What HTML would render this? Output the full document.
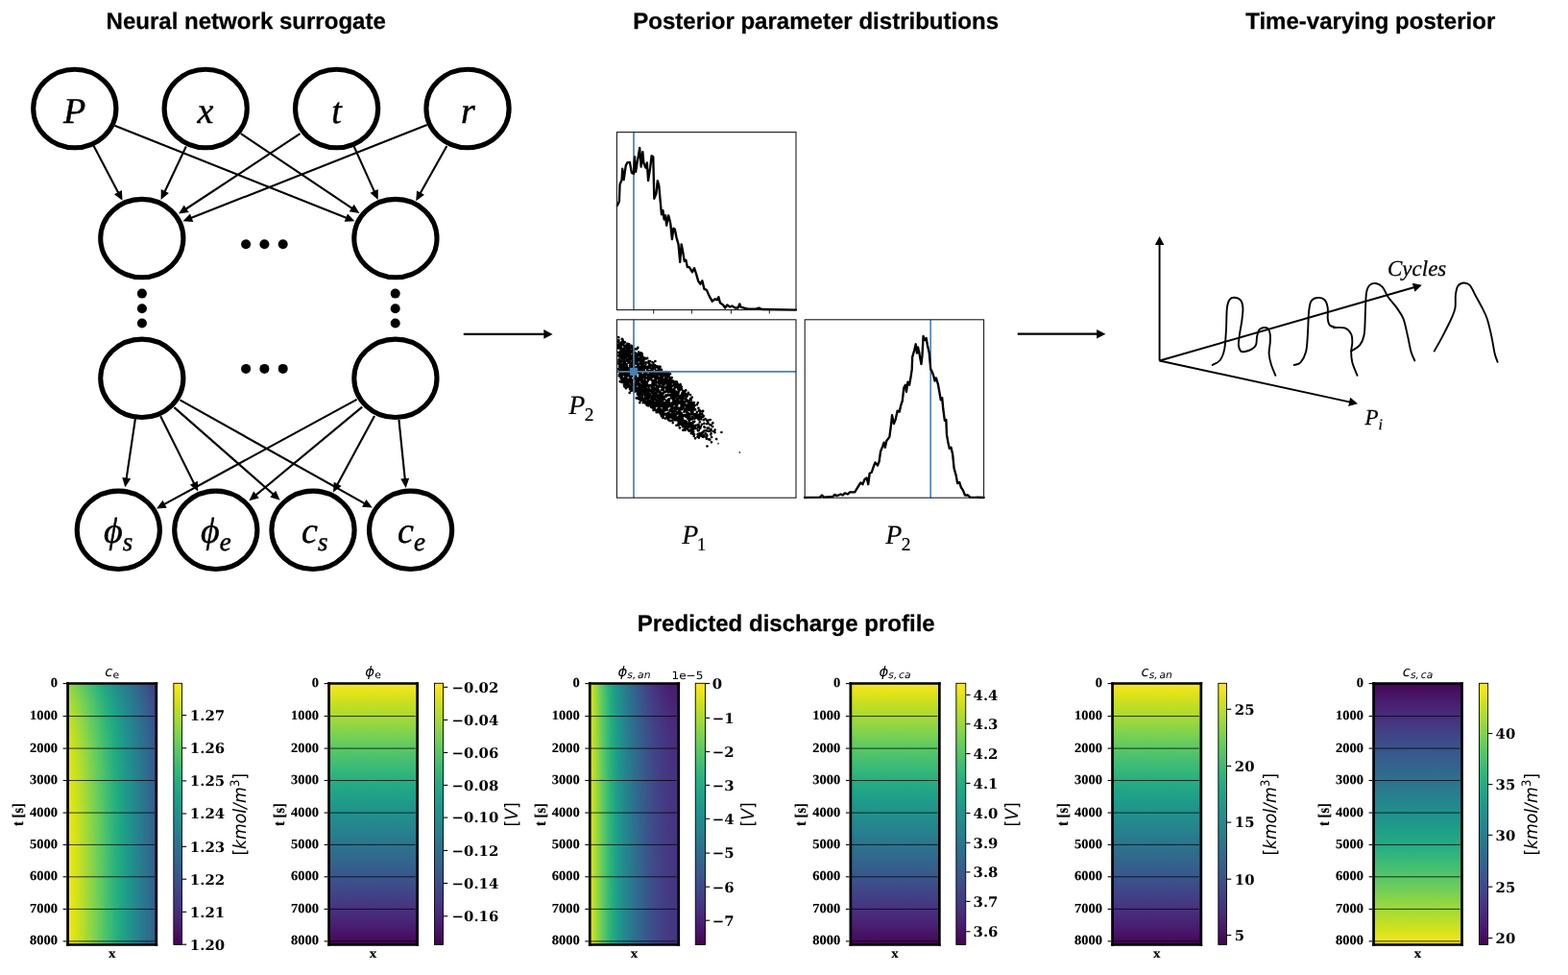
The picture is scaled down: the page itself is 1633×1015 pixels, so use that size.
<!DOCTYPE html>
<html lang="en">
<head>
<meta charset="utf-8">
<title>Neural network surrogate – posterior parameter distributions</title>
<style>
html,body{margin:0;padding:0;background:#fff;}
body{width:1633px;height:1015px;overflow:hidden;}
svg{display:block;}
text{fill:#000;text-rendering:geometricPrecision;}
</style>
</head>
<body>
<svg width="1633" height="1015" viewBox="0 0 1633 1015">
<defs>
<linearGradient id="cb" x1="0" y1="0" x2="0" y2="1"><stop offset="0%" stop-color="#fde725"/><stop offset="3.12%" stop-color="#ece51b"/><stop offset="6.25%" stop-color="#d8e219"/><stop offset="9.38%" stop-color="#c2df23"/><stop offset="12.5%" stop-color="#addc30"/><stop offset="15.62%" stop-color="#98d83e"/><stop offset="18.75%" stop-color="#84d44b"/><stop offset="21.88%" stop-color="#70cf57"/><stop offset="25%" stop-color="#5ec962"/><stop offset="28.12%" stop-color="#4ec36b"/><stop offset="31.25%" stop-color="#3fbc73"/><stop offset="34.38%" stop-color="#32b67a"/><stop offset="37.5%" stop-color="#28ae80"/><stop offset="40.62%" stop-color="#22a785"/><stop offset="43.75%" stop-color="#1fa088"/><stop offset="46.88%" stop-color="#1f988b"/><stop offset="50%" stop-color="#21918c"/><stop offset="53.12%" stop-color="#23898e"/><stop offset="56.25%" stop-color="#26828e"/><stop offset="59.38%" stop-color="#297a8e"/><stop offset="62.5%" stop-color="#2c728e"/><stop offset="65.62%" stop-color="#2f6b8e"/><stop offset="68.75%" stop-color="#33638d"/><stop offset="71.88%" stop-color="#375b8d"/><stop offset="75%" stop-color="#3b528b"/><stop offset="78.12%" stop-color="#3e4989"/><stop offset="81.25%" stop-color="#424086"/><stop offset="84.38%" stop-color="#453781"/><stop offset="87.5%" stop-color="#472d7b"/><stop offset="90.62%" stop-color="#482374"/><stop offset="93.75%" stop-color="#48186a"/><stop offset="96.88%" stop-color="#470d60"/><stop offset="100%" stop-color="#440154"/></linearGradient>
<linearGradient id="g0_0" x1="0" y1="0" x2="0" y2="1"><stop offset="0%" stop-color="#93d741"/><stop offset="8.33%" stop-color="#b8de29"/><stop offset="16.67%" stop-color="#d0e11c"/><stop offset="25%" stop-color="#dde318"/><stop offset="33.33%" stop-color="#e7e419"/><stop offset="41.67%" stop-color="#ece51b"/><stop offset="50%" stop-color="#efe51c"/><stop offset="58.33%" stop-color="#f1e51d"/><stop offset="66.67%" stop-color="#f4e61e"/><stop offset="75%" stop-color="#f4e61e"/><stop offset="83.33%" stop-color="#f4e61e"/><stop offset="91.67%" stop-color="#f4e61e"/><stop offset="100%" stop-color="#f4e61e"/></linearGradient>
<linearGradient id="g0_1" x1="0" y1="0" x2="0" y2="1"><stop offset="0%" stop-color="#90d743"/><stop offset="8.33%" stop-color="#b5de2b"/><stop offset="16.67%" stop-color="#cde11d"/><stop offset="25%" stop-color="#dae319"/><stop offset="33.33%" stop-color="#e2e418"/><stop offset="41.67%" stop-color="#eae51a"/><stop offset="50%" stop-color="#ece51b"/><stop offset="58.33%" stop-color="#efe51c"/><stop offset="66.67%" stop-color="#f1e51d"/><stop offset="75%" stop-color="#f1e51d"/><stop offset="83.33%" stop-color="#f1e51d"/><stop offset="91.67%" stop-color="#f1e51d"/><stop offset="100%" stop-color="#f1e51d"/></linearGradient>
<linearGradient id="g0_2" x1="0" y1="0" x2="0" y2="1"><stop offset="0%" stop-color="#8ed645"/><stop offset="8.33%" stop-color="#b2dd2d"/><stop offset="16.67%" stop-color="#c8e020"/><stop offset="25%" stop-color="#d8e219"/><stop offset="33.33%" stop-color="#dfe318"/><stop offset="41.67%" stop-color="#e5e419"/><stop offset="50%" stop-color="#eae51a"/><stop offset="58.33%" stop-color="#ece51b"/><stop offset="66.67%" stop-color="#ece51b"/><stop offset="75%" stop-color="#efe51c"/><stop offset="83.33%" stop-color="#efe51c"/><stop offset="91.67%" stop-color="#efe51c"/><stop offset="100%" stop-color="#efe51c"/></linearGradient>
<linearGradient id="g0_3" x1="0" y1="0" x2="0" y2="1"><stop offset="0%" stop-color="#8bd646"/><stop offset="8.33%" stop-color="#addc30"/><stop offset="16.67%" stop-color="#c5e021"/><stop offset="25%" stop-color="#d2e21b"/><stop offset="33.33%" stop-color="#dde318"/><stop offset="41.67%" stop-color="#e2e418"/><stop offset="50%" stop-color="#e5e419"/><stop offset="58.33%" stop-color="#e7e419"/><stop offset="66.67%" stop-color="#eae51a"/><stop offset="75%" stop-color="#eae51a"/><stop offset="83.33%" stop-color="#ece51b"/><stop offset="91.67%" stop-color="#ece51b"/><stop offset="100%" stop-color="#ece51b"/></linearGradient>
<linearGradient id="g0_4" x1="0" y1="0" x2="0" y2="1"><stop offset="0%" stop-color="#89d548"/><stop offset="8.33%" stop-color="#aadc32"/><stop offset="16.67%" stop-color="#c2df23"/><stop offset="25%" stop-color="#d0e11c"/><stop offset="33.33%" stop-color="#d8e219"/><stop offset="41.67%" stop-color="#dfe318"/><stop offset="50%" stop-color="#e2e418"/><stop offset="58.33%" stop-color="#e5e419"/><stop offset="66.67%" stop-color="#e7e419"/><stop offset="75%" stop-color="#e7e419"/><stop offset="83.33%" stop-color="#e7e419"/><stop offset="91.67%" stop-color="#e7e419"/><stop offset="100%" stop-color="#e7e419"/></linearGradient>
<linearGradient id="g0_5" x1="0" y1="0" x2="0" y2="1"><stop offset="0%" stop-color="#84d44b"/><stop offset="8.33%" stop-color="#a8db34"/><stop offset="16.67%" stop-color="#bddf26"/><stop offset="25%" stop-color="#cde11d"/><stop offset="33.33%" stop-color="#d5e21a"/><stop offset="41.67%" stop-color="#dae319"/><stop offset="50%" stop-color="#dfe318"/><stop offset="58.33%" stop-color="#e2e418"/><stop offset="66.67%" stop-color="#e2e418"/><stop offset="75%" stop-color="#e2e418"/><stop offset="83.33%" stop-color="#e5e419"/><stop offset="91.67%" stop-color="#e5e419"/><stop offset="100%" stop-color="#e5e419"/></linearGradient>
<linearGradient id="g0_6" x1="0" y1="0" x2="0" y2="1"><stop offset="0%" stop-color="#81d34d"/><stop offset="8.33%" stop-color="#a2da37"/><stop offset="16.67%" stop-color="#bade28"/><stop offset="25%" stop-color="#c8e020"/><stop offset="33.33%" stop-color="#d2e21b"/><stop offset="41.67%" stop-color="#d8e219"/><stop offset="50%" stop-color="#dae319"/><stop offset="58.33%" stop-color="#dde318"/><stop offset="66.67%" stop-color="#dfe318"/><stop offset="75%" stop-color="#dfe318"/><stop offset="83.33%" stop-color="#dfe318"/><stop offset="91.67%" stop-color="#dfe318"/><stop offset="100%" stop-color="#dfe318"/></linearGradient>
<linearGradient id="g0_7" x1="0" y1="0" x2="0" y2="1"><stop offset="0%" stop-color="#7cd250"/><stop offset="8.33%" stop-color="#a0da39"/><stop offset="16.67%" stop-color="#b5de2b"/><stop offset="25%" stop-color="#c5e021"/><stop offset="33.33%" stop-color="#cde11d"/><stop offset="41.67%" stop-color="#d2e21b"/><stop offset="50%" stop-color="#d8e219"/><stop offset="58.33%" stop-color="#dae319"/><stop offset="66.67%" stop-color="#dae319"/><stop offset="75%" stop-color="#dae319"/><stop offset="83.33%" stop-color="#dde318"/><stop offset="91.67%" stop-color="#dde318"/><stop offset="100%" stop-color="#dde318"/></linearGradient>
<linearGradient id="g0_8" x1="0" y1="0" x2="0" y2="1"><stop offset="0%" stop-color="#7ad151"/><stop offset="8.33%" stop-color="#9bd93c"/><stop offset="16.67%" stop-color="#b2dd2d"/><stop offset="25%" stop-color="#c0df25"/><stop offset="33.33%" stop-color="#c8e020"/><stop offset="41.67%" stop-color="#d0e11c"/><stop offset="50%" stop-color="#d2e21b"/><stop offset="58.33%" stop-color="#d5e21a"/><stop offset="66.67%" stop-color="#d8e219"/><stop offset="75%" stop-color="#d8e219"/><stop offset="83.33%" stop-color="#d8e219"/><stop offset="91.67%" stop-color="#d8e219"/><stop offset="100%" stop-color="#d8e219"/></linearGradient>
<linearGradient id="g0_9" x1="0" y1="0" x2="0" y2="1"><stop offset="0%" stop-color="#75d054"/><stop offset="8.33%" stop-color="#98d83e"/><stop offset="16.67%" stop-color="#addc30"/><stop offset="25%" stop-color="#bade28"/><stop offset="33.33%" stop-color="#c5e021"/><stop offset="41.67%" stop-color="#cae11f"/><stop offset="50%" stop-color="#cde11d"/><stop offset="58.33%" stop-color="#d0e11c"/><stop offset="66.67%" stop-color="#d2e21b"/><stop offset="75%" stop-color="#d2e21b"/><stop offset="83.33%" stop-color="#d5e21a"/><stop offset="91.67%" stop-color="#d5e21a"/><stop offset="100%" stop-color="#d5e21a"/></linearGradient>
<linearGradient id="g0_10" x1="0" y1="0" x2="0" y2="1"><stop offset="0%" stop-color="#73d056"/><stop offset="8.33%" stop-color="#93d741"/><stop offset="16.67%" stop-color="#a8db34"/><stop offset="25%" stop-color="#b8de29"/><stop offset="33.33%" stop-color="#c0df25"/><stop offset="41.67%" stop-color="#c8e020"/><stop offset="50%" stop-color="#cae11f"/><stop offset="58.33%" stop-color="#cde11d"/><stop offset="66.67%" stop-color="#cde11d"/><stop offset="75%" stop-color="#d0e11c"/><stop offset="83.33%" stop-color="#d0e11c"/><stop offset="91.67%" stop-color="#d0e11c"/><stop offset="100%" stop-color="#d0e11c"/></linearGradient>
<linearGradient id="g0_11" x1="0" y1="0" x2="0" y2="1"><stop offset="0%" stop-color="#6ece58"/><stop offset="8.33%" stop-color="#8ed645"/><stop offset="16.67%" stop-color="#a5db36"/><stop offset="25%" stop-color="#b2dd2d"/><stop offset="33.33%" stop-color="#bddf26"/><stop offset="41.67%" stop-color="#c2df23"/><stop offset="50%" stop-color="#c5e021"/><stop offset="58.33%" stop-color="#c8e020"/><stop offset="66.67%" stop-color="#cae11f"/><stop offset="75%" stop-color="#cae11f"/><stop offset="83.33%" stop-color="#cae11f"/><stop offset="91.67%" stop-color="#cae11f"/><stop offset="100%" stop-color="#cde11d"/></linearGradient>
<linearGradient id="g0_12" x1="0" y1="0" x2="0" y2="1"><stop offset="0%" stop-color="#69cd5b"/><stop offset="8.33%" stop-color="#8bd646"/><stop offset="16.67%" stop-color="#a0da39"/><stop offset="25%" stop-color="#b0dd2f"/><stop offset="33.33%" stop-color="#b8de29"/><stop offset="41.67%" stop-color="#bddf26"/><stop offset="50%" stop-color="#c2df23"/><stop offset="58.33%" stop-color="#c5e021"/><stop offset="66.67%" stop-color="#c5e021"/><stop offset="75%" stop-color="#c5e021"/><stop offset="83.33%" stop-color="#c8e020"/><stop offset="91.67%" stop-color="#c8e020"/><stop offset="100%" stop-color="#c8e020"/></linearGradient>
<linearGradient id="g0_13" x1="0" y1="0" x2="0" y2="1"><stop offset="0%" stop-color="#67cc5c"/><stop offset="8.33%" stop-color="#86d549"/><stop offset="16.67%" stop-color="#9dd93b"/><stop offset="25%" stop-color="#aadc32"/><stop offset="33.33%" stop-color="#b2dd2d"/><stop offset="41.67%" stop-color="#bade28"/><stop offset="50%" stop-color="#bddf26"/><stop offset="58.33%" stop-color="#c0df25"/><stop offset="66.67%" stop-color="#c0df25"/><stop offset="75%" stop-color="#c2df23"/><stop offset="83.33%" stop-color="#c2df23"/><stop offset="91.67%" stop-color="#c2df23"/><stop offset="100%" stop-color="#c2df23"/></linearGradient>
<linearGradient id="g0_14" x1="0" y1="0" x2="0" y2="1"><stop offset="0%" stop-color="#63cb5f"/><stop offset="8.33%" stop-color="#81d34d"/><stop offset="16.67%" stop-color="#98d83e"/><stop offset="25%" stop-color="#a5db36"/><stop offset="33.33%" stop-color="#b0dd2f"/><stop offset="41.67%" stop-color="#b5de2b"/><stop offset="50%" stop-color="#b8de29"/><stop offset="58.33%" stop-color="#bade28"/><stop offset="66.67%" stop-color="#bddf26"/><stop offset="75%" stop-color="#bddf26"/><stop offset="83.33%" stop-color="#bddf26"/><stop offset="91.67%" stop-color="#bddf26"/><stop offset="100%" stop-color="#c0df25"/></linearGradient>
<linearGradient id="g0_15" x1="0" y1="0" x2="0" y2="1"><stop offset="0%" stop-color="#60ca60"/><stop offset="8.33%" stop-color="#7fd34e"/><stop offset="16.67%" stop-color="#93d741"/><stop offset="25%" stop-color="#a2da37"/><stop offset="33.33%" stop-color="#aadc32"/><stop offset="41.67%" stop-color="#b0dd2f"/><stop offset="50%" stop-color="#b5de2b"/><stop offset="58.33%" stop-color="#b5de2b"/><stop offset="66.67%" stop-color="#b8de29"/><stop offset="75%" stop-color="#b8de29"/><stop offset="83.33%" stop-color="#bade28"/><stop offset="91.67%" stop-color="#bade28"/><stop offset="100%" stop-color="#bade28"/></linearGradient>
<linearGradient id="g0_16" x1="0" y1="0" x2="0" y2="1"><stop offset="0%" stop-color="#5cc863"/><stop offset="8.33%" stop-color="#7ad151"/><stop offset="16.67%" stop-color="#90d743"/><stop offset="25%" stop-color="#9dd93b"/><stop offset="33.33%" stop-color="#a5db36"/><stop offset="41.67%" stop-color="#aadc32"/><stop offset="50%" stop-color="#b0dd2f"/><stop offset="58.33%" stop-color="#b2dd2d"/><stop offset="66.67%" stop-color="#b2dd2d"/><stop offset="75%" stop-color="#b5de2b"/><stop offset="83.33%" stop-color="#b5de2b"/><stop offset="91.67%" stop-color="#b5de2b"/><stop offset="100%" stop-color="#b5de2b"/></linearGradient>
<linearGradient id="g0_17" x1="0" y1="0" x2="0" y2="1"><stop offset="0%" stop-color="#58c765"/><stop offset="8.33%" stop-color="#75d054"/><stop offset="16.67%" stop-color="#8bd646"/><stop offset="25%" stop-color="#98d83e"/><stop offset="33.33%" stop-color="#a2da37"/><stop offset="41.67%" stop-color="#a8db34"/><stop offset="50%" stop-color="#aadc32"/><stop offset="58.33%" stop-color="#addc30"/><stop offset="66.67%" stop-color="#b0dd2f"/><stop offset="75%" stop-color="#b0dd2f"/><stop offset="83.33%" stop-color="#b0dd2f"/><stop offset="91.67%" stop-color="#b0dd2f"/><stop offset="100%" stop-color="#b0dd2f"/></linearGradient>
<linearGradient id="g0_18" x1="0" y1="0" x2="0" y2="1"><stop offset="0%" stop-color="#54c568"/><stop offset="8.33%" stop-color="#73d056"/><stop offset="16.67%" stop-color="#86d549"/><stop offset="25%" stop-color="#93d741"/><stop offset="33.33%" stop-color="#9dd93b"/><stop offset="41.67%" stop-color="#a2da37"/><stop offset="50%" stop-color="#a5db36"/><stop offset="58.33%" stop-color="#a8db34"/><stop offset="66.67%" stop-color="#aadc32"/><stop offset="75%" stop-color="#aadc32"/><stop offset="83.33%" stop-color="#aadc32"/><stop offset="91.67%" stop-color="#addc30"/><stop offset="100%" stop-color="#addc30"/></linearGradient>
<linearGradient id="g0_19" x1="0" y1="0" x2="0" y2="1"><stop offset="0%" stop-color="#52c569"/><stop offset="8.33%" stop-color="#6ece58"/><stop offset="16.67%" stop-color="#81d34d"/><stop offset="25%" stop-color="#90d743"/><stop offset="33.33%" stop-color="#98d83e"/><stop offset="41.67%" stop-color="#9dd93b"/><stop offset="50%" stop-color="#a2da37"/><stop offset="58.33%" stop-color="#a2da37"/><stop offset="66.67%" stop-color="#a5db36"/><stop offset="75%" stop-color="#a5db36"/><stop offset="83.33%" stop-color="#a8db34"/><stop offset="91.67%" stop-color="#a8db34"/><stop offset="100%" stop-color="#a8db34"/></linearGradient>
<linearGradient id="g0_20" x1="0" y1="0" x2="0" y2="1"><stop offset="0%" stop-color="#4ec36b"/><stop offset="8.33%" stop-color="#69cd5b"/><stop offset="16.67%" stop-color="#7fd34e"/><stop offset="25%" stop-color="#8bd646"/><stop offset="33.33%" stop-color="#93d741"/><stop offset="41.67%" stop-color="#98d83e"/><stop offset="50%" stop-color="#9dd93b"/><stop offset="58.33%" stop-color="#a0da39"/><stop offset="66.67%" stop-color="#a0da39"/><stop offset="75%" stop-color="#a2da37"/><stop offset="83.33%" stop-color="#a2da37"/><stop offset="91.67%" stop-color="#a2da37"/><stop offset="100%" stop-color="#a2da37"/></linearGradient>
<linearGradient id="g0_21" x1="0" y1="0" x2="0" y2="1"><stop offset="0%" stop-color="#4ac16d"/><stop offset="8.33%" stop-color="#65cb5e"/><stop offset="16.67%" stop-color="#7ad151"/><stop offset="25%" stop-color="#86d549"/><stop offset="33.33%" stop-color="#90d743"/><stop offset="41.67%" stop-color="#95d840"/><stop offset="50%" stop-color="#98d83e"/><stop offset="58.33%" stop-color="#9bd93c"/><stop offset="66.67%" stop-color="#9bd93c"/><stop offset="75%" stop-color="#9dd93b"/><stop offset="83.33%" stop-color="#9dd93b"/><stop offset="91.67%" stop-color="#9dd93b"/><stop offset="100%" stop-color="#9dd93b"/></linearGradient>
<linearGradient id="g0_22" x1="0" y1="0" x2="0" y2="1"><stop offset="0%" stop-color="#48c16e"/><stop offset="8.33%" stop-color="#63cb5f"/><stop offset="16.67%" stop-color="#75d054"/><stop offset="25%" stop-color="#81d34d"/><stop offset="33.33%" stop-color="#8bd646"/><stop offset="41.67%" stop-color="#90d743"/><stop offset="50%" stop-color="#93d741"/><stop offset="58.33%" stop-color="#95d840"/><stop offset="66.67%" stop-color="#98d83e"/><stop offset="75%" stop-color="#98d83e"/><stop offset="83.33%" stop-color="#98d83e"/><stop offset="91.67%" stop-color="#98d83e"/><stop offset="100%" stop-color="#9bd93c"/></linearGradient>
<linearGradient id="g0_23" x1="0" y1="0" x2="0" y2="1"><stop offset="0%" stop-color="#44bf70"/><stop offset="8.33%" stop-color="#5ec962"/><stop offset="16.67%" stop-color="#70cf57"/><stop offset="25%" stop-color="#7fd34e"/><stop offset="33.33%" stop-color="#86d549"/><stop offset="41.67%" stop-color="#8bd646"/><stop offset="50%" stop-color="#8ed645"/><stop offset="58.33%" stop-color="#90d743"/><stop offset="66.67%" stop-color="#93d741"/><stop offset="75%" stop-color="#93d741"/><stop offset="83.33%" stop-color="#93d741"/><stop offset="91.67%" stop-color="#95d840"/><stop offset="100%" stop-color="#95d840"/></linearGradient>
<linearGradient id="g0_24" x1="0" y1="0" x2="0" y2="1"><stop offset="0%" stop-color="#40bd72"/><stop offset="8.33%" stop-color="#5ac864"/><stop offset="16.67%" stop-color="#6ccd5a"/><stop offset="25%" stop-color="#7ad151"/><stop offset="33.33%" stop-color="#81d34d"/><stop offset="41.67%" stop-color="#86d549"/><stop offset="50%" stop-color="#8bd646"/><stop offset="58.33%" stop-color="#8ed645"/><stop offset="66.67%" stop-color="#8ed645"/><stop offset="75%" stop-color="#8ed645"/><stop offset="83.33%" stop-color="#90d743"/><stop offset="91.67%" stop-color="#90d743"/><stop offset="100%" stop-color="#90d743"/></linearGradient>
<linearGradient id="g0_25" x1="0" y1="0" x2="0" y2="1"><stop offset="0%" stop-color="#3dbc74"/><stop offset="8.33%" stop-color="#56c667"/><stop offset="16.67%" stop-color="#69cd5b"/><stop offset="25%" stop-color="#75d054"/><stop offset="33.33%" stop-color="#7cd250"/><stop offset="41.67%" stop-color="#81d34d"/><stop offset="50%" stop-color="#86d549"/><stop offset="58.33%" stop-color="#89d548"/><stop offset="66.67%" stop-color="#89d548"/><stop offset="75%" stop-color="#8bd646"/><stop offset="83.33%" stop-color="#8bd646"/><stop offset="91.67%" stop-color="#8bd646"/><stop offset="100%" stop-color="#8bd646"/></linearGradient>
<linearGradient id="g0_26" x1="0" y1="0" x2="0" y2="1"><stop offset="0%" stop-color="#3aba76"/><stop offset="8.33%" stop-color="#54c568"/><stop offset="16.67%" stop-color="#65cb5e"/><stop offset="25%" stop-color="#70cf57"/><stop offset="33.33%" stop-color="#77d153"/><stop offset="41.67%" stop-color="#7fd34e"/><stop offset="50%" stop-color="#81d34d"/><stop offset="58.33%" stop-color="#84d44b"/><stop offset="66.67%" stop-color="#84d44b"/><stop offset="75%" stop-color="#86d549"/><stop offset="83.33%" stop-color="#86d549"/><stop offset="91.67%" stop-color="#86d549"/><stop offset="100%" stop-color="#86d549"/></linearGradient>
<linearGradient id="g0_27" x1="0" y1="0" x2="0" y2="1"><stop offset="0%" stop-color="#38b977"/><stop offset="8.33%" stop-color="#50c46a"/><stop offset="16.67%" stop-color="#60ca60"/><stop offset="25%" stop-color="#6ccd5a"/><stop offset="33.33%" stop-color="#75d054"/><stop offset="41.67%" stop-color="#7ad151"/><stop offset="50%" stop-color="#7cd250"/><stop offset="58.33%" stop-color="#7fd34e"/><stop offset="66.67%" stop-color="#81d34d"/><stop offset="75%" stop-color="#81d34d"/><stop offset="83.33%" stop-color="#81d34d"/><stop offset="91.67%" stop-color="#81d34d"/><stop offset="100%" stop-color="#81d34d"/></linearGradient>
<linearGradient id="g0_28" x1="0" y1="0" x2="0" y2="1"><stop offset="0%" stop-color="#35b779"/><stop offset="8.33%" stop-color="#4cc26c"/><stop offset="16.67%" stop-color="#5cc863"/><stop offset="25%" stop-color="#67cc5c"/><stop offset="33.33%" stop-color="#70cf57"/><stop offset="41.67%" stop-color="#75d054"/><stop offset="50%" stop-color="#77d153"/><stop offset="58.33%" stop-color="#7ad151"/><stop offset="66.67%" stop-color="#7cd250"/><stop offset="75%" stop-color="#7cd250"/><stop offset="83.33%" stop-color="#7cd250"/><stop offset="91.67%" stop-color="#7cd250"/><stop offset="100%" stop-color="#7cd250"/></linearGradient>
<linearGradient id="g0_29" x1="0" y1="0" x2="0" y2="1"><stop offset="0%" stop-color="#32b67a"/><stop offset="8.33%" stop-color="#48c16e"/><stop offset="16.67%" stop-color="#58c765"/><stop offset="25%" stop-color="#65cb5e"/><stop offset="33.33%" stop-color="#6ccd5a"/><stop offset="41.67%" stop-color="#70cf57"/><stop offset="50%" stop-color="#73d056"/><stop offset="58.33%" stop-color="#75d054"/><stop offset="66.67%" stop-color="#77d153"/><stop offset="75%" stop-color="#77d153"/><stop offset="83.33%" stop-color="#77d153"/><stop offset="91.67%" stop-color="#7ad151"/><stop offset="100%" stop-color="#7ad151"/></linearGradient>
<linearGradient id="g0_30" x1="0" y1="0" x2="0" y2="1"><stop offset="0%" stop-color="#2fb47c"/><stop offset="8.33%" stop-color="#44bf70"/><stop offset="16.67%" stop-color="#54c568"/><stop offset="25%" stop-color="#60ca60"/><stop offset="33.33%" stop-color="#67cc5c"/><stop offset="41.67%" stop-color="#6ccd5a"/><stop offset="50%" stop-color="#70cf57"/><stop offset="58.33%" stop-color="#70cf57"/><stop offset="66.67%" stop-color="#73d056"/><stop offset="75%" stop-color="#73d056"/><stop offset="83.33%" stop-color="#75d054"/><stop offset="91.67%" stop-color="#75d054"/><stop offset="100%" stop-color="#75d054"/></linearGradient>
<linearGradient id="g0_31" x1="0" y1="0" x2="0" y2="1"><stop offset="0%" stop-color="#2db27d"/><stop offset="8.33%" stop-color="#40bd72"/><stop offset="16.67%" stop-color="#52c569"/><stop offset="25%" stop-color="#5cc863"/><stop offset="33.33%" stop-color="#63cb5f"/><stop offset="41.67%" stop-color="#67cc5c"/><stop offset="50%" stop-color="#6ccd5a"/><stop offset="58.33%" stop-color="#6ccd5a"/><stop offset="66.67%" stop-color="#6ece58"/><stop offset="75%" stop-color="#6ece58"/><stop offset="83.33%" stop-color="#70cf57"/><stop offset="91.67%" stop-color="#70cf57"/><stop offset="100%" stop-color="#70cf57"/></linearGradient>
<linearGradient id="g0_32" x1="0" y1="0" x2="0" y2="1"><stop offset="0%" stop-color="#2cb17e"/><stop offset="8.33%" stop-color="#3dbc74"/><stop offset="16.67%" stop-color="#4ec36b"/><stop offset="25%" stop-color="#58c765"/><stop offset="33.33%" stop-color="#5ec962"/><stop offset="41.67%" stop-color="#63cb5f"/><stop offset="50%" stop-color="#67cc5c"/><stop offset="58.33%" stop-color="#69cd5b"/><stop offset="66.67%" stop-color="#69cd5b"/><stop offset="75%" stop-color="#69cd5b"/><stop offset="83.33%" stop-color="#6ccd5a"/><stop offset="91.67%" stop-color="#6ccd5a"/><stop offset="100%" stop-color="#6ccd5a"/></linearGradient>
<linearGradient id="g0_33" x1="0" y1="0" x2="0" y2="1"><stop offset="0%" stop-color="#29af7f"/><stop offset="8.33%" stop-color="#3bbb75"/><stop offset="16.67%" stop-color="#4ac16d"/><stop offset="25%" stop-color="#54c568"/><stop offset="33.33%" stop-color="#5ac864"/><stop offset="41.67%" stop-color="#5ec962"/><stop offset="50%" stop-color="#63cb5f"/><stop offset="58.33%" stop-color="#65cb5e"/><stop offset="66.67%" stop-color="#65cb5e"/><stop offset="75%" stop-color="#67cc5c"/><stop offset="83.33%" stop-color="#67cc5c"/><stop offset="91.67%" stop-color="#67cc5c"/><stop offset="100%" stop-color="#67cc5c"/></linearGradient>
<linearGradient id="g0_34" x1="0" y1="0" x2="0" y2="1"><stop offset="0%" stop-color="#27ad81"/><stop offset="8.33%" stop-color="#38b977"/><stop offset="16.67%" stop-color="#46c06f"/><stop offset="25%" stop-color="#50c46a"/><stop offset="33.33%" stop-color="#56c667"/><stop offset="41.67%" stop-color="#5cc863"/><stop offset="50%" stop-color="#5ec962"/><stop offset="58.33%" stop-color="#60ca60"/><stop offset="66.67%" stop-color="#60ca60"/><stop offset="75%" stop-color="#63cb5f"/><stop offset="83.33%" stop-color="#63cb5f"/><stop offset="91.67%" stop-color="#63cb5f"/><stop offset="100%" stop-color="#63cb5f"/></linearGradient>
<linearGradient id="g0_35" x1="0" y1="0" x2="0" y2="1"><stop offset="0%" stop-color="#25ac82"/><stop offset="8.33%" stop-color="#35b779"/><stop offset="16.67%" stop-color="#42be71"/><stop offset="25%" stop-color="#4cc26c"/><stop offset="33.33%" stop-color="#54c568"/><stop offset="41.67%" stop-color="#58c765"/><stop offset="50%" stop-color="#5ac864"/><stop offset="58.33%" stop-color="#5cc863"/><stop offset="66.67%" stop-color="#5cc863"/><stop offset="75%" stop-color="#5ec962"/><stop offset="83.33%" stop-color="#5ec962"/><stop offset="91.67%" stop-color="#5ec962"/><stop offset="100%" stop-color="#5ec962"/></linearGradient>
<linearGradient id="g0_36" x1="0" y1="0" x2="0" y2="1"><stop offset="0%" stop-color="#24aa83"/><stop offset="8.33%" stop-color="#32b67a"/><stop offset="16.67%" stop-color="#3fbc73"/><stop offset="25%" stop-color="#48c16e"/><stop offset="33.33%" stop-color="#50c46a"/><stop offset="41.67%" stop-color="#54c568"/><stop offset="50%" stop-color="#56c667"/><stop offset="58.33%" stop-color="#58c765"/><stop offset="66.67%" stop-color="#58c765"/><stop offset="75%" stop-color="#5ac864"/><stop offset="83.33%" stop-color="#5ac864"/><stop offset="91.67%" stop-color="#5ac864"/><stop offset="100%" stop-color="#5ac864"/></linearGradient>
<linearGradient id="g0_37" x1="0" y1="0" x2="0" y2="1"><stop offset="0%" stop-color="#22a884"/><stop offset="8.33%" stop-color="#2fb47c"/><stop offset="16.67%" stop-color="#3bbb75"/><stop offset="25%" stop-color="#44bf70"/><stop offset="33.33%" stop-color="#4cc26c"/><stop offset="41.67%" stop-color="#50c46a"/><stop offset="50%" stop-color="#52c569"/><stop offset="58.33%" stop-color="#54c568"/><stop offset="66.67%" stop-color="#56c667"/><stop offset="75%" stop-color="#56c667"/><stop offset="83.33%" stop-color="#56c667"/><stop offset="91.67%" stop-color="#56c667"/><stop offset="100%" stop-color="#56c667"/></linearGradient>
<linearGradient id="g0_38" x1="0" y1="0" x2="0" y2="1"><stop offset="0%" stop-color="#21a685"/><stop offset="8.33%" stop-color="#2db27d"/><stop offset="16.67%" stop-color="#38b977"/><stop offset="25%" stop-color="#40bd72"/><stop offset="33.33%" stop-color="#48c16e"/><stop offset="41.67%" stop-color="#4cc26c"/><stop offset="50%" stop-color="#4ec36b"/><stop offset="58.33%" stop-color="#50c46a"/><stop offset="66.67%" stop-color="#52c569"/><stop offset="75%" stop-color="#52c569"/><stop offset="83.33%" stop-color="#52c569"/><stop offset="91.67%" stop-color="#52c569"/><stop offset="100%" stop-color="#52c569"/></linearGradient>
<linearGradient id="g0_39" x1="0" y1="0" x2="0" y2="1"><stop offset="0%" stop-color="#20a486"/><stop offset="8.33%" stop-color="#2ab07f"/><stop offset="16.67%" stop-color="#35b779"/><stop offset="25%" stop-color="#3fbc73"/><stop offset="33.33%" stop-color="#44bf70"/><stop offset="41.67%" stop-color="#48c16e"/><stop offset="50%" stop-color="#4ac16d"/><stop offset="58.33%" stop-color="#4cc26c"/><stop offset="66.67%" stop-color="#4ec36b"/><stop offset="75%" stop-color="#4ec36b"/><stop offset="83.33%" stop-color="#4ec36b"/><stop offset="91.67%" stop-color="#4ec36b"/><stop offset="100%" stop-color="#4ec36b"/></linearGradient>
<linearGradient id="g0_40" x1="0" y1="0" x2="0" y2="1"><stop offset="0%" stop-color="#1fa287"/><stop offset="8.33%" stop-color="#28ae80"/><stop offset="16.67%" stop-color="#32b67a"/><stop offset="25%" stop-color="#3bbb75"/><stop offset="33.33%" stop-color="#40bd72"/><stop offset="41.67%" stop-color="#44bf70"/><stop offset="50%" stop-color="#46c06f"/><stop offset="58.33%" stop-color="#48c16e"/><stop offset="66.67%" stop-color="#4ac16d"/><stop offset="75%" stop-color="#4ac16d"/><stop offset="83.33%" stop-color="#4ac16d"/><stop offset="91.67%" stop-color="#4ac16d"/><stop offset="100%" stop-color="#4ac16d"/></linearGradient>
<linearGradient id="g0_41" x1="0" y1="0" x2="0" y2="1"><stop offset="0%" stop-color="#1fa187"/><stop offset="8.33%" stop-color="#26ad81"/><stop offset="16.67%" stop-color="#2fb47c"/><stop offset="25%" stop-color="#38b977"/><stop offset="33.33%" stop-color="#3dbc74"/><stop offset="41.67%" stop-color="#40bd72"/><stop offset="50%" stop-color="#42be71"/><stop offset="58.33%" stop-color="#44bf70"/><stop offset="66.67%" stop-color="#46c06f"/><stop offset="75%" stop-color="#46c06f"/><stop offset="83.33%" stop-color="#46c06f"/><stop offset="91.67%" stop-color="#46c06f"/><stop offset="100%" stop-color="#48c16e"/></linearGradient>
<linearGradient id="g0_42" x1="0" y1="0" x2="0" y2="1"><stop offset="0%" stop-color="#1fa088"/><stop offset="8.33%" stop-color="#25ab82"/><stop offset="16.67%" stop-color="#2eb37c"/><stop offset="25%" stop-color="#35b779"/><stop offset="33.33%" stop-color="#3aba76"/><stop offset="41.67%" stop-color="#3dbc74"/><stop offset="50%" stop-color="#3fbc73"/><stop offset="58.33%" stop-color="#40bd72"/><stop offset="66.67%" stop-color="#42be71"/><stop offset="75%" stop-color="#42be71"/><stop offset="83.33%" stop-color="#42be71"/><stop offset="91.67%" stop-color="#42be71"/><stop offset="100%" stop-color="#44bf70"/></linearGradient>
<linearGradient id="g0_43" x1="0" y1="0" x2="0" y2="1"><stop offset="0%" stop-color="#1f9e89"/><stop offset="8.33%" stop-color="#23a983"/><stop offset="16.67%" stop-color="#2cb17e"/><stop offset="25%" stop-color="#32b67a"/><stop offset="33.33%" stop-color="#37b878"/><stop offset="41.67%" stop-color="#3aba76"/><stop offset="50%" stop-color="#3bbb75"/><stop offset="58.33%" stop-color="#3dbc74"/><stop offset="66.67%" stop-color="#3fbc73"/><stop offset="75%" stop-color="#3fbc73"/><stop offset="83.33%" stop-color="#3fbc73"/><stop offset="91.67%" stop-color="#3fbc73"/><stop offset="100%" stop-color="#40bd72"/></linearGradient>
<linearGradient id="g0_44" x1="0" y1="0" x2="0" y2="1"><stop offset="0%" stop-color="#1e9c89"/><stop offset="8.33%" stop-color="#22a884"/><stop offset="16.67%" stop-color="#29af7f"/><stop offset="25%" stop-color="#2fb47c"/><stop offset="33.33%" stop-color="#34b679"/><stop offset="41.67%" stop-color="#37b878"/><stop offset="50%" stop-color="#38b977"/><stop offset="58.33%" stop-color="#3aba76"/><stop offset="66.67%" stop-color="#3bbb75"/><stop offset="75%" stop-color="#3bbb75"/><stop offset="83.33%" stop-color="#3bbb75"/><stop offset="91.67%" stop-color="#3bbb75"/><stop offset="100%" stop-color="#3dbc74"/></linearGradient>
<linearGradient id="g0_45" x1="0" y1="0" x2="0" y2="1"><stop offset="0%" stop-color="#1f9a8a"/><stop offset="8.33%" stop-color="#21a685"/><stop offset="16.67%" stop-color="#27ad81"/><stop offset="25%" stop-color="#2db27d"/><stop offset="33.33%" stop-color="#31b57b"/><stop offset="41.67%" stop-color="#34b679"/><stop offset="50%" stop-color="#35b779"/><stop offset="58.33%" stop-color="#37b878"/><stop offset="66.67%" stop-color="#38b977"/><stop offset="75%" stop-color="#38b977"/><stop offset="83.33%" stop-color="#38b977"/><stop offset="91.67%" stop-color="#3aba76"/><stop offset="100%" stop-color="#3aba76"/></linearGradient>
<linearGradient id="g0_46" x1="0" y1="0" x2="0" y2="1"><stop offset="0%" stop-color="#1f988b"/><stop offset="8.33%" stop-color="#20a486"/><stop offset="16.67%" stop-color="#25ac82"/><stop offset="25%" stop-color="#2ab07f"/><stop offset="33.33%" stop-color="#2eb37c"/><stop offset="41.67%" stop-color="#31b57b"/><stop offset="50%" stop-color="#32b67a"/><stop offset="58.33%" stop-color="#34b679"/><stop offset="66.67%" stop-color="#35b779"/><stop offset="75%" stop-color="#35b779"/><stop offset="83.33%" stop-color="#35b779"/><stop offset="91.67%" stop-color="#37b878"/><stop offset="100%" stop-color="#37b878"/></linearGradient>
<linearGradient id="g0_47" x1="0" y1="0" x2="0" y2="1"><stop offset="0%" stop-color="#1f968b"/><stop offset="8.33%" stop-color="#1fa287"/><stop offset="16.67%" stop-color="#24aa83"/><stop offset="25%" stop-color="#28ae80"/><stop offset="33.33%" stop-color="#2cb17e"/><stop offset="41.67%" stop-color="#2eb37c"/><stop offset="50%" stop-color="#2fb47c"/><stop offset="58.33%" stop-color="#31b57b"/><stop offset="66.67%" stop-color="#32b67a"/><stop offset="75%" stop-color="#32b67a"/><stop offset="83.33%" stop-color="#32b67a"/><stop offset="91.67%" stop-color="#34b679"/><stop offset="100%" stop-color="#34b679"/></linearGradient>
<linearGradient id="g0_48" x1="0" y1="0" x2="0" y2="1"><stop offset="0%" stop-color="#1f948c"/><stop offset="8.33%" stop-color="#1fa188"/><stop offset="16.67%" stop-color="#22a884"/><stop offset="25%" stop-color="#26ad81"/><stop offset="33.33%" stop-color="#29af7f"/><stop offset="41.67%" stop-color="#2cb17e"/><stop offset="50%" stop-color="#2db27d"/><stop offset="58.33%" stop-color="#2eb37c"/><stop offset="66.67%" stop-color="#2fb47c"/><stop offset="75%" stop-color="#2fb47c"/><stop offset="83.33%" stop-color="#2fb47c"/><stop offset="91.67%" stop-color="#2fb47c"/><stop offset="100%" stop-color="#31b57b"/></linearGradient>
<linearGradient id="g0_49" x1="0" y1="0" x2="0" y2="1"><stop offset="0%" stop-color="#20928c"/><stop offset="8.33%" stop-color="#1f9f88"/><stop offset="16.67%" stop-color="#21a685"/><stop offset="25%" stop-color="#25ab82"/><stop offset="33.33%" stop-color="#27ad81"/><stop offset="41.67%" stop-color="#29af7f"/><stop offset="50%" stop-color="#2ab07f"/><stop offset="58.33%" stop-color="#2cb17e"/><stop offset="66.67%" stop-color="#2db27d"/><stop offset="75%" stop-color="#2db27d"/><stop offset="83.33%" stop-color="#2db27d"/><stop offset="91.67%" stop-color="#2db27d"/><stop offset="100%" stop-color="#2eb37c"/></linearGradient>
<linearGradient id="g0_50" x1="0" y1="0" x2="0" y2="1"><stop offset="0%" stop-color="#21918c"/><stop offset="8.33%" stop-color="#1e9d89"/><stop offset="16.67%" stop-color="#20a486"/><stop offset="25%" stop-color="#23a983"/><stop offset="33.33%" stop-color="#25ac82"/><stop offset="41.67%" stop-color="#27ad81"/><stop offset="50%" stop-color="#28ae80"/><stop offset="58.33%" stop-color="#29af7f"/><stop offset="66.67%" stop-color="#2ab07f"/><stop offset="75%" stop-color="#2ab07f"/><stop offset="83.33%" stop-color="#2ab07f"/><stop offset="91.67%" stop-color="#2ab07f"/><stop offset="100%" stop-color="#2cb17e"/></linearGradient>
<linearGradient id="g0_51" x1="0" y1="0" x2="0" y2="1"><stop offset="0%" stop-color="#218f8d"/><stop offset="8.33%" stop-color="#1e9b8a"/><stop offset="16.67%" stop-color="#1fa287"/><stop offset="25%" stop-color="#22a785"/><stop offset="33.33%" stop-color="#24aa83"/><stop offset="41.67%" stop-color="#25ac82"/><stop offset="50%" stop-color="#26ad81"/><stop offset="58.33%" stop-color="#27ad81"/><stop offset="66.67%" stop-color="#28ae80"/><stop offset="75%" stop-color="#28ae80"/><stop offset="83.33%" stop-color="#28ae80"/><stop offset="91.67%" stop-color="#28ae80"/><stop offset="100%" stop-color="#29af7f"/></linearGradient>
<linearGradient id="g0_52" x1="0" y1="0" x2="0" y2="1"><stop offset="0%" stop-color="#228d8d"/><stop offset="8.33%" stop-color="#1f998a"/><stop offset="16.67%" stop-color="#1fa188"/><stop offset="25%" stop-color="#21a585"/><stop offset="33.33%" stop-color="#22a884"/><stop offset="41.67%" stop-color="#24aa83"/><stop offset="50%" stop-color="#25ab82"/><stop offset="58.33%" stop-color="#25ac82"/><stop offset="66.67%" stop-color="#26ad81"/><stop offset="75%" stop-color="#26ad81"/><stop offset="83.33%" stop-color="#26ad81"/><stop offset="91.67%" stop-color="#26ad81"/><stop offset="100%" stop-color="#26ad81"/></linearGradient>
<linearGradient id="g0_53" x1="0" y1="0" x2="0" y2="1"><stop offset="0%" stop-color="#228b8d"/><stop offset="8.33%" stop-color="#1f978b"/><stop offset="16.67%" stop-color="#1f9f88"/><stop offset="25%" stop-color="#20a386"/><stop offset="33.33%" stop-color="#21a685"/><stop offset="41.67%" stop-color="#22a884"/><stop offset="50%" stop-color="#23a983"/><stop offset="58.33%" stop-color="#24aa83"/><stop offset="66.67%" stop-color="#25ab82"/><stop offset="75%" stop-color="#25ab82"/><stop offset="83.33%" stop-color="#25ab82"/><stop offset="91.67%" stop-color="#25ab82"/><stop offset="100%" stop-color="#25ab82"/></linearGradient>
<linearGradient id="g0_54" x1="0" y1="0" x2="0" y2="1"><stop offset="0%" stop-color="#23898e"/><stop offset="8.33%" stop-color="#1f958b"/><stop offset="16.67%" stop-color="#1e9d89"/><stop offset="25%" stop-color="#1fa187"/><stop offset="33.33%" stop-color="#20a486"/><stop offset="41.67%" stop-color="#21a685"/><stop offset="50%" stop-color="#22a785"/><stop offset="58.33%" stop-color="#22a884"/><stop offset="66.67%" stop-color="#23a983"/><stop offset="75%" stop-color="#23a983"/><stop offset="83.33%" stop-color="#23a983"/><stop offset="91.67%" stop-color="#23a983"/><stop offset="100%" stop-color="#23a983"/></linearGradient>
<linearGradient id="g0_55" x1="0" y1="0" x2="0" y2="1"><stop offset="0%" stop-color="#24878e"/><stop offset="8.33%" stop-color="#20938c"/><stop offset="16.67%" stop-color="#1e9b8a"/><stop offset="25%" stop-color="#1fa088"/><stop offset="33.33%" stop-color="#1fa287"/><stop offset="41.67%" stop-color="#20a486"/><stop offset="50%" stop-color="#21a585"/><stop offset="58.33%" stop-color="#21a685"/><stop offset="66.67%" stop-color="#22a785"/><stop offset="75%" stop-color="#22a785"/><stop offset="83.33%" stop-color="#22a785"/><stop offset="91.67%" stop-color="#22a785"/><stop offset="100%" stop-color="#22a785"/></linearGradient>
<linearGradient id="g0_56" x1="0" y1="0" x2="0" y2="1"><stop offset="0%" stop-color="#25858e"/><stop offset="8.33%" stop-color="#20928c"/><stop offset="16.67%" stop-color="#1f998a"/><stop offset="25%" stop-color="#1f9e89"/><stop offset="33.33%" stop-color="#1fa188"/><stop offset="41.67%" stop-color="#1fa287"/><stop offset="50%" stop-color="#20a386"/><stop offset="58.33%" stop-color="#20a486"/><stop offset="66.67%" stop-color="#21a585"/><stop offset="75%" stop-color="#21a585"/><stop offset="83.33%" stop-color="#21a585"/><stop offset="91.67%" stop-color="#21a585"/><stop offset="100%" stop-color="#21a585"/></linearGradient>
<linearGradient id="g0_57" x1="0" y1="0" x2="0" y2="1"><stop offset="0%" stop-color="#25838e"/><stop offset="8.33%" stop-color="#21908d"/><stop offset="16.67%" stop-color="#1f978b"/><stop offset="25%" stop-color="#1e9c89"/><stop offset="33.33%" stop-color="#1f9f88"/><stop offset="41.67%" stop-color="#1fa188"/><stop offset="50%" stop-color="#1fa187"/><stop offset="58.33%" stop-color="#1fa287"/><stop offset="66.67%" stop-color="#1fa287"/><stop offset="75%" stop-color="#20a386"/><stop offset="83.33%" stop-color="#20a386"/><stop offset="91.67%" stop-color="#20a386"/><stop offset="100%" stop-color="#20a386"/></linearGradient>
<linearGradient id="g0_58" x1="0" y1="0" x2="0" y2="1"><stop offset="0%" stop-color="#26828e"/><stop offset="8.33%" stop-color="#218e8d"/><stop offset="16.67%" stop-color="#1f958b"/><stop offset="25%" stop-color="#1f9a8a"/><stop offset="33.33%" stop-color="#1e9d89"/><stop offset="41.67%" stop-color="#1f9f88"/><stop offset="50%" stop-color="#1fa088"/><stop offset="58.33%" stop-color="#1fa188"/><stop offset="66.67%" stop-color="#1fa188"/><stop offset="75%" stop-color="#1fa187"/><stop offset="83.33%" stop-color="#1fa187"/><stop offset="91.67%" stop-color="#1fa187"/><stop offset="100%" stop-color="#1fa187"/></linearGradient>
<linearGradient id="g0_59" x1="0" y1="0" x2="0" y2="1"><stop offset="0%" stop-color="#27808e"/><stop offset="8.33%" stop-color="#228c8d"/><stop offset="16.67%" stop-color="#20928c"/><stop offset="25%" stop-color="#1f978b"/><stop offset="33.33%" stop-color="#1e9b8a"/><stop offset="41.67%" stop-color="#1e9d89"/><stop offset="50%" stop-color="#1f9e89"/><stop offset="58.33%" stop-color="#1f9f88"/><stop offset="66.67%" stop-color="#1f9f88"/><stop offset="75%" stop-color="#1fa088"/><stop offset="83.33%" stop-color="#1fa088"/><stop offset="91.67%" stop-color="#1fa088"/><stop offset="100%" stop-color="#1fa088"/></linearGradient>
<linearGradient id="g0_60" x1="0" y1="0" x2="0" y2="1"><stop offset="0%" stop-color="#277e8e"/><stop offset="8.33%" stop-color="#238a8d"/><stop offset="16.67%" stop-color="#21918c"/><stop offset="25%" stop-color="#1f958b"/><stop offset="33.33%" stop-color="#1f998a"/><stop offset="41.67%" stop-color="#1e9b8a"/><stop offset="50%" stop-color="#1e9c89"/><stop offset="58.33%" stop-color="#1e9d89"/><stop offset="66.67%" stop-color="#1e9d89"/><stop offset="75%" stop-color="#1f9e89"/><stop offset="83.33%" stop-color="#1f9e89"/><stop offset="91.67%" stop-color="#1f9e89"/><stop offset="100%" stop-color="#1f9e89"/></linearGradient>
<linearGradient id="g0_61" x1="0" y1="0" x2="0" y2="1"><stop offset="0%" stop-color="#287c8e"/><stop offset="8.33%" stop-color="#23888e"/><stop offset="16.67%" stop-color="#218f8d"/><stop offset="25%" stop-color="#20938c"/><stop offset="33.33%" stop-color="#1f978b"/><stop offset="41.67%" stop-color="#1f998a"/><stop offset="50%" stop-color="#1f9a8a"/><stop offset="58.33%" stop-color="#1e9b8a"/><stop offset="66.67%" stop-color="#1e9b8a"/><stop offset="75%" stop-color="#1e9c89"/><stop offset="83.33%" stop-color="#1e9c89"/><stop offset="91.67%" stop-color="#1e9c89"/><stop offset="100%" stop-color="#1e9c89"/></linearGradient>
<linearGradient id="g0_62" x1="0" y1="0" x2="0" y2="1"><stop offset="0%" stop-color="#297a8e"/><stop offset="8.33%" stop-color="#25858e"/><stop offset="16.67%" stop-color="#228d8d"/><stop offset="25%" stop-color="#20928c"/><stop offset="33.33%" stop-color="#1f948c"/><stop offset="41.67%" stop-color="#1f968b"/><stop offset="50%" stop-color="#1f988b"/><stop offset="58.33%" stop-color="#1f998a"/><stop offset="66.67%" stop-color="#1f998a"/><stop offset="75%" stop-color="#1f998a"/><stop offset="83.33%" stop-color="#1f9a8a"/><stop offset="91.67%" stop-color="#1f9a8a"/><stop offset="100%" stop-color="#1f9a8a"/></linearGradient>
<linearGradient id="g0_63" x1="0" y1="0" x2="0" y2="1"><stop offset="0%" stop-color="#2a788e"/><stop offset="8.33%" stop-color="#25838e"/><stop offset="16.67%" stop-color="#228b8d"/><stop offset="25%" stop-color="#21908d"/><stop offset="33.33%" stop-color="#20928c"/><stop offset="41.67%" stop-color="#1f948c"/><stop offset="50%" stop-color="#1f968b"/><stop offset="58.33%" stop-color="#1f978b"/><stop offset="66.67%" stop-color="#1f978b"/><stop offset="75%" stop-color="#1f978b"/><stop offset="83.33%" stop-color="#1f988b"/><stop offset="91.67%" stop-color="#1f988b"/><stop offset="100%" stop-color="#1f988b"/></linearGradient>
<linearGradient id="g0_64" x1="0" y1="0" x2="0" y2="1"><stop offset="0%" stop-color="#2a768e"/><stop offset="8.33%" stop-color="#26828e"/><stop offset="16.67%" stop-color="#23898e"/><stop offset="25%" stop-color="#218e8d"/><stop offset="33.33%" stop-color="#21918c"/><stop offset="41.67%" stop-color="#20928c"/><stop offset="50%" stop-color="#1f948c"/><stop offset="58.33%" stop-color="#1f948c"/><stop offset="66.67%" stop-color="#1f958b"/><stop offset="75%" stop-color="#1f958b"/><stop offset="83.33%" stop-color="#1f958b"/><stop offset="91.67%" stop-color="#1f968b"/><stop offset="100%" stop-color="#1f968b"/></linearGradient>
<linearGradient id="g0_65" x1="0" y1="0" x2="0" y2="1"><stop offset="0%" stop-color="#2b748e"/><stop offset="8.33%" stop-color="#27808e"/><stop offset="16.67%" stop-color="#24878e"/><stop offset="25%" stop-color="#228c8d"/><stop offset="33.33%" stop-color="#218f8d"/><stop offset="41.67%" stop-color="#21918c"/><stop offset="50%" stop-color="#20928c"/><stop offset="58.33%" stop-color="#20928c"/><stop offset="66.67%" stop-color="#20938c"/><stop offset="75%" stop-color="#20938c"/><stop offset="83.33%" stop-color="#20938c"/><stop offset="91.67%" stop-color="#1f948c"/><stop offset="100%" stop-color="#1f948c"/></linearGradient>
<linearGradient id="g0_66" x1="0" y1="0" x2="0" y2="1"><stop offset="0%" stop-color="#2c728e"/><stop offset="8.33%" stop-color="#277e8e"/><stop offset="16.67%" stop-color="#25858e"/><stop offset="25%" stop-color="#238a8d"/><stop offset="33.33%" stop-color="#228d8d"/><stop offset="41.67%" stop-color="#218f8d"/><stop offset="50%" stop-color="#21908d"/><stop offset="58.33%" stop-color="#21918c"/><stop offset="66.67%" stop-color="#20928c"/><stop offset="75%" stop-color="#20928c"/><stop offset="83.33%" stop-color="#20928c"/><stop offset="91.67%" stop-color="#20928c"/><stop offset="100%" stop-color="#20928c"/></linearGradient>
<linearGradient id="g0_67" x1="0" y1="0" x2="0" y2="1"><stop offset="0%" stop-color="#2d718e"/><stop offset="8.33%" stop-color="#287c8e"/><stop offset="16.67%" stop-color="#25838e"/><stop offset="25%" stop-color="#23888e"/><stop offset="33.33%" stop-color="#228b8d"/><stop offset="41.67%" stop-color="#228d8d"/><stop offset="50%" stop-color="#218e8d"/><stop offset="58.33%" stop-color="#218f8d"/><stop offset="66.67%" stop-color="#21908d"/><stop offset="75%" stop-color="#21908d"/><stop offset="83.33%" stop-color="#21908d"/><stop offset="91.67%" stop-color="#21908d"/><stop offset="100%" stop-color="#21908d"/></linearGradient>
<linearGradient id="g0_68" x1="0" y1="0" x2="0" y2="1"><stop offset="0%" stop-color="#2e6f8e"/><stop offset="8.33%" stop-color="#297a8e"/><stop offset="16.67%" stop-color="#26828e"/><stop offset="25%" stop-color="#24868e"/><stop offset="33.33%" stop-color="#23898e"/><stop offset="41.67%" stop-color="#228b8d"/><stop offset="50%" stop-color="#228c8d"/><stop offset="58.33%" stop-color="#228d8d"/><stop offset="66.67%" stop-color="#218e8d"/><stop offset="75%" stop-color="#218e8d"/><stop offset="83.33%" stop-color="#218e8d"/><stop offset="91.67%" stop-color="#218e8d"/><stop offset="100%" stop-color="#218e8d"/></linearGradient>
<linearGradient id="g0_69" x1="0" y1="0" x2="0" y2="1"><stop offset="0%" stop-color="#2e6d8e"/><stop offset="8.33%" stop-color="#2a788e"/><stop offset="16.67%" stop-color="#27808e"/><stop offset="25%" stop-color="#25848e"/><stop offset="33.33%" stop-color="#24878e"/><stop offset="41.67%" stop-color="#23898e"/><stop offset="50%" stop-color="#238a8d"/><stop offset="58.33%" stop-color="#228b8d"/><stop offset="66.67%" stop-color="#228b8d"/><stop offset="75%" stop-color="#228c8d"/><stop offset="83.33%" stop-color="#228c8d"/><stop offset="91.67%" stop-color="#228c8d"/><stop offset="100%" stop-color="#228c8d"/></linearGradient>
<linearGradient id="g0_70" x1="0" y1="0" x2="0" y2="1"><stop offset="0%" stop-color="#2f6b8e"/><stop offset="8.33%" stop-color="#2a768e"/><stop offset="16.67%" stop-color="#277e8e"/><stop offset="25%" stop-color="#26828e"/><stop offset="33.33%" stop-color="#25858e"/><stop offset="41.67%" stop-color="#24878e"/><stop offset="50%" stop-color="#23888e"/><stop offset="58.33%" stop-color="#23898e"/><stop offset="66.67%" stop-color="#23898e"/><stop offset="75%" stop-color="#238a8d"/><stop offset="83.33%" stop-color="#238a8d"/><stop offset="91.67%" stop-color="#238a8d"/><stop offset="100%" stop-color="#238a8d"/></linearGradient>
<linearGradient id="g0_71" x1="0" y1="0" x2="0" y2="1"><stop offset="0%" stop-color="#30698e"/><stop offset="8.33%" stop-color="#2b748e"/><stop offset="16.67%" stop-color="#287c8e"/><stop offset="25%" stop-color="#27808e"/><stop offset="33.33%" stop-color="#25838e"/><stop offset="41.67%" stop-color="#25858e"/><stop offset="50%" stop-color="#24868e"/><stop offset="58.33%" stop-color="#24878e"/><stop offset="66.67%" stop-color="#24878e"/><stop offset="75%" stop-color="#24878e"/><stop offset="83.33%" stop-color="#23888e"/><stop offset="91.67%" stop-color="#23888e"/><stop offset="100%" stop-color="#23888e"/></linearGradient>
<linearGradient id="g0_72" x1="0" y1="0" x2="0" y2="1"><stop offset="0%" stop-color="#31678e"/><stop offset="8.33%" stop-color="#2c728e"/><stop offset="16.67%" stop-color="#29798e"/><stop offset="25%" stop-color="#277e8e"/><stop offset="33.33%" stop-color="#26818e"/><stop offset="41.67%" stop-color="#26828e"/><stop offset="50%" stop-color="#25848e"/><stop offset="58.33%" stop-color="#25858e"/><stop offset="66.67%" stop-color="#25858e"/><stop offset="75%" stop-color="#25858e"/><stop offset="83.33%" stop-color="#24868e"/><stop offset="91.67%" stop-color="#24868e"/><stop offset="100%" stop-color="#24868e"/></linearGradient>
<linearGradient id="g0_73" x1="0" y1="0" x2="0" y2="1"><stop offset="0%" stop-color="#32658e"/><stop offset="8.33%" stop-color="#2d718e"/><stop offset="16.67%" stop-color="#2a778e"/><stop offset="25%" stop-color="#287c8e"/><stop offset="33.33%" stop-color="#277f8e"/><stop offset="41.67%" stop-color="#26818e"/><stop offset="50%" stop-color="#26828e"/><stop offset="58.33%" stop-color="#26828e"/><stop offset="66.67%" stop-color="#25838e"/><stop offset="75%" stop-color="#25838e"/><stop offset="83.33%" stop-color="#25838e"/><stop offset="91.67%" stop-color="#25848e"/><stop offset="100%" stop-color="#25848e"/></linearGradient>
<linearGradient id="g0_74" x1="0" y1="0" x2="0" y2="1"><stop offset="0%" stop-color="#33638d"/><stop offset="8.33%" stop-color="#2e6f8e"/><stop offset="16.67%" stop-color="#2b758e"/><stop offset="25%" stop-color="#297a8e"/><stop offset="33.33%" stop-color="#287d8e"/><stop offset="41.67%" stop-color="#277f8e"/><stop offset="50%" stop-color="#27808e"/><stop offset="58.33%" stop-color="#26818e"/><stop offset="66.67%" stop-color="#26828e"/><stop offset="75%" stop-color="#26828e"/><stop offset="83.33%" stop-color="#26828e"/><stop offset="91.67%" stop-color="#26828e"/><stop offset="100%" stop-color="#26828e"/></linearGradient>
<linearGradient id="g0_75" x1="0" y1="0" x2="0" y2="1"><stop offset="0%" stop-color="#34608d"/><stop offset="8.33%" stop-color="#2f6c8e"/><stop offset="16.67%" stop-color="#2c738e"/><stop offset="25%" stop-color="#2a788e"/><stop offset="33.33%" stop-color="#297b8e"/><stop offset="41.67%" stop-color="#287d8e"/><stop offset="50%" stop-color="#277e8e"/><stop offset="58.33%" stop-color="#277f8e"/><stop offset="66.67%" stop-color="#27808e"/><stop offset="75%" stop-color="#27808e"/><stop offset="83.33%" stop-color="#27808e"/><stop offset="91.67%" stop-color="#27808e"/><stop offset="100%" stop-color="#27808e"/></linearGradient>
<linearGradient id="g0_76" x1="0" y1="0" x2="0" y2="1"><stop offset="0%" stop-color="#355e8d"/><stop offset="8.33%" stop-color="#306a8e"/><stop offset="16.67%" stop-color="#2c718e"/><stop offset="25%" stop-color="#2a768e"/><stop offset="33.33%" stop-color="#29798e"/><stop offset="41.67%" stop-color="#297b8e"/><stop offset="50%" stop-color="#287c8e"/><stop offset="58.33%" stop-color="#287d8e"/><stop offset="66.67%" stop-color="#287d8e"/><stop offset="75%" stop-color="#277e8e"/><stop offset="83.33%" stop-color="#277e8e"/><stop offset="91.67%" stop-color="#277e8e"/><stop offset="100%" stop-color="#277e8e"/></linearGradient>
<linearGradient id="g0_77" x1="0" y1="0" x2="0" y2="1"><stop offset="0%" stop-color="#365c8d"/><stop offset="8.33%" stop-color="#31688e"/><stop offset="16.67%" stop-color="#2d708e"/><stop offset="25%" stop-color="#2b748e"/><stop offset="33.33%" stop-color="#2a778e"/><stop offset="41.67%" stop-color="#29798e"/><stop offset="50%" stop-color="#297a8e"/><stop offset="58.33%" stop-color="#297b8e"/><stop offset="66.67%" stop-color="#297b8e"/><stop offset="75%" stop-color="#287c8e"/><stop offset="83.33%" stop-color="#287c8e"/><stop offset="91.67%" stop-color="#287c8e"/><stop offset="100%" stop-color="#287c8e"/></linearGradient>
<linearGradient id="g0_78" x1="0" y1="0" x2="0" y2="1"><stop offset="0%" stop-color="#375a8c"/><stop offset="8.33%" stop-color="#31668e"/><stop offset="16.67%" stop-color="#2e6e8e"/><stop offset="25%" stop-color="#2c728e"/><stop offset="33.33%" stop-color="#2b758e"/><stop offset="41.67%" stop-color="#2a778e"/><stop offset="50%" stop-color="#2a788e"/><stop offset="58.33%" stop-color="#29798e"/><stop offset="66.67%" stop-color="#29798e"/><stop offset="75%" stop-color="#297a8e"/><stop offset="83.33%" stop-color="#297a8e"/><stop offset="91.67%" stop-color="#297a8e"/><stop offset="100%" stop-color="#297a8e"/></linearGradient>
<linearGradient id="g0_79" x1="0" y1="0" x2="0" y2="1"><stop offset="0%" stop-color="#38588c"/><stop offset="8.33%" stop-color="#32648e"/><stop offset="16.67%" stop-color="#2f6c8e"/><stop offset="25%" stop-color="#2d708e"/><stop offset="33.33%" stop-color="#2c738e"/><stop offset="41.67%" stop-color="#2b758e"/><stop offset="50%" stop-color="#2a768e"/><stop offset="58.33%" stop-color="#2a778e"/><stop offset="66.67%" stop-color="#2a778e"/><stop offset="75%" stop-color="#2a778e"/><stop offset="83.33%" stop-color="#2a788e"/><stop offset="91.67%" stop-color="#2a788e"/><stop offset="100%" stop-color="#2a788e"/></linearGradient>
<linearGradient id="g0_80" x1="0" y1="0" x2="0" y2="1"><stop offset="0%" stop-color="#39558c"/><stop offset="8.33%" stop-color="#33628d"/><stop offset="16.67%" stop-color="#30698e"/><stop offset="25%" stop-color="#2e6e8e"/><stop offset="33.33%" stop-color="#2d718e"/><stop offset="41.67%" stop-color="#2c728e"/><stop offset="50%" stop-color="#2b748e"/><stop offset="58.33%" stop-color="#2b748e"/><stop offset="66.67%" stop-color="#2b758e"/><stop offset="75%" stop-color="#2b758e"/><stop offset="83.33%" stop-color="#2b758e"/><stop offset="91.67%" stop-color="#2a768e"/><stop offset="100%" stop-color="#2a768e"/></linearGradient>
<linearGradient id="g0_81" x1="0" y1="0" x2="0" y2="1"><stop offset="0%" stop-color="#3a538b"/><stop offset="8.33%" stop-color="#34608d"/><stop offset="16.67%" stop-color="#31678e"/><stop offset="25%" stop-color="#2f6c8e"/><stop offset="33.33%" stop-color="#2e6f8e"/><stop offset="41.67%" stop-color="#2d718e"/><stop offset="50%" stop-color="#2c718e"/><stop offset="58.33%" stop-color="#2c728e"/><stop offset="66.67%" stop-color="#2c738e"/><stop offset="75%" stop-color="#2c738e"/><stop offset="83.33%" stop-color="#2c738e"/><stop offset="91.67%" stop-color="#2c738e"/><stop offset="100%" stop-color="#2c738e"/></linearGradient>
<linearGradient id="g0_82" x1="0" y1="0" x2="0" y2="1"><stop offset="0%" stop-color="#3b518b"/><stop offset="8.33%" stop-color="#355e8d"/><stop offset="16.67%" stop-color="#32658e"/><stop offset="25%" stop-color="#306a8e"/><stop offset="33.33%" stop-color="#2e6d8e"/><stop offset="41.67%" stop-color="#2e6f8e"/><stop offset="50%" stop-color="#2d708e"/><stop offset="58.33%" stop-color="#2d718e"/><stop offset="66.67%" stop-color="#2c718e"/><stop offset="75%" stop-color="#2c718e"/><stop offset="83.33%" stop-color="#2c718e"/><stop offset="91.67%" stop-color="#2c718e"/><stop offset="100%" stop-color="#2c718e"/></linearGradient>
<linearGradient id="g0_83" x1="0" y1="0" x2="0" y2="1"><stop offset="0%" stop-color="#3c4f8a"/><stop offset="8.33%" stop-color="#365c8d"/><stop offset="16.67%" stop-color="#33638d"/><stop offset="25%" stop-color="#31688e"/><stop offset="33.33%" stop-color="#2f6b8e"/><stop offset="41.67%" stop-color="#2e6d8e"/><stop offset="50%" stop-color="#2e6e8e"/><stop offset="58.33%" stop-color="#2e6f8e"/><stop offset="66.67%" stop-color="#2e6f8e"/><stop offset="75%" stop-color="#2d708e"/><stop offset="83.33%" stop-color="#2d708e"/><stop offset="91.67%" stop-color="#2d708e"/><stop offset="100%" stop-color="#2d708e"/></linearGradient>
<linearGradient id="g0_84" x1="0" y1="0" x2="0" y2="1"><stop offset="0%" stop-color="#3d4d8a"/><stop offset="8.33%" stop-color="#38598c"/><stop offset="16.67%" stop-color="#34618d"/><stop offset="25%" stop-color="#31668e"/><stop offset="33.33%" stop-color="#30698e"/><stop offset="41.67%" stop-color="#2f6b8e"/><stop offset="50%" stop-color="#2f6c8e"/><stop offset="58.33%" stop-color="#2e6d8e"/><stop offset="66.67%" stop-color="#2e6d8e"/><stop offset="75%" stop-color="#2e6e8e"/><stop offset="83.33%" stop-color="#2e6e8e"/><stop offset="91.67%" stop-color="#2e6e8e"/><stop offset="100%" stop-color="#2e6e8e"/></linearGradient>
<linearGradient id="g0_85" x1="0" y1="0" x2="0" y2="1"><stop offset="0%" stop-color="#3e4989"/><stop offset="8.33%" stop-color="#39568c"/><stop offset="16.67%" stop-color="#355f8d"/><stop offset="25%" stop-color="#32648e"/><stop offset="33.33%" stop-color="#31678e"/><stop offset="41.67%" stop-color="#30698e"/><stop offset="50%" stop-color="#306a8e"/><stop offset="58.33%" stop-color="#2f6b8e"/><stop offset="66.67%" stop-color="#2f6b8e"/><stop offset="75%" stop-color="#2f6b8e"/><stop offset="83.33%" stop-color="#2f6c8e"/><stop offset="91.67%" stop-color="#2f6c8e"/><stop offset="100%" stop-color="#2f6c8e"/></linearGradient>
<linearGradient id="g0_86" x1="0" y1="0" x2="0" y2="1"><stop offset="0%" stop-color="#3f4788"/><stop offset="8.33%" stop-color="#3a548c"/><stop offset="16.67%" stop-color="#365d8d"/><stop offset="25%" stop-color="#34618d"/><stop offset="33.33%" stop-color="#32648e"/><stop offset="41.67%" stop-color="#31668e"/><stop offset="50%" stop-color="#31688e"/><stop offset="58.33%" stop-color="#31688e"/><stop offset="66.67%" stop-color="#30698e"/><stop offset="75%" stop-color="#30698e"/><stop offset="83.33%" stop-color="#30698e"/><stop offset="91.67%" stop-color="#306a8e"/><stop offset="100%" stop-color="#306a8e"/></linearGradient>
<linearGradient id="g0_87" x1="0" y1="0" x2="0" y2="1"><stop offset="0%" stop-color="#404588"/><stop offset="8.33%" stop-color="#3b528b"/><stop offset="16.67%" stop-color="#375a8c"/><stop offset="25%" stop-color="#355f8d"/><stop offset="33.33%" stop-color="#33628d"/><stop offset="41.67%" stop-color="#32648e"/><stop offset="50%" stop-color="#32658e"/><stop offset="58.33%" stop-color="#31668e"/><stop offset="66.67%" stop-color="#31678e"/><stop offset="75%" stop-color="#31678e"/><stop offset="83.33%" stop-color="#31678e"/><stop offset="91.67%" stop-color="#31678e"/><stop offset="100%" stop-color="#31678e"/></linearGradient>
<linearGradient id="g0_88" x1="0" y1="0" x2="0" y2="1"><stop offset="0%" stop-color="#414287"/><stop offset="8.33%" stop-color="#3c508b"/><stop offset="16.67%" stop-color="#38588c"/><stop offset="25%" stop-color="#365d8d"/><stop offset="33.33%" stop-color="#34608d"/><stop offset="41.67%" stop-color="#33628d"/><stop offset="50%" stop-color="#33638d"/><stop offset="58.33%" stop-color="#32648e"/><stop offset="66.67%" stop-color="#32648e"/><stop offset="75%" stop-color="#32658e"/><stop offset="83.33%" stop-color="#32658e"/><stop offset="91.67%" stop-color="#32658e"/><stop offset="100%" stop-color="#32658e"/></linearGradient>
<linearGradient id="g0_89" x1="0" y1="0" x2="0" y2="1"><stop offset="0%" stop-color="#424086"/><stop offset="8.33%" stop-color="#3d4e8a"/><stop offset="16.67%" stop-color="#39558c"/><stop offset="25%" stop-color="#375b8d"/><stop offset="33.33%" stop-color="#355e8d"/><stop offset="41.67%" stop-color="#34608d"/><stop offset="50%" stop-color="#34618d"/><stop offset="58.33%" stop-color="#33628d"/><stop offset="66.67%" stop-color="#33628d"/><stop offset="75%" stop-color="#33638d"/><stop offset="83.33%" stop-color="#33638d"/><stop offset="91.67%" stop-color="#33638d"/><stop offset="100%" stop-color="#33638d"/></linearGradient>
<linearGradient id="g0_90" x1="0" y1="0" x2="0" y2="1"><stop offset="0%" stop-color="#433e85"/><stop offset="8.33%" stop-color="#3e4c8a"/><stop offset="16.67%" stop-color="#3a538b"/><stop offset="25%" stop-color="#38598c"/><stop offset="33.33%" stop-color="#365c8d"/><stop offset="41.67%" stop-color="#355e8d"/><stop offset="50%" stop-color="#355f8d"/><stop offset="58.33%" stop-color="#34608d"/><stop offset="66.67%" stop-color="#34608d"/><stop offset="75%" stop-color="#34608d"/><stop offset="83.33%" stop-color="#34618d"/><stop offset="91.67%" stop-color="#34618d"/><stop offset="100%" stop-color="#34618d"/></linearGradient>
<linearGradient id="g0_91" x1="0" y1="0" x2="0" y2="1"><stop offset="0%" stop-color="#443b84"/><stop offset="8.33%" stop-color="#3f4889"/><stop offset="16.67%" stop-color="#3b518b"/><stop offset="25%" stop-color="#39568c"/><stop offset="33.33%" stop-color="#375a8c"/><stop offset="41.67%" stop-color="#375b8d"/><stop offset="50%" stop-color="#365d8d"/><stop offset="58.33%" stop-color="#365d8d"/><stop offset="66.67%" stop-color="#355e8d"/><stop offset="75%" stop-color="#355e8d"/><stop offset="83.33%" stop-color="#355e8d"/><stop offset="91.67%" stop-color="#355f8d"/><stop offset="100%" stop-color="#355f8d"/></linearGradient>
<linearGradient id="g0_92" x1="0" y1="0" x2="0" y2="1"><stop offset="0%" stop-color="#443983"/><stop offset="8.33%" stop-color="#404688"/><stop offset="16.67%" stop-color="#3c4f8a"/><stop offset="25%" stop-color="#3a538b"/><stop offset="33.33%" stop-color="#39568c"/><stop offset="41.67%" stop-color="#38598c"/><stop offset="50%" stop-color="#375a8c"/><stop offset="58.33%" stop-color="#375b8d"/><stop offset="66.67%" stop-color="#365c8d"/><stop offset="75%" stop-color="#365c8d"/><stop offset="83.33%" stop-color="#365c8d"/><stop offset="91.67%" stop-color="#365c8d"/><stop offset="100%" stop-color="#365c8d"/></linearGradient>
<linearGradient id="g1" x1="0" y1="0" x2="0" y2="1"><stop offset="0%" stop-color="#f8e621"/><stop offset="3.12%" stop-color="#e5e419"/><stop offset="6.25%" stop-color="#d0e11c"/><stop offset="9.38%" stop-color="#bade28"/><stop offset="12.5%" stop-color="#a8db34"/><stop offset="15.62%" stop-color="#93d741"/><stop offset="18.75%" stop-color="#7fd34e"/><stop offset="21.88%" stop-color="#6ccd5a"/><stop offset="25%" stop-color="#5ac864"/><stop offset="28.12%" stop-color="#4ac16d"/><stop offset="31.25%" stop-color="#3dbc74"/><stop offset="34.38%" stop-color="#31b57b"/><stop offset="37.5%" stop-color="#27ad81"/><stop offset="40.62%" stop-color="#21a685"/><stop offset="43.75%" stop-color="#1f9f88"/><stop offset="46.88%" stop-color="#1f978b"/><stop offset="50%" stop-color="#21918c"/><stop offset="53.12%" stop-color="#23898e"/><stop offset="56.25%" stop-color="#26828e"/><stop offset="59.38%" stop-color="#297a8e"/><stop offset="62.5%" stop-color="#2c728e"/><stop offset="65.62%" stop-color="#2f6b8e"/><stop offset="68.75%" stop-color="#33638d"/><stop offset="71.88%" stop-color="#365c8d"/><stop offset="75%" stop-color="#3a538b"/><stop offset="78.12%" stop-color="#3e4a89"/><stop offset="81.25%" stop-color="#424186"/><stop offset="84.38%" stop-color="#453882"/><stop offset="87.5%" stop-color="#472e7c"/><stop offset="90.62%" stop-color="#482576"/><stop offset="93.75%" stop-color="#481b6d"/><stop offset="96.88%" stop-color="#471063"/><stop offset="100%" stop-color="#450457"/></linearGradient>
<linearGradient id="g2_0" x1="0" y1="0" x2="0" y2="1"><stop offset="0%" stop-color="#e7e419"/><stop offset="8.33%" stop-color="#e7e419"/><stop offset="16.67%" stop-color="#e7e419"/><stop offset="25%" stop-color="#e7e419"/><stop offset="33.33%" stop-color="#e7e419"/><stop offset="41.67%" stop-color="#e7e419"/><stop offset="50%" stop-color="#e7e419"/><stop offset="58.33%" stop-color="#e7e419"/><stop offset="66.67%" stop-color="#e7e419"/><stop offset="75%" stop-color="#e7e419"/><stop offset="83.33%" stop-color="#e7e419"/><stop offset="91.67%" stop-color="#e7e419"/><stop offset="100%" stop-color="#e7e419"/></linearGradient>
<linearGradient id="g2_1" x1="0" y1="0" x2="0" y2="1"><stop offset="0%" stop-color="#dae319"/><stop offset="8.33%" stop-color="#dae319"/><stop offset="16.67%" stop-color="#dde318"/><stop offset="25%" stop-color="#dde318"/><stop offset="33.33%" stop-color="#dde318"/><stop offset="41.67%" stop-color="#dde318"/><stop offset="50%" stop-color="#dde318"/><stop offset="58.33%" stop-color="#dde318"/><stop offset="66.67%" stop-color="#dde318"/><stop offset="75%" stop-color="#dde318"/><stop offset="83.33%" stop-color="#dde318"/><stop offset="91.67%" stop-color="#dde318"/><stop offset="100%" stop-color="#dde318"/></linearGradient>
<linearGradient id="g2_2" x1="0" y1="0" x2="0" y2="1"><stop offset="0%" stop-color="#d0e11c"/><stop offset="8.33%" stop-color="#d0e11c"/><stop offset="16.67%" stop-color="#d0e11c"/><stop offset="25%" stop-color="#d0e11c"/><stop offset="33.33%" stop-color="#d2e21b"/><stop offset="41.67%" stop-color="#d2e21b"/><stop offset="50%" stop-color="#d2e21b"/><stop offset="58.33%" stop-color="#d2e21b"/><stop offset="66.67%" stop-color="#d2e21b"/><stop offset="75%" stop-color="#d2e21b"/><stop offset="83.33%" stop-color="#d2e21b"/><stop offset="91.67%" stop-color="#d2e21b"/><stop offset="100%" stop-color="#d2e21b"/></linearGradient>
<linearGradient id="g2_3" x1="0" y1="0" x2="0" y2="1"><stop offset="0%" stop-color="#c2df23"/><stop offset="8.33%" stop-color="#c5e021"/><stop offset="16.67%" stop-color="#c5e021"/><stop offset="25%" stop-color="#c5e021"/><stop offset="33.33%" stop-color="#c5e021"/><stop offset="41.67%" stop-color="#c5e021"/><stop offset="50%" stop-color="#c5e021"/><stop offset="58.33%" stop-color="#c5e021"/><stop offset="66.67%" stop-color="#c5e021"/><stop offset="75%" stop-color="#c8e020"/><stop offset="83.33%" stop-color="#c8e020"/><stop offset="91.67%" stop-color="#c8e020"/><stop offset="100%" stop-color="#c8e020"/></linearGradient>
<linearGradient id="g2_4" x1="0" y1="0" x2="0" y2="1"><stop offset="0%" stop-color="#b8de29"/><stop offset="8.33%" stop-color="#b8de29"/><stop offset="16.67%" stop-color="#bade28"/><stop offset="25%" stop-color="#bade28"/><stop offset="33.33%" stop-color="#bade28"/><stop offset="41.67%" stop-color="#bade28"/><stop offset="50%" stop-color="#bade28"/><stop offset="58.33%" stop-color="#bade28"/><stop offset="66.67%" stop-color="#bade28"/><stop offset="75%" stop-color="#bade28"/><stop offset="83.33%" stop-color="#bade28"/><stop offset="91.67%" stop-color="#bade28"/><stop offset="100%" stop-color="#bade28"/></linearGradient>
<linearGradient id="g2_5" x1="0" y1="0" x2="0" y2="1"><stop offset="0%" stop-color="#aadc32"/><stop offset="8.33%" stop-color="#addc30"/><stop offset="16.67%" stop-color="#addc30"/><stop offset="25%" stop-color="#b0dd2f"/><stop offset="33.33%" stop-color="#b0dd2f"/><stop offset="41.67%" stop-color="#b0dd2f"/><stop offset="50%" stop-color="#b0dd2f"/><stop offset="58.33%" stop-color="#b0dd2f"/><stop offset="66.67%" stop-color="#b0dd2f"/><stop offset="75%" stop-color="#b0dd2f"/><stop offset="83.33%" stop-color="#b0dd2f"/><stop offset="91.67%" stop-color="#b0dd2f"/><stop offset="100%" stop-color="#b0dd2f"/></linearGradient>
<linearGradient id="g2_6" x1="0" y1="0" x2="0" y2="1"><stop offset="0%" stop-color="#a0da39"/><stop offset="8.33%" stop-color="#a2da37"/><stop offset="16.67%" stop-color="#a2da37"/><stop offset="25%" stop-color="#a5db36"/><stop offset="33.33%" stop-color="#a5db36"/><stop offset="41.67%" stop-color="#a5db36"/><stop offset="50%" stop-color="#a5db36"/><stop offset="58.33%" stop-color="#a5db36"/><stop offset="66.67%" stop-color="#a5db36"/><stop offset="75%" stop-color="#a5db36"/><stop offset="83.33%" stop-color="#a5db36"/><stop offset="91.67%" stop-color="#a5db36"/><stop offset="100%" stop-color="#a5db36"/></linearGradient>
<linearGradient id="g2_7" x1="0" y1="0" x2="0" y2="1"><stop offset="0%" stop-color="#93d741"/><stop offset="8.33%" stop-color="#95d840"/><stop offset="16.67%" stop-color="#98d83e"/><stop offset="25%" stop-color="#9bd93c"/><stop offset="33.33%" stop-color="#9bd93c"/><stop offset="41.67%" stop-color="#9bd93c"/><stop offset="50%" stop-color="#9bd93c"/><stop offset="58.33%" stop-color="#9bd93c"/><stop offset="66.67%" stop-color="#9bd93c"/><stop offset="75%" stop-color="#9bd93c"/><stop offset="83.33%" stop-color="#9bd93c"/><stop offset="91.67%" stop-color="#9bd93c"/><stop offset="100%" stop-color="#9bd93c"/></linearGradient>
<linearGradient id="g2_8" x1="0" y1="0" x2="0" y2="1"><stop offset="0%" stop-color="#89d548"/><stop offset="8.33%" stop-color="#8bd646"/><stop offset="16.67%" stop-color="#8ed645"/><stop offset="25%" stop-color="#8ed645"/><stop offset="33.33%" stop-color="#90d743"/><stop offset="41.67%" stop-color="#90d743"/><stop offset="50%" stop-color="#90d743"/><stop offset="58.33%" stop-color="#90d743"/><stop offset="66.67%" stop-color="#90d743"/><stop offset="75%" stop-color="#90d743"/><stop offset="83.33%" stop-color="#90d743"/><stop offset="91.67%" stop-color="#90d743"/><stop offset="100%" stop-color="#90d743"/></linearGradient>
<linearGradient id="g2_9" x1="0" y1="0" x2="0" y2="1"><stop offset="0%" stop-color="#7fd34e"/><stop offset="8.33%" stop-color="#81d34d"/><stop offset="16.67%" stop-color="#84d44b"/><stop offset="25%" stop-color="#84d44b"/><stop offset="33.33%" stop-color="#86d549"/><stop offset="41.67%" stop-color="#86d549"/><stop offset="50%" stop-color="#86d549"/><stop offset="58.33%" stop-color="#86d549"/><stop offset="66.67%" stop-color="#86d549"/><stop offset="75%" stop-color="#86d549"/><stop offset="83.33%" stop-color="#86d549"/><stop offset="91.67%" stop-color="#86d549"/><stop offset="100%" stop-color="#86d549"/></linearGradient>
<linearGradient id="g2_10" x1="0" y1="0" x2="0" y2="1"><stop offset="0%" stop-color="#73d056"/><stop offset="8.33%" stop-color="#77d153"/><stop offset="16.67%" stop-color="#7ad151"/><stop offset="25%" stop-color="#7cd250"/><stop offset="33.33%" stop-color="#7cd250"/><stop offset="41.67%" stop-color="#7cd250"/><stop offset="50%" stop-color="#7cd250"/><stop offset="58.33%" stop-color="#7cd250"/><stop offset="66.67%" stop-color="#7fd34e"/><stop offset="75%" stop-color="#7fd34e"/><stop offset="83.33%" stop-color="#7fd34e"/><stop offset="91.67%" stop-color="#7fd34e"/><stop offset="100%" stop-color="#7fd34e"/></linearGradient>
<linearGradient id="g2_11" x1="0" y1="0" x2="0" y2="1"><stop offset="0%" stop-color="#69cd5b"/><stop offset="8.33%" stop-color="#6ece58"/><stop offset="16.67%" stop-color="#70cf57"/><stop offset="25%" stop-color="#73d056"/><stop offset="33.33%" stop-color="#73d056"/><stop offset="41.67%" stop-color="#73d056"/><stop offset="50%" stop-color="#75d054"/><stop offset="58.33%" stop-color="#75d054"/><stop offset="66.67%" stop-color="#75d054"/><stop offset="75%" stop-color="#75d054"/><stop offset="83.33%" stop-color="#75d054"/><stop offset="91.67%" stop-color="#75d054"/><stop offset="100%" stop-color="#75d054"/></linearGradient>
<linearGradient id="g2_12" x1="0" y1="0" x2="0" y2="1"><stop offset="0%" stop-color="#60ca60"/><stop offset="8.33%" stop-color="#65cb5e"/><stop offset="16.67%" stop-color="#67cc5c"/><stop offset="25%" stop-color="#69cd5b"/><stop offset="33.33%" stop-color="#69cd5b"/><stop offset="41.67%" stop-color="#6ccd5a"/><stop offset="50%" stop-color="#6ccd5a"/><stop offset="58.33%" stop-color="#6ccd5a"/><stop offset="66.67%" stop-color="#6ccd5a"/><stop offset="75%" stop-color="#6ccd5a"/><stop offset="83.33%" stop-color="#6ccd5a"/><stop offset="91.67%" stop-color="#6ccd5a"/><stop offset="100%" stop-color="#6ccd5a"/></linearGradient>
<linearGradient id="g2_13" x1="0" y1="0" x2="0" y2="1"><stop offset="0%" stop-color="#58c765"/><stop offset="8.33%" stop-color="#5cc863"/><stop offset="16.67%" stop-color="#5ec962"/><stop offset="25%" stop-color="#60ca60"/><stop offset="33.33%" stop-color="#60ca60"/><stop offset="41.67%" stop-color="#63cb5f"/><stop offset="50%" stop-color="#63cb5f"/><stop offset="58.33%" stop-color="#63cb5f"/><stop offset="66.67%" stop-color="#63cb5f"/><stop offset="75%" stop-color="#63cb5f"/><stop offset="83.33%" stop-color="#63cb5f"/><stop offset="91.67%" stop-color="#63cb5f"/><stop offset="100%" stop-color="#63cb5f"/></linearGradient>
<linearGradient id="g2_14" x1="0" y1="0" x2="0" y2="1"><stop offset="0%" stop-color="#50c46a"/><stop offset="8.33%" stop-color="#54c568"/><stop offset="16.67%" stop-color="#56c667"/><stop offset="25%" stop-color="#58c765"/><stop offset="33.33%" stop-color="#5ac864"/><stop offset="41.67%" stop-color="#5ac864"/><stop offset="50%" stop-color="#5ac864"/><stop offset="58.33%" stop-color="#5ac864"/><stop offset="66.67%" stop-color="#5ac864"/><stop offset="75%" stop-color="#5cc863"/><stop offset="83.33%" stop-color="#5cc863"/><stop offset="91.67%" stop-color="#5cc863"/><stop offset="100%" stop-color="#5cc863"/></linearGradient>
<linearGradient id="g2_15" x1="0" y1="0" x2="0" y2="1"><stop offset="0%" stop-color="#48c16e"/><stop offset="8.33%" stop-color="#4cc26c"/><stop offset="16.67%" stop-color="#4ec36b"/><stop offset="25%" stop-color="#50c46a"/><stop offset="33.33%" stop-color="#52c569"/><stop offset="41.67%" stop-color="#52c569"/><stop offset="50%" stop-color="#54c568"/><stop offset="58.33%" stop-color="#54c568"/><stop offset="66.67%" stop-color="#54c568"/><stop offset="75%" stop-color="#54c568"/><stop offset="83.33%" stop-color="#54c568"/><stop offset="91.67%" stop-color="#54c568"/><stop offset="100%" stop-color="#54c568"/></linearGradient>
<linearGradient id="g2_16" x1="0" y1="0" x2="0" y2="1"><stop offset="0%" stop-color="#40bd72"/><stop offset="8.33%" stop-color="#44bf70"/><stop offset="16.67%" stop-color="#48c16e"/><stop offset="25%" stop-color="#4ac16d"/><stop offset="33.33%" stop-color="#4ac16d"/><stop offset="41.67%" stop-color="#4cc26c"/><stop offset="50%" stop-color="#4cc26c"/><stop offset="58.33%" stop-color="#4cc26c"/><stop offset="66.67%" stop-color="#4cc26c"/><stop offset="75%" stop-color="#4cc26c"/><stop offset="83.33%" stop-color="#4cc26c"/><stop offset="91.67%" stop-color="#4cc26c"/><stop offset="100%" stop-color="#4cc26c"/></linearGradient>
<linearGradient id="g2_17" x1="0" y1="0" x2="0" y2="1"><stop offset="0%" stop-color="#3aba76"/><stop offset="8.33%" stop-color="#3dbc74"/><stop offset="16.67%" stop-color="#40bd72"/><stop offset="25%" stop-color="#42be71"/><stop offset="33.33%" stop-color="#44bf70"/><stop offset="41.67%" stop-color="#44bf70"/><stop offset="50%" stop-color="#44bf70"/><stop offset="58.33%" stop-color="#46c06f"/><stop offset="66.67%" stop-color="#46c06f"/><stop offset="75%" stop-color="#46c06f"/><stop offset="83.33%" stop-color="#46c06f"/><stop offset="91.67%" stop-color="#46c06f"/><stop offset="100%" stop-color="#46c06f"/></linearGradient>
<linearGradient id="g2_18" x1="0" y1="0" x2="0" y2="1"><stop offset="0%" stop-color="#34b679"/><stop offset="8.33%" stop-color="#38b977"/><stop offset="16.67%" stop-color="#3aba76"/><stop offset="25%" stop-color="#3bbb75"/><stop offset="33.33%" stop-color="#3dbc74"/><stop offset="41.67%" stop-color="#3fbc73"/><stop offset="50%" stop-color="#3fbc73"/><stop offset="58.33%" stop-color="#3fbc73"/><stop offset="66.67%" stop-color="#3fbc73"/><stop offset="75%" stop-color="#3fbc73"/><stop offset="83.33%" stop-color="#3fbc73"/><stop offset="91.67%" stop-color="#3fbc73"/><stop offset="100%" stop-color="#3fbc73"/></linearGradient>
<linearGradient id="g2_19" x1="0" y1="0" x2="0" y2="1"><stop offset="0%" stop-color="#2eb37c"/><stop offset="8.33%" stop-color="#32b67a"/><stop offset="16.67%" stop-color="#35b779"/><stop offset="25%" stop-color="#37b878"/><stop offset="33.33%" stop-color="#38b977"/><stop offset="41.67%" stop-color="#38b977"/><stop offset="50%" stop-color="#38b977"/><stop offset="58.33%" stop-color="#38b977"/><stop offset="66.67%" stop-color="#3aba76"/><stop offset="75%" stop-color="#3aba76"/><stop offset="83.33%" stop-color="#3aba76"/><stop offset="91.67%" stop-color="#3aba76"/><stop offset="100%" stop-color="#3aba76"/></linearGradient>
<linearGradient id="g2_20" x1="0" y1="0" x2="0" y2="1"><stop offset="0%" stop-color="#29af7f"/><stop offset="8.33%" stop-color="#2db27d"/><stop offset="16.67%" stop-color="#2fb47c"/><stop offset="25%" stop-color="#31b57b"/><stop offset="33.33%" stop-color="#32b67a"/><stop offset="41.67%" stop-color="#34b679"/><stop offset="50%" stop-color="#34b679"/><stop offset="58.33%" stop-color="#34b679"/><stop offset="66.67%" stop-color="#34b679"/><stop offset="75%" stop-color="#34b679"/><stop offset="83.33%" stop-color="#34b679"/><stop offset="91.67%" stop-color="#34b679"/><stop offset="100%" stop-color="#34b679"/></linearGradient>
<linearGradient id="g2_21" x1="0" y1="0" x2="0" y2="1"><stop offset="0%" stop-color="#25ac82"/><stop offset="8.33%" stop-color="#29af7f"/><stop offset="16.67%" stop-color="#2cb17e"/><stop offset="25%" stop-color="#2db27d"/><stop offset="33.33%" stop-color="#2eb37c"/><stop offset="41.67%" stop-color="#2eb37c"/><stop offset="50%" stop-color="#2eb37c"/><stop offset="58.33%" stop-color="#2fb47c"/><stop offset="66.67%" stop-color="#2fb47c"/><stop offset="75%" stop-color="#2fb47c"/><stop offset="83.33%" stop-color="#2fb47c"/><stop offset="91.67%" stop-color="#2fb47c"/><stop offset="100%" stop-color="#2fb47c"/></linearGradient>
<linearGradient id="g2_22" x1="0" y1="0" x2="0" y2="1"><stop offset="0%" stop-color="#23a983"/><stop offset="8.33%" stop-color="#25ac82"/><stop offset="16.67%" stop-color="#27ad81"/><stop offset="25%" stop-color="#28ae80"/><stop offset="33.33%" stop-color="#29af7f"/><stop offset="41.67%" stop-color="#2ab07f"/><stop offset="50%" stop-color="#2ab07f"/><stop offset="58.33%" stop-color="#2ab07f"/><stop offset="66.67%" stop-color="#2ab07f"/><stop offset="75%" stop-color="#2ab07f"/><stop offset="83.33%" stop-color="#2cb17e"/><stop offset="91.67%" stop-color="#2cb17e"/><stop offset="100%" stop-color="#2cb17e"/></linearGradient>
<linearGradient id="g2_23" x1="0" y1="0" x2="0" y2="1"><stop offset="0%" stop-color="#21a585"/><stop offset="8.33%" stop-color="#22a884"/><stop offset="16.67%" stop-color="#25ab82"/><stop offset="25%" stop-color="#25ac82"/><stop offset="33.33%" stop-color="#26ad81"/><stop offset="41.67%" stop-color="#26ad81"/><stop offset="50%" stop-color="#27ad81"/><stop offset="58.33%" stop-color="#27ad81"/><stop offset="66.67%" stop-color="#27ad81"/><stop offset="75%" stop-color="#27ad81"/><stop offset="83.33%" stop-color="#27ad81"/><stop offset="91.67%" stop-color="#27ad81"/><stop offset="100%" stop-color="#27ad81"/></linearGradient>
<linearGradient id="g2_24" x1="0" y1="0" x2="0" y2="1"><stop offset="0%" stop-color="#1fa187"/><stop offset="8.33%" stop-color="#21a585"/><stop offset="16.67%" stop-color="#22a785"/><stop offset="25%" stop-color="#23a983"/><stop offset="33.33%" stop-color="#23a983"/><stop offset="41.67%" stop-color="#24aa83"/><stop offset="50%" stop-color="#24aa83"/><stop offset="58.33%" stop-color="#25ab82"/><stop offset="66.67%" stop-color="#25ab82"/><stop offset="75%" stop-color="#25ab82"/><stop offset="83.33%" stop-color="#25ab82"/><stop offset="91.67%" stop-color="#25ab82"/><stop offset="100%" stop-color="#25ab82"/></linearGradient>
<linearGradient id="g2_25" x1="0" y1="0" x2="0" y2="1"><stop offset="0%" stop-color="#1f9f88"/><stop offset="8.33%" stop-color="#1fa287"/><stop offset="16.67%" stop-color="#20a486"/><stop offset="25%" stop-color="#21a585"/><stop offset="33.33%" stop-color="#21a685"/><stop offset="41.67%" stop-color="#22a785"/><stop offset="50%" stop-color="#22a785"/><stop offset="58.33%" stop-color="#22a785"/><stop offset="66.67%" stop-color="#22a884"/><stop offset="75%" stop-color="#22a884"/><stop offset="83.33%" stop-color="#22a884"/><stop offset="91.67%" stop-color="#22a884"/><stop offset="100%" stop-color="#22a884"/></linearGradient>
<linearGradient id="g2_26" x1="0" y1="0" x2="0" y2="1"><stop offset="0%" stop-color="#1e9b8a"/><stop offset="8.33%" stop-color="#1f9f88"/><stop offset="16.67%" stop-color="#1fa188"/><stop offset="25%" stop-color="#1fa287"/><stop offset="33.33%" stop-color="#20a386"/><stop offset="41.67%" stop-color="#20a486"/><stop offset="50%" stop-color="#20a486"/><stop offset="58.33%" stop-color="#20a486"/><stop offset="66.67%" stop-color="#20a486"/><stop offset="75%" stop-color="#20a486"/><stop offset="83.33%" stop-color="#21a585"/><stop offset="91.67%" stop-color="#21a585"/><stop offset="100%" stop-color="#21a585"/></linearGradient>
<linearGradient id="g2_27" x1="0" y1="0" x2="0" y2="1"><stop offset="0%" stop-color="#1f988b"/><stop offset="8.33%" stop-color="#1e9c89"/><stop offset="16.67%" stop-color="#1f9e89"/><stop offset="25%" stop-color="#1fa088"/><stop offset="33.33%" stop-color="#1fa188"/><stop offset="41.67%" stop-color="#1fa188"/><stop offset="50%" stop-color="#1fa187"/><stop offset="58.33%" stop-color="#1fa187"/><stop offset="66.67%" stop-color="#1fa187"/><stop offset="75%" stop-color="#1fa187"/><stop offset="83.33%" stop-color="#1fa187"/><stop offset="91.67%" stop-color="#1fa187"/><stop offset="100%" stop-color="#1fa187"/></linearGradient>
<linearGradient id="g2_28" x1="0" y1="0" x2="0" y2="1"><stop offset="0%" stop-color="#1f958b"/><stop offset="8.33%" stop-color="#1f988b"/><stop offset="16.67%" stop-color="#1e9b8a"/><stop offset="25%" stop-color="#1e9d89"/><stop offset="33.33%" stop-color="#1f9e89"/><stop offset="41.67%" stop-color="#1f9e89"/><stop offset="50%" stop-color="#1f9f88"/><stop offset="58.33%" stop-color="#1f9f88"/><stop offset="66.67%" stop-color="#1f9f88"/><stop offset="75%" stop-color="#1f9f88"/><stop offset="83.33%" stop-color="#1f9f88"/><stop offset="91.67%" stop-color="#1f9f88"/><stop offset="100%" stop-color="#1f9f88"/></linearGradient>
<linearGradient id="g2_29" x1="0" y1="0" x2="0" y2="1"><stop offset="0%" stop-color="#20928c"/><stop offset="8.33%" stop-color="#1f958b"/><stop offset="16.67%" stop-color="#1f988b"/><stop offset="25%" stop-color="#1f998a"/><stop offset="33.33%" stop-color="#1e9b8a"/><stop offset="41.67%" stop-color="#1e9b8a"/><stop offset="50%" stop-color="#1e9c89"/><stop offset="58.33%" stop-color="#1e9c89"/><stop offset="66.67%" stop-color="#1e9c89"/><stop offset="75%" stop-color="#1e9c89"/><stop offset="83.33%" stop-color="#1e9c89"/><stop offset="91.67%" stop-color="#1e9c89"/><stop offset="100%" stop-color="#1e9c89"/></linearGradient>
<linearGradient id="g2_30" x1="0" y1="0" x2="0" y2="1"><stop offset="0%" stop-color="#218f8d"/><stop offset="8.33%" stop-color="#20928c"/><stop offset="16.67%" stop-color="#1f958b"/><stop offset="25%" stop-color="#1f968b"/><stop offset="33.33%" stop-color="#1f978b"/><stop offset="41.67%" stop-color="#1f988b"/><stop offset="50%" stop-color="#1f998a"/><stop offset="58.33%" stop-color="#1f998a"/><stop offset="66.67%" stop-color="#1f998a"/><stop offset="75%" stop-color="#1f998a"/><stop offset="83.33%" stop-color="#1f998a"/><stop offset="91.67%" stop-color="#1f998a"/><stop offset="100%" stop-color="#1f998a"/></linearGradient>
<linearGradient id="g2_31" x1="0" y1="0" x2="0" y2="1"><stop offset="0%" stop-color="#228c8d"/><stop offset="8.33%" stop-color="#21908d"/><stop offset="16.67%" stop-color="#20928c"/><stop offset="25%" stop-color="#20938c"/><stop offset="33.33%" stop-color="#1f948c"/><stop offset="41.67%" stop-color="#1f958b"/><stop offset="50%" stop-color="#1f968b"/><stop offset="58.33%" stop-color="#1f968b"/><stop offset="66.67%" stop-color="#1f968b"/><stop offset="75%" stop-color="#1f968b"/><stop offset="83.33%" stop-color="#1f968b"/><stop offset="91.67%" stop-color="#1f968b"/><stop offset="100%" stop-color="#1f968b"/></linearGradient>
<linearGradient id="g2_32" x1="0" y1="0" x2="0" y2="1"><stop offset="0%" stop-color="#23888e"/><stop offset="8.33%" stop-color="#228d8d"/><stop offset="16.67%" stop-color="#21908d"/><stop offset="25%" stop-color="#21918c"/><stop offset="33.33%" stop-color="#20928c"/><stop offset="41.67%" stop-color="#20928c"/><stop offset="50%" stop-color="#20938c"/><stop offset="58.33%" stop-color="#20938c"/><stop offset="66.67%" stop-color="#20938c"/><stop offset="75%" stop-color="#20938c"/><stop offset="83.33%" stop-color="#20938c"/><stop offset="91.67%" stop-color="#20938c"/><stop offset="100%" stop-color="#20938c"/></linearGradient>
<linearGradient id="g2_33" x1="0" y1="0" x2="0" y2="1"><stop offset="0%" stop-color="#25858e"/><stop offset="8.33%" stop-color="#238a8d"/><stop offset="16.67%" stop-color="#228d8d"/><stop offset="25%" stop-color="#218e8d"/><stop offset="33.33%" stop-color="#21908d"/><stop offset="41.67%" stop-color="#21908d"/><stop offset="50%" stop-color="#21918c"/><stop offset="58.33%" stop-color="#21918c"/><stop offset="66.67%" stop-color="#21918c"/><stop offset="75%" stop-color="#21918c"/><stop offset="83.33%" stop-color="#21918c"/><stop offset="91.67%" stop-color="#21918c"/><stop offset="100%" stop-color="#20928c"/></linearGradient>
<linearGradient id="g2_34" x1="0" y1="0" x2="0" y2="1"><stop offset="0%" stop-color="#26828e"/><stop offset="8.33%" stop-color="#24878e"/><stop offset="16.67%" stop-color="#238a8d"/><stop offset="25%" stop-color="#228b8d"/><stop offset="33.33%" stop-color="#228d8d"/><stop offset="41.67%" stop-color="#228d8d"/><stop offset="50%" stop-color="#218e8d"/><stop offset="58.33%" stop-color="#218e8d"/><stop offset="66.67%" stop-color="#218e8d"/><stop offset="75%" stop-color="#218f8d"/><stop offset="83.33%" stop-color="#218f8d"/><stop offset="91.67%" stop-color="#218f8d"/><stop offset="100%" stop-color="#218f8d"/></linearGradient>
<linearGradient id="g2_35" x1="0" y1="0" x2="0" y2="1"><stop offset="0%" stop-color="#27808e"/><stop offset="8.33%" stop-color="#25848e"/><stop offset="16.67%" stop-color="#24878e"/><stop offset="25%" stop-color="#23898e"/><stop offset="33.33%" stop-color="#238a8d"/><stop offset="41.67%" stop-color="#228b8d"/><stop offset="50%" stop-color="#228b8d"/><stop offset="58.33%" stop-color="#228b8d"/><stop offset="66.67%" stop-color="#228c8d"/><stop offset="75%" stop-color="#228c8d"/><stop offset="83.33%" stop-color="#228c8d"/><stop offset="91.67%" stop-color="#228c8d"/><stop offset="100%" stop-color="#228c8d"/></linearGradient>
<linearGradient id="g2_36" x1="0" y1="0" x2="0" y2="1"><stop offset="0%" stop-color="#287d8e"/><stop offset="8.33%" stop-color="#26828e"/><stop offset="16.67%" stop-color="#25848e"/><stop offset="25%" stop-color="#24868e"/><stop offset="33.33%" stop-color="#24878e"/><stop offset="41.67%" stop-color="#23888e"/><stop offset="50%" stop-color="#23888e"/><stop offset="58.33%" stop-color="#23898e"/><stop offset="66.67%" stop-color="#23898e"/><stop offset="75%" stop-color="#23898e"/><stop offset="83.33%" stop-color="#23898e"/><stop offset="91.67%" stop-color="#23898e"/><stop offset="100%" stop-color="#23898e"/></linearGradient>
<linearGradient id="g2_37" x1="0" y1="0" x2="0" y2="1"><stop offset="0%" stop-color="#297a8e"/><stop offset="8.33%" stop-color="#277f8e"/><stop offset="16.67%" stop-color="#26828e"/><stop offset="25%" stop-color="#25838e"/><stop offset="33.33%" stop-color="#25848e"/><stop offset="41.67%" stop-color="#25858e"/><stop offset="50%" stop-color="#24868e"/><stop offset="58.33%" stop-color="#24868e"/><stop offset="66.67%" stop-color="#24868e"/><stop offset="75%" stop-color="#24868e"/><stop offset="83.33%" stop-color="#24868e"/><stop offset="91.67%" stop-color="#24868e"/><stop offset="100%" stop-color="#24868e"/></linearGradient>
<linearGradient id="g2_38" x1="0" y1="0" x2="0" y2="1"><stop offset="0%" stop-color="#2a778e"/><stop offset="8.33%" stop-color="#287c8e"/><stop offset="16.67%" stop-color="#277f8e"/><stop offset="25%" stop-color="#26818e"/><stop offset="33.33%" stop-color="#26828e"/><stop offset="41.67%" stop-color="#26828e"/><stop offset="50%" stop-color="#25838e"/><stop offset="58.33%" stop-color="#25838e"/><stop offset="66.67%" stop-color="#25838e"/><stop offset="75%" stop-color="#25848e"/><stop offset="83.33%" stop-color="#25848e"/><stop offset="91.67%" stop-color="#25848e"/><stop offset="100%" stop-color="#25848e"/></linearGradient>
<linearGradient id="g2_39" x1="0" y1="0" x2="0" y2="1"><stop offset="0%" stop-color="#2b748e"/><stop offset="8.33%" stop-color="#29798e"/><stop offset="16.67%" stop-color="#287c8e"/><stop offset="25%" stop-color="#277f8e"/><stop offset="33.33%" stop-color="#27808e"/><stop offset="41.67%" stop-color="#26818e"/><stop offset="50%" stop-color="#26818e"/><stop offset="58.33%" stop-color="#26828e"/><stop offset="66.67%" stop-color="#26828e"/><stop offset="75%" stop-color="#26828e"/><stop offset="83.33%" stop-color="#26828e"/><stop offset="91.67%" stop-color="#26828e"/><stop offset="100%" stop-color="#26828e"/></linearGradient>
<linearGradient id="g2_40" x1="0" y1="0" x2="0" y2="1"><stop offset="0%" stop-color="#2c718e"/><stop offset="8.33%" stop-color="#2a768e"/><stop offset="16.67%" stop-color="#297a8e"/><stop offset="25%" stop-color="#287c8e"/><stop offset="33.33%" stop-color="#287d8e"/><stop offset="41.67%" stop-color="#277e8e"/><stop offset="50%" stop-color="#277f8e"/><stop offset="58.33%" stop-color="#277f8e"/><stop offset="66.67%" stop-color="#277f8e"/><stop offset="75%" stop-color="#277f8e"/><stop offset="83.33%" stop-color="#277f8e"/><stop offset="91.67%" stop-color="#27808e"/><stop offset="100%" stop-color="#27808e"/></linearGradient>
<linearGradient id="g2_41" x1="0" y1="0" x2="0" y2="1"><stop offset="0%" stop-color="#2e6f8e"/><stop offset="8.33%" stop-color="#2b748e"/><stop offset="16.67%" stop-color="#2a778e"/><stop offset="25%" stop-color="#29798e"/><stop offset="33.33%" stop-color="#297b8e"/><stop offset="41.67%" stop-color="#287c8e"/><stop offset="50%" stop-color="#287c8e"/><stop offset="58.33%" stop-color="#287c8e"/><stop offset="66.67%" stop-color="#287d8e"/><stop offset="75%" stop-color="#287d8e"/><stop offset="83.33%" stop-color="#287d8e"/><stop offset="91.67%" stop-color="#287d8e"/><stop offset="100%" stop-color="#287d8e"/></linearGradient>
<linearGradient id="g2_42" x1="0" y1="0" x2="0" y2="1"><stop offset="0%" stop-color="#2e6d8e"/><stop offset="8.33%" stop-color="#2c718e"/><stop offset="16.67%" stop-color="#2b758e"/><stop offset="25%" stop-color="#2a778e"/><stop offset="33.33%" stop-color="#2a788e"/><stop offset="41.67%" stop-color="#29798e"/><stop offset="50%" stop-color="#297a8e"/><stop offset="58.33%" stop-color="#297a8e"/><stop offset="66.67%" stop-color="#297a8e"/><stop offset="75%" stop-color="#297a8e"/><stop offset="83.33%" stop-color="#297a8e"/><stop offset="91.67%" stop-color="#297a8e"/><stop offset="100%" stop-color="#297b8e"/></linearGradient>
<linearGradient id="g2_43" x1="0" y1="0" x2="0" y2="1"><stop offset="0%" stop-color="#306a8e"/><stop offset="8.33%" stop-color="#2e6f8e"/><stop offset="16.67%" stop-color="#2c728e"/><stop offset="25%" stop-color="#2b748e"/><stop offset="33.33%" stop-color="#2a768e"/><stop offset="41.67%" stop-color="#2a778e"/><stop offset="50%" stop-color="#2a778e"/><stop offset="58.33%" stop-color="#2a788e"/><stop offset="66.67%" stop-color="#2a788e"/><stop offset="75%" stop-color="#2a788e"/><stop offset="83.33%" stop-color="#2a788e"/><stop offset="91.67%" stop-color="#2a788e"/><stop offset="100%" stop-color="#2a788e"/></linearGradient>
<linearGradient id="g2_44" x1="0" y1="0" x2="0" y2="1"><stop offset="0%" stop-color="#31678e"/><stop offset="8.33%" stop-color="#2e6d8e"/><stop offset="16.67%" stop-color="#2d708e"/><stop offset="25%" stop-color="#2c728e"/><stop offset="33.33%" stop-color="#2c738e"/><stop offset="41.67%" stop-color="#2b748e"/><stop offset="50%" stop-color="#2b758e"/><stop offset="58.33%" stop-color="#2b758e"/><stop offset="66.67%" stop-color="#2b758e"/><stop offset="75%" stop-color="#2b758e"/><stop offset="83.33%" stop-color="#2a768e"/><stop offset="91.67%" stop-color="#2a768e"/><stop offset="100%" stop-color="#2a768e"/></linearGradient>
<linearGradient id="g2_45" x1="0" y1="0" x2="0" y2="1"><stop offset="0%" stop-color="#32658e"/><stop offset="8.33%" stop-color="#306a8e"/><stop offset="16.67%" stop-color="#2e6e8e"/><stop offset="25%" stop-color="#2d708e"/><stop offset="33.33%" stop-color="#2c718e"/><stop offset="41.67%" stop-color="#2c728e"/><stop offset="50%" stop-color="#2c728e"/><stop offset="58.33%" stop-color="#2c738e"/><stop offset="66.67%" stop-color="#2c738e"/><stop offset="75%" stop-color="#2c738e"/><stop offset="83.33%" stop-color="#2c738e"/><stop offset="91.67%" stop-color="#2c738e"/><stop offset="100%" stop-color="#2c738e"/></linearGradient>
<linearGradient id="g2_46" x1="0" y1="0" x2="0" y2="1"><stop offset="0%" stop-color="#33628d"/><stop offset="8.33%" stop-color="#31688e"/><stop offset="16.67%" stop-color="#2f6c8e"/><stop offset="25%" stop-color="#2e6e8e"/><stop offset="33.33%" stop-color="#2e6f8e"/><stop offset="41.67%" stop-color="#2d708e"/><stop offset="50%" stop-color="#2d718e"/><stop offset="58.33%" stop-color="#2d718e"/><stop offset="66.67%" stop-color="#2c718e"/><stop offset="75%" stop-color="#2c718e"/><stop offset="83.33%" stop-color="#2c718e"/><stop offset="91.67%" stop-color="#2c718e"/><stop offset="100%" stop-color="#2c718e"/></linearGradient>
<linearGradient id="g2_47" x1="0" y1="0" x2="0" y2="1"><stop offset="0%" stop-color="#34608d"/><stop offset="8.33%" stop-color="#31668e"/><stop offset="16.67%" stop-color="#30698e"/><stop offset="25%" stop-color="#2f6c8e"/><stop offset="33.33%" stop-color="#2e6d8e"/><stop offset="41.67%" stop-color="#2e6e8e"/><stop offset="50%" stop-color="#2e6f8e"/><stop offset="58.33%" stop-color="#2e6f8e"/><stop offset="66.67%" stop-color="#2e6f8e"/><stop offset="75%" stop-color="#2d708e"/><stop offset="83.33%" stop-color="#2d708e"/><stop offset="91.67%" stop-color="#2d708e"/><stop offset="100%" stop-color="#2d708e"/></linearGradient>
<linearGradient id="g2_48" x1="0" y1="0" x2="0" y2="1"><stop offset="0%" stop-color="#365d8d"/><stop offset="8.33%" stop-color="#33638d"/><stop offset="16.67%" stop-color="#31678e"/><stop offset="25%" stop-color="#30698e"/><stop offset="33.33%" stop-color="#2f6b8e"/><stop offset="41.67%" stop-color="#2f6c8e"/><stop offset="50%" stop-color="#2e6d8e"/><stop offset="58.33%" stop-color="#2e6d8e"/><stop offset="66.67%" stop-color="#2e6d8e"/><stop offset="75%" stop-color="#2e6d8e"/><stop offset="83.33%" stop-color="#2e6d8e"/><stop offset="91.67%" stop-color="#2e6d8e"/><stop offset="100%" stop-color="#2e6e8e"/></linearGradient>
<linearGradient id="g2_49" x1="0" y1="0" x2="0" y2="1"><stop offset="0%" stop-color="#375b8d"/><stop offset="8.33%" stop-color="#34618d"/><stop offset="16.67%" stop-color="#32658e"/><stop offset="25%" stop-color="#31678e"/><stop offset="33.33%" stop-color="#30698e"/><stop offset="41.67%" stop-color="#306a8e"/><stop offset="50%" stop-color="#306a8e"/><stop offset="58.33%" stop-color="#2f6b8e"/><stop offset="66.67%" stop-color="#2f6b8e"/><stop offset="75%" stop-color="#2f6b8e"/><stop offset="83.33%" stop-color="#2f6b8e"/><stop offset="91.67%" stop-color="#2f6b8e"/><stop offset="100%" stop-color="#2f6b8e"/></linearGradient>
<linearGradient id="g2_50" x1="0" y1="0" x2="0" y2="1"><stop offset="0%" stop-color="#38588c"/><stop offset="8.33%" stop-color="#355f8d"/><stop offset="16.67%" stop-color="#33628d"/><stop offset="25%" stop-color="#32658e"/><stop offset="33.33%" stop-color="#31678e"/><stop offset="41.67%" stop-color="#31688e"/><stop offset="50%" stop-color="#31688e"/><stop offset="58.33%" stop-color="#30698e"/><stop offset="66.67%" stop-color="#30698e"/><stop offset="75%" stop-color="#30698e"/><stop offset="83.33%" stop-color="#30698e"/><stop offset="91.67%" stop-color="#30698e"/><stop offset="100%" stop-color="#30698e"/></linearGradient>
<linearGradient id="g2_51" x1="0" y1="0" x2="0" y2="1"><stop offset="0%" stop-color="#39558c"/><stop offset="8.33%" stop-color="#365c8d"/><stop offset="16.67%" stop-color="#34608d"/><stop offset="25%" stop-color="#33638d"/><stop offset="33.33%" stop-color="#32648e"/><stop offset="41.67%" stop-color="#32658e"/><stop offset="50%" stop-color="#31668e"/><stop offset="58.33%" stop-color="#31668e"/><stop offset="66.67%" stop-color="#31678e"/><stop offset="75%" stop-color="#31678e"/><stop offset="83.33%" stop-color="#31678e"/><stop offset="91.67%" stop-color="#31678e"/><stop offset="100%" stop-color="#31678e"/></linearGradient>
<linearGradient id="g2_52" x1="0" y1="0" x2="0" y2="1"><stop offset="0%" stop-color="#3a538b"/><stop offset="8.33%" stop-color="#375a8c"/><stop offset="16.67%" stop-color="#355e8d"/><stop offset="25%" stop-color="#34618d"/><stop offset="33.33%" stop-color="#33628d"/><stop offset="41.67%" stop-color="#33638d"/><stop offset="50%" stop-color="#32648e"/><stop offset="58.33%" stop-color="#32648e"/><stop offset="66.67%" stop-color="#32658e"/><stop offset="75%" stop-color="#32658e"/><stop offset="83.33%" stop-color="#32658e"/><stop offset="91.67%" stop-color="#32658e"/><stop offset="100%" stop-color="#32658e"/></linearGradient>
<linearGradient id="g2_53" x1="0" y1="0" x2="0" y2="1"><stop offset="0%" stop-color="#3b518b"/><stop offset="8.33%" stop-color="#38588c"/><stop offset="16.67%" stop-color="#365c8d"/><stop offset="25%" stop-color="#355f8d"/><stop offset="33.33%" stop-color="#34608d"/><stop offset="41.67%" stop-color="#34618d"/><stop offset="50%" stop-color="#33628d"/><stop offset="58.33%" stop-color="#33628d"/><stop offset="66.67%" stop-color="#33638d"/><stop offset="75%" stop-color="#33638d"/><stop offset="83.33%" stop-color="#33638d"/><stop offset="91.67%" stop-color="#33638d"/><stop offset="100%" stop-color="#33638d"/></linearGradient>
<linearGradient id="g2_54" x1="0" y1="0" x2="0" y2="1"><stop offset="0%" stop-color="#3c4f8a"/><stop offset="8.33%" stop-color="#39558c"/><stop offset="16.67%" stop-color="#375a8c"/><stop offset="25%" stop-color="#365d8d"/><stop offset="33.33%" stop-color="#355e8d"/><stop offset="41.67%" stop-color="#355f8d"/><stop offset="50%" stop-color="#34608d"/><stop offset="58.33%" stop-color="#34608d"/><stop offset="66.67%" stop-color="#34618d"/><stop offset="75%" stop-color="#34618d"/><stop offset="83.33%" stop-color="#34618d"/><stop offset="91.67%" stop-color="#34618d"/><stop offset="100%" stop-color="#34618d"/></linearGradient>
<linearGradient id="g2_55" x1="0" y1="0" x2="0" y2="1"><stop offset="0%" stop-color="#3e4c8a"/><stop offset="8.33%" stop-color="#3a538b"/><stop offset="16.67%" stop-color="#38588c"/><stop offset="25%" stop-color="#375b8d"/><stop offset="33.33%" stop-color="#365c8d"/><stop offset="41.67%" stop-color="#365d8d"/><stop offset="50%" stop-color="#355e8d"/><stop offset="58.33%" stop-color="#355f8d"/><stop offset="66.67%" stop-color="#355f8d"/><stop offset="75%" stop-color="#355f8d"/><stop offset="83.33%" stop-color="#355f8d"/><stop offset="91.67%" stop-color="#355f8d"/><stop offset="100%" stop-color="#355f8d"/></linearGradient>
<linearGradient id="g2_56" x1="0" y1="0" x2="0" y2="1"><stop offset="0%" stop-color="#3e4989"/><stop offset="8.33%" stop-color="#3b518b"/><stop offset="16.67%" stop-color="#39558c"/><stop offset="25%" stop-color="#38598c"/><stop offset="33.33%" stop-color="#375a8c"/><stop offset="41.67%" stop-color="#365c8d"/><stop offset="50%" stop-color="#365c8d"/><stop offset="58.33%" stop-color="#365d8d"/><stop offset="66.67%" stop-color="#365d8d"/><stop offset="75%" stop-color="#365d8d"/><stop offset="83.33%" stop-color="#365d8d"/><stop offset="91.67%" stop-color="#365d8d"/><stop offset="100%" stop-color="#365d8d"/></linearGradient>
<linearGradient id="g2_57" x1="0" y1="0" x2="0" y2="1"><stop offset="0%" stop-color="#3f4788"/><stop offset="8.33%" stop-color="#3c4f8a"/><stop offset="16.67%" stop-color="#3a538b"/><stop offset="25%" stop-color="#39568c"/><stop offset="33.33%" stop-color="#38598c"/><stop offset="41.67%" stop-color="#375a8c"/><stop offset="50%" stop-color="#375a8c"/><stop offset="58.33%" stop-color="#375b8d"/><stop offset="66.67%" stop-color="#375b8d"/><stop offset="75%" stop-color="#375b8d"/><stop offset="83.33%" stop-color="#375b8d"/><stop offset="91.67%" stop-color="#375b8d"/><stop offset="100%" stop-color="#365c8d"/></linearGradient>
<linearGradient id="g2_58" x1="0" y1="0" x2="0" y2="1"><stop offset="0%" stop-color="#404588"/><stop offset="8.33%" stop-color="#3d4d8a"/><stop offset="16.67%" stop-color="#3b518b"/><stop offset="25%" stop-color="#3a548c"/><stop offset="33.33%" stop-color="#39568c"/><stop offset="41.67%" stop-color="#38588c"/><stop offset="50%" stop-color="#38598c"/><stop offset="58.33%" stop-color="#38598c"/><stop offset="66.67%" stop-color="#38598c"/><stop offset="75%" stop-color="#375a8c"/><stop offset="83.33%" stop-color="#375a8c"/><stop offset="91.67%" stop-color="#375a8c"/><stop offset="100%" stop-color="#375a8c"/></linearGradient>
<linearGradient id="g2_59" x1="0" y1="0" x2="0" y2="1"><stop offset="0%" stop-color="#414287"/><stop offset="8.33%" stop-color="#3e4a89"/><stop offset="16.67%" stop-color="#3c508b"/><stop offset="25%" stop-color="#3b528b"/><stop offset="33.33%" stop-color="#3a548c"/><stop offset="41.67%" stop-color="#39558c"/><stop offset="50%" stop-color="#39568c"/><stop offset="58.33%" stop-color="#39568c"/><stop offset="66.67%" stop-color="#38588c"/><stop offset="75%" stop-color="#38588c"/><stop offset="83.33%" stop-color="#38588c"/><stop offset="91.67%" stop-color="#38588c"/><stop offset="100%" stop-color="#38588c"/></linearGradient>
<linearGradient id="g2_60" x1="0" y1="0" x2="0" y2="1"><stop offset="0%" stop-color="#424186"/><stop offset="8.33%" stop-color="#3f4889"/><stop offset="16.67%" stop-color="#3d4e8a"/><stop offset="25%" stop-color="#3b518b"/><stop offset="33.33%" stop-color="#3b528b"/><stop offset="41.67%" stop-color="#3a538b"/><stop offset="50%" stop-color="#3a548c"/><stop offset="58.33%" stop-color="#39558c"/><stop offset="66.67%" stop-color="#39558c"/><stop offset="75%" stop-color="#39558c"/><stop offset="83.33%" stop-color="#39558c"/><stop offset="91.67%" stop-color="#39558c"/><stop offset="100%" stop-color="#39558c"/></linearGradient>
<linearGradient id="g2_61" x1="0" y1="0" x2="0" y2="1"><stop offset="0%" stop-color="#423f85"/><stop offset="8.33%" stop-color="#3f4788"/><stop offset="16.67%" stop-color="#3e4c8a"/><stop offset="25%" stop-color="#3c4f8a"/><stop offset="33.33%" stop-color="#3b518b"/><stop offset="41.67%" stop-color="#3b528b"/><stop offset="50%" stop-color="#3a538b"/><stop offset="58.33%" stop-color="#3a538b"/><stop offset="66.67%" stop-color="#3a538b"/><stop offset="75%" stop-color="#3a538b"/><stop offset="83.33%" stop-color="#3a548c"/><stop offset="91.67%" stop-color="#3a548c"/><stop offset="100%" stop-color="#3a548c"/></linearGradient>
<linearGradient id="g2_62" x1="0" y1="0" x2="0" y2="1"><stop offset="0%" stop-color="#433d84"/><stop offset="8.33%" stop-color="#404588"/><stop offset="16.67%" stop-color="#3e4989"/><stop offset="25%" stop-color="#3d4d8a"/><stop offset="33.33%" stop-color="#3c4f8a"/><stop offset="41.67%" stop-color="#3c508b"/><stop offset="50%" stop-color="#3b518b"/><stop offset="58.33%" stop-color="#3b518b"/><stop offset="66.67%" stop-color="#3b528b"/><stop offset="75%" stop-color="#3b528b"/><stop offset="83.33%" stop-color="#3b528b"/><stop offset="91.67%" stop-color="#3b528b"/><stop offset="100%" stop-color="#3b528b"/></linearGradient>
<linearGradient id="g2_63" x1="0" y1="0" x2="0" y2="1"><stop offset="0%" stop-color="#443a83"/><stop offset="8.33%" stop-color="#414287"/><stop offset="16.67%" stop-color="#3f4889"/><stop offset="25%" stop-color="#3e4c8a"/><stop offset="33.33%" stop-color="#3d4e8a"/><stop offset="41.67%" stop-color="#3c4f8a"/><stop offset="50%" stop-color="#3c4f8a"/><stop offset="58.33%" stop-color="#3c508b"/><stop offset="66.67%" stop-color="#3c508b"/><stop offset="75%" stop-color="#3c508b"/><stop offset="83.33%" stop-color="#3c508b"/><stop offset="91.67%" stop-color="#3b518b"/><stop offset="100%" stop-color="#3b518b"/></linearGradient>
<linearGradient id="g2_64" x1="0" y1="0" x2="0" y2="1"><stop offset="0%" stop-color="#443983"/><stop offset="8.33%" stop-color="#424186"/><stop offset="16.67%" stop-color="#404688"/><stop offset="25%" stop-color="#3e4989"/><stop offset="33.33%" stop-color="#3e4c8a"/><stop offset="41.67%" stop-color="#3d4d8a"/><stop offset="50%" stop-color="#3d4e8a"/><stop offset="58.33%" stop-color="#3d4e8a"/><stop offset="66.67%" stop-color="#3c4f8a"/><stop offset="75%" stop-color="#3c4f8a"/><stop offset="83.33%" stop-color="#3c4f8a"/><stop offset="91.67%" stop-color="#3c4f8a"/><stop offset="100%" stop-color="#3c4f8a"/></linearGradient>
<linearGradient id="g2_65" x1="0" y1="0" x2="0" y2="1"><stop offset="0%" stop-color="#453781"/><stop offset="8.33%" stop-color="#423f85"/><stop offset="16.67%" stop-color="#404588"/><stop offset="25%" stop-color="#3f4889"/><stop offset="33.33%" stop-color="#3e4a89"/><stop offset="41.67%" stop-color="#3e4c8a"/><stop offset="50%" stop-color="#3e4c8a"/><stop offset="58.33%" stop-color="#3d4d8a"/><stop offset="66.67%" stop-color="#3d4d8a"/><stop offset="75%" stop-color="#3d4d8a"/><stop offset="83.33%" stop-color="#3d4e8a"/><stop offset="91.67%" stop-color="#3d4e8a"/><stop offset="100%" stop-color="#3d4e8a"/></linearGradient>
<linearGradient id="g2_66" x1="0" y1="0" x2="0" y2="1"><stop offset="0%" stop-color="#453581"/><stop offset="8.33%" stop-color="#433e85"/><stop offset="16.67%" stop-color="#414287"/><stop offset="25%" stop-color="#404688"/><stop offset="33.33%" stop-color="#3f4889"/><stop offset="41.67%" stop-color="#3e4989"/><stop offset="50%" stop-color="#3e4a89"/><stop offset="58.33%" stop-color="#3e4a89"/><stop offset="66.67%" stop-color="#3e4c8a"/><stop offset="75%" stop-color="#3e4c8a"/><stop offset="83.33%" stop-color="#3e4c8a"/><stop offset="91.67%" stop-color="#3e4c8a"/><stop offset="100%" stop-color="#3e4c8a"/></linearGradient>
<linearGradient id="g2_67" x1="0" y1="0" x2="0" y2="1"><stop offset="0%" stop-color="#46337f"/><stop offset="8.33%" stop-color="#443b84"/><stop offset="16.67%" stop-color="#424186"/><stop offset="25%" stop-color="#404588"/><stop offset="33.33%" stop-color="#3f4788"/><stop offset="41.67%" stop-color="#3f4889"/><stop offset="50%" stop-color="#3e4989"/><stop offset="58.33%" stop-color="#3e4989"/><stop offset="66.67%" stop-color="#3e4989"/><stop offset="75%" stop-color="#3e4a89"/><stop offset="83.33%" stop-color="#3e4a89"/><stop offset="91.67%" stop-color="#3e4a89"/><stop offset="100%" stop-color="#3e4a89"/></linearGradient>
<linearGradient id="g2_68" x1="0" y1="0" x2="0" y2="1"><stop offset="0%" stop-color="#46327e"/><stop offset="8.33%" stop-color="#443a83"/><stop offset="16.67%" stop-color="#424086"/><stop offset="25%" stop-color="#414487"/><stop offset="33.33%" stop-color="#404588"/><stop offset="41.67%" stop-color="#3f4788"/><stop offset="50%" stop-color="#3f4788"/><stop offset="58.33%" stop-color="#3f4889"/><stop offset="66.67%" stop-color="#3f4889"/><stop offset="75%" stop-color="#3f4889"/><stop offset="83.33%" stop-color="#3f4889"/><stop offset="91.67%" stop-color="#3e4989"/><stop offset="100%" stop-color="#3e4989"/></linearGradient>
<linearGradient id="g2_69" x1="0" y1="0" x2="0" y2="1"><stop offset="0%" stop-color="#472f7d"/><stop offset="8.33%" stop-color="#443983"/><stop offset="16.67%" stop-color="#433e85"/><stop offset="25%" stop-color="#424186"/><stop offset="33.33%" stop-color="#414487"/><stop offset="41.67%" stop-color="#404588"/><stop offset="50%" stop-color="#404688"/><stop offset="58.33%" stop-color="#3f4788"/><stop offset="66.67%" stop-color="#3f4788"/><stop offset="75%" stop-color="#3f4788"/><stop offset="83.33%" stop-color="#3f4788"/><stop offset="91.67%" stop-color="#3f4788"/><stop offset="100%" stop-color="#3f4788"/></linearGradient>
<linearGradient id="g2_70" x1="0" y1="0" x2="0" y2="1"><stop offset="0%" stop-color="#472e7c"/><stop offset="8.33%" stop-color="#453781"/><stop offset="16.67%" stop-color="#433d84"/><stop offset="25%" stop-color="#424086"/><stop offset="33.33%" stop-color="#414287"/><stop offset="41.67%" stop-color="#414487"/><stop offset="50%" stop-color="#404588"/><stop offset="58.33%" stop-color="#404588"/><stop offset="66.67%" stop-color="#404688"/><stop offset="75%" stop-color="#404688"/><stop offset="83.33%" stop-color="#404688"/><stop offset="91.67%" stop-color="#404688"/><stop offset="100%" stop-color="#404688"/></linearGradient>
<linearGradient id="g2_71" x1="0" y1="0" x2="0" y2="1"><stop offset="0%" stop-color="#472d7b"/><stop offset="8.33%" stop-color="#453581"/><stop offset="16.67%" stop-color="#443b84"/><stop offset="25%" stop-color="#423f85"/><stop offset="33.33%" stop-color="#424186"/><stop offset="41.67%" stop-color="#414287"/><stop offset="50%" stop-color="#414487"/><stop offset="58.33%" stop-color="#414487"/><stop offset="66.67%" stop-color="#414487"/><stop offset="75%" stop-color="#404588"/><stop offset="83.33%" stop-color="#404588"/><stop offset="91.67%" stop-color="#404588"/><stop offset="100%" stop-color="#404588"/></linearGradient>
<linearGradient id="g2_72" x1="0" y1="0" x2="0" y2="1"><stop offset="0%" stop-color="#472a7a"/><stop offset="8.33%" stop-color="#463480"/><stop offset="16.67%" stop-color="#443a83"/><stop offset="25%" stop-color="#433e85"/><stop offset="33.33%" stop-color="#424086"/><stop offset="41.67%" stop-color="#424186"/><stop offset="50%" stop-color="#414287"/><stop offset="58.33%" stop-color="#414287"/><stop offset="66.67%" stop-color="#414287"/><stop offset="75%" stop-color="#414487"/><stop offset="83.33%" stop-color="#414487"/><stop offset="91.67%" stop-color="#414487"/><stop offset="100%" stop-color="#414487"/></linearGradient>
<linearGradient id="g2_73" x1="0" y1="0" x2="0" y2="1"><stop offset="0%" stop-color="#482979"/><stop offset="8.33%" stop-color="#46337f"/><stop offset="16.67%" stop-color="#453882"/><stop offset="25%" stop-color="#433d84"/><stop offset="33.33%" stop-color="#433e85"/><stop offset="41.67%" stop-color="#424086"/><stop offset="50%" stop-color="#424086"/><stop offset="58.33%" stop-color="#424186"/><stop offset="66.67%" stop-color="#424186"/><stop offset="75%" stop-color="#424186"/><stop offset="83.33%" stop-color="#414287"/><stop offset="91.67%" stop-color="#414287"/><stop offset="100%" stop-color="#414287"/></linearGradient>
<linearGradient id="g2_74" x1="0" y1="0" x2="0" y2="1"><stop offset="0%" stop-color="#482878"/><stop offset="8.33%" stop-color="#46327e"/><stop offset="16.67%" stop-color="#453781"/><stop offset="25%" stop-color="#443a83"/><stop offset="33.33%" stop-color="#433d84"/><stop offset="41.67%" stop-color="#423f85"/><stop offset="50%" stop-color="#423f85"/><stop offset="58.33%" stop-color="#424086"/><stop offset="66.67%" stop-color="#424086"/><stop offset="75%" stop-color="#424086"/><stop offset="83.33%" stop-color="#424186"/><stop offset="91.67%" stop-color="#424186"/><stop offset="100%" stop-color="#424186"/></linearGradient>
<linearGradient id="g2_75" x1="0" y1="0" x2="0" y2="1"><stop offset="0%" stop-color="#482677"/><stop offset="8.33%" stop-color="#46307e"/><stop offset="16.67%" stop-color="#453581"/><stop offset="25%" stop-color="#443983"/><stop offset="33.33%" stop-color="#443b84"/><stop offset="41.67%" stop-color="#433e85"/><stop offset="50%" stop-color="#433e85"/><stop offset="58.33%" stop-color="#423f85"/><stop offset="66.67%" stop-color="#423f85"/><stop offset="75%" stop-color="#423f85"/><stop offset="83.33%" stop-color="#424086"/><stop offset="91.67%" stop-color="#424086"/><stop offset="100%" stop-color="#424086"/></linearGradient>
<linearGradient id="g2_76" x1="0" y1="0" x2="0" y2="1"><stop offset="0%" stop-color="#482576"/><stop offset="8.33%" stop-color="#472f7d"/><stop offset="16.67%" stop-color="#463480"/><stop offset="25%" stop-color="#443983"/><stop offset="33.33%" stop-color="#443a83"/><stop offset="41.67%" stop-color="#433d84"/><stop offset="50%" stop-color="#433e85"/><stop offset="58.33%" stop-color="#433e85"/><stop offset="66.67%" stop-color="#433e85"/><stop offset="75%" stop-color="#423f85"/><stop offset="83.33%" stop-color="#423f85"/><stop offset="91.67%" stop-color="#423f85"/><stop offset="100%" stop-color="#423f85"/></linearGradient>
<linearGradient id="g2_77" x1="0" y1="0" x2="0" y2="1"><stop offset="0%" stop-color="#482475"/><stop offset="8.33%" stop-color="#472e7c"/><stop offset="16.67%" stop-color="#463480"/><stop offset="25%" stop-color="#453882"/><stop offset="33.33%" stop-color="#443a83"/><stop offset="41.67%" stop-color="#443b84"/><stop offset="50%" stop-color="#433d84"/><stop offset="58.33%" stop-color="#433d84"/><stop offset="66.67%" stop-color="#433d84"/><stop offset="75%" stop-color="#433e85"/><stop offset="83.33%" stop-color="#433e85"/><stop offset="91.67%" stop-color="#433e85"/><stop offset="100%" stop-color="#433e85"/></linearGradient>
<linearGradient id="g2_78" x1="0" y1="0" x2="0" y2="1"><stop offset="0%" stop-color="#482374"/><stop offset="8.33%" stop-color="#472d7b"/><stop offset="16.67%" stop-color="#46337f"/><stop offset="25%" stop-color="#453781"/><stop offset="33.33%" stop-color="#443983"/><stop offset="41.67%" stop-color="#443a83"/><stop offset="50%" stop-color="#443b84"/><stop offset="58.33%" stop-color="#443b84"/><stop offset="66.67%" stop-color="#433d84"/><stop offset="75%" stop-color="#433d84"/><stop offset="83.33%" stop-color="#433d84"/><stop offset="91.67%" stop-color="#433d84"/><stop offset="100%" stop-color="#433d84"/></linearGradient>
<linearGradient id="g2_79" x1="0" y1="0" x2="0" y2="1"><stop offset="0%" stop-color="#482173"/><stop offset="8.33%" stop-color="#472c7a"/><stop offset="16.67%" stop-color="#46327e"/><stop offset="25%" stop-color="#453581"/><stop offset="33.33%" stop-color="#453882"/><stop offset="41.67%" stop-color="#443983"/><stop offset="50%" stop-color="#443a83"/><stop offset="58.33%" stop-color="#443b84"/><stop offset="66.67%" stop-color="#443b84"/><stop offset="75%" stop-color="#443b84"/><stop offset="83.33%" stop-color="#443b84"/><stop offset="91.67%" stop-color="#443b84"/><stop offset="100%" stop-color="#443b84"/></linearGradient>
<linearGradient id="g2_80" x1="0" y1="0" x2="0" y2="1"><stop offset="0%" stop-color="#482071"/><stop offset="8.33%" stop-color="#472a7a"/><stop offset="16.67%" stop-color="#46307e"/><stop offset="25%" stop-color="#463480"/><stop offset="33.33%" stop-color="#453781"/><stop offset="41.67%" stop-color="#443983"/><stop offset="50%" stop-color="#443983"/><stop offset="58.33%" stop-color="#443a83"/><stop offset="66.67%" stop-color="#443a83"/><stop offset="75%" stop-color="#443a83"/><stop offset="83.33%" stop-color="#443b84"/><stop offset="91.67%" stop-color="#443b84"/><stop offset="100%" stop-color="#443b84"/></linearGradient>
<linearGradient id="g2_81" x1="0" y1="0" x2="0" y2="1"><stop offset="0%" stop-color="#482071"/><stop offset="8.33%" stop-color="#482979"/><stop offset="16.67%" stop-color="#472f7d"/><stop offset="25%" stop-color="#463480"/><stop offset="33.33%" stop-color="#453781"/><stop offset="41.67%" stop-color="#453882"/><stop offset="50%" stop-color="#443983"/><stop offset="58.33%" stop-color="#443983"/><stop offset="66.67%" stop-color="#443983"/><stop offset="75%" stop-color="#443a83"/><stop offset="83.33%" stop-color="#443a83"/><stop offset="91.67%" stop-color="#443a83"/><stop offset="100%" stop-color="#443a83"/></linearGradient>
<linearGradient id="g2_82" x1="0" y1="0" x2="0" y2="1"><stop offset="0%" stop-color="#481f70"/><stop offset="8.33%" stop-color="#482979"/><stop offset="16.67%" stop-color="#472f7d"/><stop offset="25%" stop-color="#46337f"/><stop offset="33.33%" stop-color="#453581"/><stop offset="41.67%" stop-color="#453781"/><stop offset="50%" stop-color="#453882"/><stop offset="58.33%" stop-color="#443983"/><stop offset="66.67%" stop-color="#443983"/><stop offset="75%" stop-color="#443983"/><stop offset="83.33%" stop-color="#443983"/><stop offset="91.67%" stop-color="#443983"/><stop offset="100%" stop-color="#443983"/></linearGradient>
<linearGradient id="g2_83" x1="0" y1="0" x2="0" y2="1"><stop offset="0%" stop-color="#481d6f"/><stop offset="8.33%" stop-color="#482878"/><stop offset="16.67%" stop-color="#472e7c"/><stop offset="25%" stop-color="#46327e"/><stop offset="33.33%" stop-color="#463480"/><stop offset="41.67%" stop-color="#453781"/><stop offset="50%" stop-color="#453781"/><stop offset="58.33%" stop-color="#453882"/><stop offset="66.67%" stop-color="#453882"/><stop offset="75%" stop-color="#443983"/><stop offset="83.33%" stop-color="#443983"/><stop offset="91.67%" stop-color="#443983"/><stop offset="100%" stop-color="#443983"/></linearGradient>
<linearGradient id="g2_84" x1="0" y1="0" x2="0" y2="1"><stop offset="0%" stop-color="#481d6f"/><stop offset="8.33%" stop-color="#482878"/><stop offset="16.67%" stop-color="#472e7c"/><stop offset="25%" stop-color="#46327e"/><stop offset="33.33%" stop-color="#463480"/><stop offset="41.67%" stop-color="#453581"/><stop offset="50%" stop-color="#453781"/><stop offset="58.33%" stop-color="#453781"/><stop offset="66.67%" stop-color="#453882"/><stop offset="75%" stop-color="#453882"/><stop offset="83.33%" stop-color="#453882"/><stop offset="91.67%" stop-color="#453882"/><stop offset="100%" stop-color="#453882"/></linearGradient>
<linearGradient id="g2_85" x1="0" y1="0" x2="0" y2="1"><stop offset="0%" stop-color="#481c6e"/><stop offset="8.33%" stop-color="#482677"/><stop offset="16.67%" stop-color="#472d7b"/><stop offset="25%" stop-color="#46307e"/><stop offset="33.33%" stop-color="#46337f"/><stop offset="41.67%" stop-color="#453581"/><stop offset="50%" stop-color="#453581"/><stop offset="58.33%" stop-color="#453781"/><stop offset="66.67%" stop-color="#453781"/><stop offset="75%" stop-color="#453882"/><stop offset="83.33%" stop-color="#453882"/><stop offset="91.67%" stop-color="#453882"/><stop offset="100%" stop-color="#453882"/></linearGradient>
<linearGradient id="g2_86" x1="0" y1="0" x2="0" y2="1"><stop offset="0%" stop-color="#481c6e"/><stop offset="8.33%" stop-color="#482677"/><stop offset="16.67%" stop-color="#472d7b"/><stop offset="25%" stop-color="#46307e"/><stop offset="33.33%" stop-color="#46337f"/><stop offset="41.67%" stop-color="#463480"/><stop offset="50%" stop-color="#453581"/><stop offset="58.33%" stop-color="#453781"/><stop offset="66.67%" stop-color="#453781"/><stop offset="75%" stop-color="#453781"/><stop offset="83.33%" stop-color="#453781"/><stop offset="91.67%" stop-color="#453781"/><stop offset="100%" stop-color="#453781"/></linearGradient>
<linearGradient id="g2_87" x1="0" y1="0" x2="0" y2="1"><stop offset="0%" stop-color="#481b6d"/><stop offset="8.33%" stop-color="#482576"/><stop offset="16.67%" stop-color="#472c7a"/><stop offset="25%" stop-color="#46307e"/><stop offset="33.33%" stop-color="#46337f"/><stop offset="41.67%" stop-color="#463480"/><stop offset="50%" stop-color="#453581"/><stop offset="58.33%" stop-color="#453581"/><stop offset="66.67%" stop-color="#453781"/><stop offset="75%" stop-color="#453781"/><stop offset="83.33%" stop-color="#453781"/><stop offset="91.67%" stop-color="#453781"/><stop offset="100%" stop-color="#453781"/></linearGradient>
<linearGradient id="g2_88" x1="0" y1="0" x2="0" y2="1"><stop offset="0%" stop-color="#481b6d"/><stop offset="8.33%" stop-color="#482576"/><stop offset="16.67%" stop-color="#472c7a"/><stop offset="25%" stop-color="#472f7d"/><stop offset="33.33%" stop-color="#46327e"/><stop offset="41.67%" stop-color="#463480"/><stop offset="50%" stop-color="#463480"/><stop offset="58.33%" stop-color="#453581"/><stop offset="66.67%" stop-color="#453581"/><stop offset="75%" stop-color="#453581"/><stop offset="83.33%" stop-color="#453781"/><stop offset="91.67%" stop-color="#453781"/><stop offset="100%" stop-color="#453781"/></linearGradient>
<linearGradient id="g2_89" x1="0" y1="0" x2="0" y2="1"><stop offset="0%" stop-color="#481b6d"/><stop offset="8.33%" stop-color="#482576"/><stop offset="16.67%" stop-color="#472c7a"/><stop offset="25%" stop-color="#472f7d"/><stop offset="33.33%" stop-color="#46327e"/><stop offset="41.67%" stop-color="#46337f"/><stop offset="50%" stop-color="#463480"/><stop offset="58.33%" stop-color="#453581"/><stop offset="66.67%" stop-color="#453581"/><stop offset="75%" stop-color="#453581"/><stop offset="83.33%" stop-color="#453581"/><stop offset="91.67%" stop-color="#453581"/><stop offset="100%" stop-color="#453581"/></linearGradient>
<linearGradient id="g2_90" x1="0" y1="0" x2="0" y2="1"><stop offset="0%" stop-color="#481b6d"/><stop offset="8.33%" stop-color="#482576"/><stop offset="16.67%" stop-color="#472c7a"/><stop offset="25%" stop-color="#472f7d"/><stop offset="33.33%" stop-color="#46327e"/><stop offset="41.67%" stop-color="#46337f"/><stop offset="50%" stop-color="#463480"/><stop offset="58.33%" stop-color="#463480"/><stop offset="66.67%" stop-color="#453581"/><stop offset="75%" stop-color="#453581"/><stop offset="83.33%" stop-color="#453581"/><stop offset="91.67%" stop-color="#453581"/><stop offset="100%" stop-color="#453581"/></linearGradient>
<linearGradient id="g2_91" x1="0" y1="0" x2="0" y2="1"><stop offset="0%" stop-color="#481a6c"/><stop offset="8.33%" stop-color="#482475"/><stop offset="16.67%" stop-color="#472a7a"/><stop offset="25%" stop-color="#472f7d"/><stop offset="33.33%" stop-color="#46327e"/><stop offset="41.67%" stop-color="#46337f"/><stop offset="50%" stop-color="#463480"/><stop offset="58.33%" stop-color="#463480"/><stop offset="66.67%" stop-color="#453581"/><stop offset="75%" stop-color="#453581"/><stop offset="83.33%" stop-color="#453581"/><stop offset="91.67%" stop-color="#453581"/><stop offset="100%" stop-color="#453581"/></linearGradient>
<linearGradient id="g2_92" x1="0" y1="0" x2="0" y2="1"><stop offset="0%" stop-color="#481a6c"/><stop offset="8.33%" stop-color="#482475"/><stop offset="16.67%" stop-color="#472a7a"/><stop offset="25%" stop-color="#472f7d"/><stop offset="33.33%" stop-color="#46327e"/><stop offset="41.67%" stop-color="#46337f"/><stop offset="50%" stop-color="#463480"/><stop offset="58.33%" stop-color="#463480"/><stop offset="66.67%" stop-color="#453581"/><stop offset="75%" stop-color="#453581"/><stop offset="83.33%" stop-color="#453581"/><stop offset="91.67%" stop-color="#453581"/><stop offset="100%" stop-color="#453581"/></linearGradient>
<linearGradient id="g3" x1="0" y1="0" x2="0" y2="1"><stop offset="0%" stop-color="#f8e621"/><stop offset="3.12%" stop-color="#e5e419"/><stop offset="6.25%" stop-color="#d0e11c"/><stop offset="9.38%" stop-color="#bade28"/><stop offset="12.5%" stop-color="#a8db34"/><stop offset="15.62%" stop-color="#93d741"/><stop offset="18.75%" stop-color="#7fd34e"/><stop offset="21.88%" stop-color="#6ccd5a"/><stop offset="25%" stop-color="#5ac864"/><stop offset="28.12%" stop-color="#4ac16d"/><stop offset="31.25%" stop-color="#3dbc74"/><stop offset="34.38%" stop-color="#31b57b"/><stop offset="37.5%" stop-color="#27ad81"/><stop offset="40.62%" stop-color="#21a685"/><stop offset="43.75%" stop-color="#1f9f88"/><stop offset="46.88%" stop-color="#1f978b"/><stop offset="50%" stop-color="#21918c"/><stop offset="53.12%" stop-color="#23898e"/><stop offset="56.25%" stop-color="#26828e"/><stop offset="59.38%" stop-color="#297a8e"/><stop offset="62.5%" stop-color="#2c728e"/><stop offset="65.62%" stop-color="#2f6b8e"/><stop offset="68.75%" stop-color="#33638d"/><stop offset="71.88%" stop-color="#365c8d"/><stop offset="75%" stop-color="#3a538b"/><stop offset="78.12%" stop-color="#3e4a89"/><stop offset="81.25%" stop-color="#424186"/><stop offset="84.38%" stop-color="#453882"/><stop offset="87.5%" stop-color="#472e7c"/><stop offset="90.62%" stop-color="#482576"/><stop offset="93.75%" stop-color="#481b6d"/><stop offset="96.88%" stop-color="#471063"/><stop offset="100%" stop-color="#450457"/></linearGradient>
<linearGradient id="g4" x1="0" y1="0" x2="0" y2="1"><stop offset="0%" stop-color="#f8e621"/><stop offset="3.12%" stop-color="#e5e419"/><stop offset="6.25%" stop-color="#d0e11c"/><stop offset="9.38%" stop-color="#bade28"/><stop offset="12.5%" stop-color="#a8db34"/><stop offset="15.62%" stop-color="#93d741"/><stop offset="18.75%" stop-color="#7fd34e"/><stop offset="21.88%" stop-color="#6ccd5a"/><stop offset="25%" stop-color="#5ac864"/><stop offset="28.12%" stop-color="#4ac16d"/><stop offset="31.25%" stop-color="#3dbc74"/><stop offset="34.38%" stop-color="#31b57b"/><stop offset="37.5%" stop-color="#27ad81"/><stop offset="40.62%" stop-color="#21a685"/><stop offset="43.75%" stop-color="#1f9f88"/><stop offset="46.88%" stop-color="#1f978b"/><stop offset="50%" stop-color="#21918c"/><stop offset="53.12%" stop-color="#23898e"/><stop offset="56.25%" stop-color="#26828e"/><stop offset="59.38%" stop-color="#297a8e"/><stop offset="62.5%" stop-color="#2c728e"/><stop offset="65.62%" stop-color="#2f6b8e"/><stop offset="68.75%" stop-color="#33638d"/><stop offset="71.88%" stop-color="#365c8d"/><stop offset="75%" stop-color="#3a538b"/><stop offset="78.12%" stop-color="#3e4a89"/><stop offset="81.25%" stop-color="#424186"/><stop offset="84.38%" stop-color="#453882"/><stop offset="87.5%" stop-color="#472e7c"/><stop offset="90.62%" stop-color="#482576"/><stop offset="93.75%" stop-color="#481b6d"/><stop offset="96.88%" stop-color="#471063"/><stop offset="100%" stop-color="#450457"/></linearGradient>
<linearGradient id="g5" x1="0" y1="0" x2="0" y2="1"><stop offset="0%" stop-color="#450457"/><stop offset="3.12%" stop-color="#471063"/><stop offset="6.25%" stop-color="#481b6d"/><stop offset="9.38%" stop-color="#482576"/><stop offset="12.5%" stop-color="#472e7c"/><stop offset="15.62%" stop-color="#453882"/><stop offset="18.75%" stop-color="#424186"/><stop offset="21.88%" stop-color="#3e4a89"/><stop offset="25%" stop-color="#3a538b"/><stop offset="28.12%" stop-color="#365c8d"/><stop offset="31.25%" stop-color="#33638d"/><stop offset="34.38%" stop-color="#2f6b8e"/><stop offset="37.5%" stop-color="#2c728e"/><stop offset="40.62%" stop-color="#297a8e"/><stop offset="43.75%" stop-color="#26828e"/><stop offset="46.88%" stop-color="#23898e"/><stop offset="50%" stop-color="#21918c"/><stop offset="53.12%" stop-color="#1f978b"/><stop offset="56.25%" stop-color="#1f9f88"/><stop offset="59.38%" stop-color="#21a685"/><stop offset="62.5%" stop-color="#27ad81"/><stop offset="65.62%" stop-color="#31b57b"/><stop offset="68.75%" stop-color="#3dbc74"/><stop offset="71.88%" stop-color="#4ac16d"/><stop offset="75%" stop-color="#5ac864"/><stop offset="78.12%" stop-color="#6ccd5a"/><stop offset="81.25%" stop-color="#7fd34e"/><stop offset="84.38%" stop-color="#93d741"/><stop offset="87.5%" stop-color="#a8db34"/><stop offset="90.62%" stop-color="#bade28"/><stop offset="93.75%" stop-color="#d0e11c"/><stop offset="96.88%" stop-color="#e5e419"/><stop offset="100%" stop-color="#f8e621"/></linearGradient>
</defs>
<rect x="0" y="0" width="1633" height="1015" fill="#fff"/>
<text x="256.2" y="29.9" font-family='"Liberation Sans", sans-serif' font-weight="700" font-size="24.05" text-anchor="middle" stroke="#000" stroke-width="0.25">Neural network surrogate</text>
<text x="849.6" y="29.8" font-family='"Liberation Sans", sans-serif' font-weight="700" font-size="24.05" text-anchor="middle" stroke="#000" stroke-width="0.25">Posterior parameter distributions</text>
<text x="1427.2" y="30" font-family='"Liberation Sans", sans-serif' font-weight="700" font-size="24.05" text-anchor="middle" stroke="#000" stroke-width="0.25">Time-varying posterior</text>
<text x="818.7" y="657" font-family='"Liberation Sans", sans-serif' font-weight="700" font-size="24.05" text-anchor="middle" stroke="#000" stroke-width="0.25">Predicted discharge profile</text>
<g id="nn">
<line x1="97.4" y1="151.6" x2="123.4" y2="201.01" stroke="#000" stroke-width="2.1"/>
<polygon points="127.5,208.8 118.95,202.22 126.92,198.03" fill="#000"/>
<line x1="193.8" y1="152.5" x2="171.36" y2="199.94" stroke="#000" stroke-width="2.1"/>
<polygon points="167.6,207.9 167.72,197.12 175.86,200.96" fill="#000"/>
<line x1="312.5" y1="139.1" x2="193.34" y2="217.75" stroke="#000" stroke-width="2.1"/>
<polygon points="186,222.6 191.7,213.45 196.66,220.96" fill="#000"/>
<line x1="444.7" y1="130.1" x2="198.69" y2="227.07" stroke="#000" stroke-width="2.1"/>
<polygon points="190.5,230.3 197.97,222.52 201.27,230.89" fill="#000"/>
<line x1="119.4" y1="130.8" x2="361.22" y2="227.05" stroke="#000" stroke-width="2.1"/>
<polygon points="369.4,230.3 358.63,230.86 361.96,222.5" fill="#000"/>
<line x1="250.8" y1="139.1" x2="367.09" y2="217.1" stroke="#000" stroke-width="2.1"/>
<polygon points="374.4,222 363.75,220.28 368.77,212.8" fill="#000"/>
<line x1="368.5" y1="152.1" x2="390.08" y2="199.88" stroke="#000" stroke-width="2.1"/>
<polygon points="393.7,207.9 385.57,200.82 393.77,197.12" fill="#000"/>
<line x1="465.3" y1="152.1" x2="437.51" y2="201.53" stroke="#000" stroke-width="2.1"/>
<polygon points="433.2,209.2 434.08,198.45 441.93,202.86" fill="#000"/>
<line x1="140.9" y1="436" x2="131.59" y2="498.6" stroke="#000" stroke-width="2.1"/>
<polygon points="130.3,507.3 127.29,496.94 136.19,498.27" fill="#000"/>
<line x1="167.2" y1="433.3" x2="202.27" y2="503.63" stroke="#000" stroke-width="2.1"/>
<polygon points="206.2,511.5 197.8,504.74 205.85,500.72" fill="#000"/>
<line x1="181.4" y1="424.1" x2="284.98" y2="514.9" stroke="#000" stroke-width="2.1"/>
<polygon points="291.6,520.7 281.26,517.62 287.2,510.86" fill="#000"/>
<line x1="187.4" y1="416.4" x2="380.12" y2="524.3" stroke="#000" stroke-width="2.1"/>
<polygon points="387.8,528.6 377.05,527.74 381.45,519.89" fill="#000"/>
<line x1="371.6" y1="415.8" x2="170.73" y2="525.19" stroke="#000" stroke-width="2.1"/>
<polygon points="163,529.4 169.45,520.76 173.76,528.67" fill="#000"/>
<line x1="377.2" y1="423.6" x2="266.17" y2="515.68" stroke="#000" stroke-width="2.1"/>
<polygon points="259.4,521.3 264.07,511.58 269.82,518.51" fill="#000"/>
<line x1="390" y1="432.9" x2="351.18" y2="504.76" stroke="#000" stroke-width="2.1"/>
<polygon points="347,512.5 347.7,501.74 355.62,506.02" fill="#000"/>
<line x1="415.4" y1="436.6" x2="421.8" y2="499.15" stroke="#000" stroke-width="2.1"/>
<polygon points="422.7,507.9 417.23,498.61 426.18,497.69" fill="#000"/>
<ellipse cx="77.8" cy="113" rx="43.1" ry="40.7" fill="#fff" stroke="#000" stroke-width="5.1"/>
<ellipse cx="214.2" cy="113" rx="43.1" ry="40.7" fill="#fff" stroke="#000" stroke-width="5.1"/>
<ellipse cx="350.6" cy="113" rx="43.1" ry="40.7" fill="#fff" stroke="#000" stroke-width="5.1"/>
<ellipse cx="487" cy="113" rx="43.1" ry="40.7" fill="#fff" stroke="#000" stroke-width="5.1"/>
<ellipse cx="147.8" cy="248.1" rx="43.1" ry="40.7" fill="#fff" stroke="#000" stroke-width="5.1"/>
<ellipse cx="411.9" cy="248.1" rx="43.1" ry="40.7" fill="#fff" stroke="#000" stroke-width="5.1"/>
<ellipse cx="147.8" cy="393.8" rx="43.1" ry="40.7" fill="#fff" stroke="#000" stroke-width="5.1"/>
<ellipse cx="411.9" cy="393.8" rx="43.1" ry="40.7" fill="#fff" stroke="#000" stroke-width="5.1"/>
<ellipse cx="123.3" cy="551.8" rx="43.1" ry="40.7" fill="#fff" stroke="#000" stroke-width="5.1"/>
<ellipse cx="224.8" cy="551.8" rx="43.1" ry="40.7" fill="#fff" stroke="#000" stroke-width="5.1"/>
<ellipse cx="326" cy="551.8" rx="43.1" ry="40.7" fill="#fff" stroke="#000" stroke-width="5.1"/>
<ellipse cx="427.6" cy="551.8" rx="43.1" ry="40.7" fill="#fff" stroke="#000" stroke-width="5.1"/>
<circle cx="256.1" cy="254.2" r="5"/>
<circle cx="256.1" cy="383.9" r="5"/>
<circle cx="275.4" cy="254.2" r="5"/>
<circle cx="275.4" cy="383.9" r="5"/>
<circle cx="294.7" cy="254.2" r="5"/>
<circle cx="294.7" cy="383.9" r="5"/>
<circle cx="147.9" cy="305.6" r="5"/>
<circle cx="147.9" cy="321.2" r="5"/>
<circle cx="147.9" cy="336.5" r="5"/>
<circle cx="411.7" cy="305.6" r="5"/>
<circle cx="411.7" cy="321.2" r="5"/>
<circle cx="411.7" cy="336.5" r="5"/>
<text x="77.5" y="127.7" font-family='"Liberation Serif", serif' font-style="italic" font-size="38" text-anchor="middle" stroke="#000" stroke-width="0.45">P</text>
<text x="214" y="127.7" font-family='"Liberation Serif", serif' font-style="italic" font-size="38" text-anchor="middle" stroke="#000" stroke-width="0.45">x</text>
<text x="350.6" y="127.7" font-family='"Liberation Serif", serif' font-style="italic" font-size="38" text-anchor="middle" stroke="#000" stroke-width="0.45">t</text>
<text x="487.5" y="127.7" font-family='"Liberation Serif", serif' font-style="italic" font-size="38" text-anchor="middle" stroke="#000" stroke-width="0.45">r</text>
<text x="108" y="565" font-family='"Liberation Serif", serif' font-style="italic" font-size="38" text-anchor="start" stroke="#000" stroke-width="0.45">ϕ<tspan font-size="27" font-style="italic" dx="0" dy="8">s</tspan></text>
<text x="209" y="565" font-family='"Liberation Serif", serif' font-style="italic" font-size="38" text-anchor="start" stroke="#000" stroke-width="0.45">ϕ<tspan font-size="27" font-style="italic" dx="0" dy="8">e</tspan></text>
<text x="314" y="565" font-family='"Liberation Serif", serif' font-style="italic" font-size="38" text-anchor="start" stroke="#000" stroke-width="0.45">c<tspan font-size="27" font-style="italic" dx="0" dy="8">s</tspan></text>
<text x="414" y="565" font-family='"Liberation Serif", serif' font-style="italic" font-size="38" text-anchor="start" stroke="#000" stroke-width="0.45">c<tspan font-size="27" font-style="italic" dx="0" dy="8">e</tspan></text>
</g>
<line x1="482.8" y1="347.9" x2="567.3" y2="347.9" stroke="#000" stroke-width="2.2"/>
<polygon points="575.6,347.9 566.3,352.7 566.3,343.1" fill="#000"/>
<line x1="1059.7" y1="347.7" x2="1143.1" y2="347.7" stroke="#000" stroke-width="2.2"/>
<polygon points="1151.4,347.7 1142.1,352.5 1142.1,342.9" fill="#000"/>
<g id="corner">
<path d="M653.25 382.71h0M655.77 403.75h0M679.35 403.1h0M654.56 397.39h0M698.44 412.01h0M665.21 403.79h0M690.36 395.79h0M687.05 389h0M675.57 376.21h0M689.59 419.93h0M673.38 383.43h0M718.99 415.1h0M730.26 436.5h0M686.35 393.75h0M649.24 372.36h0M711.08 436.78h0M707.3 419.36h0M722.44 426.51h0M655.94 371.33h0M659.66 385.54h0M663.96 368.57h0M708.18 432.08h0M671.59 390.93h0M649.8 380.05h0M714.81 443.17h0M688.62 386.11h0M668.52 405.16h0M681.13 403.46h0M706.6 429.58h0M671.63 410.99h0M711.88 412.68h0M699.37 393.3h0M672.36 403.11h0M699.47 419.74h0M736.09 452.71h0M706.57 415.28h0M706.17 424.71h0M731.3 431.3h0M653.55 374.58h0M695.62 404.16h0M720.47 427.59h0M648.49 363.06h0M647.79 352.92h0M683.09 419.86h0M701.16 428.15h0M687.32 389.54h0M713.6 411.23h0M673.58 408.17h0M690.22 392.66h0M675.69 382.16h0M654.79 358.99h0M694.46 433.41h0M695.56 408.08h0M726.8 419.3h0M686.28 398.23h0M644.84 377.22h0M684.69 419.34h0M705.68 400.36h0M699.42 408.43h0M646.71 381.29h0M678.58 407.59h0M686.12 407.67h0M713.59 418.11h0M683.8 394.32h0M651.92 404.27h0M702.49 413.56h0M669.3 403.1h0M679.72 414.15h0M660.14 369.3h0M685.68 387.25h0M699.31 414.01h0M691.16 422.32h0M681.89 395.61h0M724.81 434.89h0M733.37 448.55h0M697.12 403.71h0M693.41 403h0M689.19 396.59h0M675.42 412.99h0M656.11 404.78h0M687.63 413.07h0M713.43 443.82h0M659.35 371.99h0M654.24 361.43h0M707.13 434.88h0M698.91 396.45h0M671.47 387.49h0M674.91 414.99h0M647.17 391.54h0M694.35 423.59h0M690.45 388.19h0M675.18 422.43h0M695.89 418.24h0M645.17 379.4h0M726.66 452.21h0M675.75 402.17h0M650.69 359.87h0M712.99 409.39h0M690.08 416.46h0M669.97 373.72h0M658.14 372.94h0M729.68 451.14h0M698.78 400.98h0M673.94 397.6h0M667.42 396.21h0M707.17 426.04h0M721.19 447.74h0M699.1 396.63h0M677.57 412.56h0M650.51 361.68h0M655.63 364.54h0M690.72 421.93h0M650.75 365.59h0M663.36 363.2h0M678.96 413.47h0M714.9 428.75h0M659.34 389.03h0M653.2 389.73h0M655.3 362.42h0M720.02 429.48h0M714.55 433.99h0M696.26 403.65h0M691.86 408.05h0M680.95 416.59h0M667.76 405.98h0M677.96 412.06h0M651.87 359.88h0M667.15 411.01h0M678.93 391.57h0M704.09 434.95h0M686.5 394.24h0M727.96 434.73h0M664.08 380.02h0M717.02 421.37h0M696.74 431.7h0M699.03 421.72h0M654.04 360.43h0M709.41 426.34h0M683.49 381.51h0M646.96 357.47h0M671.03 404.88h0M689.72 387.52h0M727.76 448.27h0M645.14 391.71h0M699.24 431.6h0M665.06 401.35h0M708.35 414.28h0M690.52 405.02h0M710.65 415.06h0M647.31 361.98h0M646.01 389.14h0M664.94 397.06h0M691.89 413.46h0M669.94 372.8h0M706.81 414.32h0M649.67 381.56h0M656.39 373.7h0M711.68 432.77h0M697.41 432.77h0M696.25 437.11h0M683.04 419.85h0M708.02 413.75h0M668.46 386.48h0M668.81 395.05h0M685.66 385.52h0M645.98 366.96h0M711.11 407.11h0M685.6 420.08h0M675.79 376.15h0M652.52 366.8h0M696.06 405.27h0M685.94 414.84h0M651.6 372.95h0M713.15 420.26h0M664.78 400.64h0M648.11 388.99h0M720.08 421.82h0M669.01 412.56h0M698.89 434.49h0M699.01 422.45h0M711.63 432.83h0M718.59 442.38h0M653.9 370.7h0M662.28 403.73h0M678.86 417.53h0M648.97 388.85h0M731.56 428.37h0M729.39 428.18h0M728.7 439.3h0M682.66 406.43h0M712.75 422.16h0M703.78 418.29h0M700.56 437.38h0M652.94 373.58h0M655.55 365.26h0M678.74 416.29h0M725.8 431.69h0M670.5 377.41h0M726.58 433.27h0M699.72 426.5h0M665.32 367.81h0M654.58 361.69h0M732.95 437.24h0M667.28 385.87h0M705.17 425.71h0M644.96 381.73h0M685.12 389.78h0M658.89 399.37h0M714.44 425.66h0M722.23 420.37h0M696.37 432.11h0M654.8 370.4h0M728.56 427.17h0M734.67 451.43h0M686.16 385.62h0M681.09 419.22h0M706.72 405.54h0M707.95 445.42h0M727.41 424.77h0M672.9 377.25h0M723.82 445.9h0M685.94 411.86h0M668.56 368.16h0M646.33 376.05h0M655.31 370.4h0M711.65 417.92h0M730.95 441.82h0M671.25 398.19h0M704.08 425.72h0M703.16 431.92h0M707.87 412.08h0M687.71 417.31h0M686.94 419.46h0M683.46 391.92h0M683.56 416.13h0M672.1 409.81h0M736.32 453.68h0M696.94 400.78h0M689.59 388.82h0M703.03 399.48h0M682.68 406.02h0M657.02 405.77h0M693.06 397.17h0M680.02 387.23h0M713.43 407.22h0M707.88 441.84h0M654.62 365.76h0M701.86 400.97h0M743.36 449.07h0M682.13 426.83h0M655.25 385.59h0M692.06 395.5h0M658.8 405.93h0M708.53 400.14h0M667.81 410.9h0M710.98 421.24h0M686.23 402.75h0M708.37 405.83h0M688.34 394.18h0M680.76 421.68h0M672.38 417.91h0M685.52 397.72h0M721.04 431.1h0M731.67 450.64h0M704.84 409.27h0M667.18 369.71h0M666.43 405.2h0M672.99 382.8h0M688.13 390.08h0M666.34 414h0M705.68 412.01h0M737.37 437.56h0M657.32 405.89h0M701.56 429.88h0M671.97 389.96h0M658.18 399.6h0M675.48 386.02h0M702.16 409.91h0M646.1 370.71h0M706.89 437.02h0M717.39 417.02h0M711.11 433.36h0M675.63 410.98h0M731.97 449.81h0M691.77 426.25h0M662.75 397.05h0M648.57 385.74h0M661.39 387.19h0M684.46 381.92h0M679.14 407.96h0M677.69 405.87h0M701.87 428.77h0M699.5 424.61h0M681.56 383.49h0M670.42 389.93h0M700.54 407.11h0M685.25 425.97h0M695.91 420.44h0M693.99 391.65h0M663.8 376.64h0M661.26 403.78h0M684.32 421.2h0M663.89 409.97h0M707.51 427.83h0M647.43 356.66h0M727.11 436.03h0M696.97 418.53h0M693.98 405.61h0M655.7 408.9h0M665.11 366.6h0M676.24 420.05h0M681.43 395.8h0M694.99 431.68h0M712.38 428.63h0M680.19 381.88h0M683.19 422.44h0M657.72 396.86h0M698.97 425.73h0M667.53 407.8h0M727.04 432.19h0M718.98 425.1h0M732.15 434.04h0M693.8 403.86h0M688.91 384.79h0M710.28 432.6h0M687.17 419.64h0M735.55 455.38h0M720.94 426.03h0M720.1 450.15h0M717.1 444.69h0M705.18 437.03h0M661.91 374.16h0M738.07 457.31h0M657.97 405.44h0M704.5 408.45h0M653.46 357.97h0M713.07 446.18h0M686.42 407.15h0M647.62 392.26h0M683.85 393.93h0M688.23 414.75h0M688.9 409.31h0M705.49 421.03h0M700.89 412.43h0M672.98 409.27h0M680.13 387.22h0M694.54 388.99h0M719.24 435.9h0M720.27 420.76h0M698.68 404.39h0M676.52 406.66h0M676.86 413.07h0M650.27 383.82h0M729.86 444.14h0M681.21 390.38h0M679.61 398.35h0M702.43 424.29h0M701.74 400.61h0M696.34 399.61h0M647.26 359.53h0M654.93 386.54h0M702.39 409.21h0M667.01 371.61h0M646.81 370.71h0M721.17 424.34h0M655.01 388.83h0M696.19 400.65h0M675.21 402.04h0M686.88 415.49h0M663.38 382.03h0M707.37 406.75h0M667.09 417.04h0M709.74 402.49h0M668.95 371.33h0M739.27 457.63h0M721.63 443.06h0M674.13 413.23h0M648.02 356.64h0M648.23 368.09h0M708.21 434.39h0M720.1 447.77h0M704.04 403.07h0M658.37 388.05h0M672.21 415.76h0M650.32 385.09h0M665.49 383.43h0M722.21 419.79h0M667.49 408.52h0M704.56 407.99h0M706.96 401.38h0M692.87 387.41h0M674.88 408.15h0M684.39 406.47h0M710.12 433.25h0M648.31 354.77h0M660.01 401.91h0M690.49 412.37h0M671.74 378.09h0M659.15 375.45h0M653.57 391.34h0M680.97 379.55h0M746.14 457.03h0M716.24 424.83h0M687.04 383.73h0M695.94 396.78h0M675.71 377.2h0M695.32 395.85h0M657.79 404.68h0M666.41 412.07h0M683.41 418.29h0M655.81 398.02h0M656.4 369.61h0M679.74 424.58h0M695.64 396.37h0M700.8 425.59h0M661.95 370.68h0M681.55 426.15h0M681.54 391.85h0M682.57 422.68h0M686.91 420.18h0M650.19 377.76h0M669.54 415.15h0M689.3 402.53h0M677.66 389.66h0M688.22 417.08h0M676.04 386.6h0M727.15 444.92h0M680.75 400.6h0M648.33 390.78h0M723.29 438.83h0M676.39 379.73h0M675.4 409.6h0M702.32 415.26h0M710.7 432.45h0M666.28 419.21h0M690.63 419.75h0M706.1 402.78h0M699.39 425.8h0M693.89 419.57h0M662.16 363.4h0M656.7 374.47h0M698.11 407.33h0M672.64 411.51h0M722.83 421.23h0M690.76 405.93h0M663.98 410.84h0M658.3 364.72h0M694.77 399.69h0M719.65 448.75h0M670.04 402.04h0M682.69 386.4h0M675.39 377.97h0M695.42 405.77h0M724.1 456.31h0M659.66 382.19h0M664.75 369.62h0M698.29 404.65h0M656.04 362.48h0M667.46 414.28h0M666.23 412.18h0M710.16 413.22h0M689.88 431.76h0M664.06 406.59h0M676.43 391.86h0M691.67 389.04h0M660.04 395.36h0M670.62 378h0M729.44 428h0M645.71 368.14h0M645.75 359.33h0M651.98 403.37h0M721.83 444.43h0M697.2 430.6h0M702.33 412.61h0M654.99 395.85h0M651.01 390.16h0M666.99 368.72h0M661.72 392.2h0M676.42 401.21h0M714.73 423.37h0M661.62 367.4h0M717.64 438.2h0M646.1 389.41h0M681.25 383.29h0M645.05 377.08h0M645.02 381.56h0M669.76 407.17h0M678.41 416.14h0M656.32 389.79h0M701.31 430.29h0M649.76 367.26h0M657.95 370.73h0M652.98 369.8h0M700.76 396.59h0M707.03 405.38h0M663.44 394.82h0M648.53 382.98h0M709.49 411.59h0M691.45 424.28h0M696.3 407.52h0M724.96 433.36h0M711.02 418.78h0M705.16 416.91h0M645.39 375.04h0M710.66 434.7h0M675.86 382.74h0M645.18 386.12h0M651.85 367.36h0M732.74 433.11h0M730.18 452.62h0M654.08 394.91h0M665.57 384.12h0M701.63 419.26h0M651.53 392.25h0M683.03 422.61h0M694.51 406.62h0M647.02 359.48h0M657.59 373.31h0M665.92 399.25h0M668.27 370.35h0M694.57 406.32h0M679.25 406.29h0M661.54 403.16h0M646.71 389.7h0M682.97 393.6h0M653.97 384.25h0M695.17 404.43h0M669.23 416.99h0M646.12 375.47h0M701.78 412.53h0M723.14 432.82h0M734.59 436.19h0M702.52 433.42h0M713.02 421.45h0M677.28 417.01h0M647.62 390.25h0M664.99 415.25h0M697.42 407.46h0M693.4 411.9h0M652.98 388.41h0M692.34 397.34h0M728.12 451.48h0M697.41 422.53h0M684.03 392.79h0M722.18 438.88h0M715.78 417.06h0M709.28 440.94h0M684.71 402.41h0M666.01 407.32h0M669.71 416.89h0M661.31 393.64h0M683.94 420.69h0M701.79 435.66h0M646.68 391.09h0M689.39 417.89h0M676.13 417.96h0M701.43 417.01h0M706.95 428.57h0M661.3 375.77h0M704.81 417.41h0M650.27 402.29h0M692.82 435.62h0M679.43 396.55h0M665.33 399.75h0M656.93 371.92h0M672.04 387.64h0M693.57 427.1h0M646.25 390.62h0M702.82 399.57h0M657.35 398.96h0M703.82 410.57h0M696.62 392.06h0M677.88 417.55h0M700.11 422.56h0M650.4 393.81h0M660.81 394.01h0M709.17 413.77h0M718.95 431.13h0M698.18 399.66h0M681.7 383.47h0M676.89 419.24h0M661.45 390.07h0M706.93 441.42h0M744.42 450.16h0M697.98 411h0M682.41 412.18h0M658.37 361.51h0M665.97 370.34h0M717.18 426.47h0M646.67 394.1h0M681.96 415.76h0M722.06 435.44h0M683.75 420.17h0M664.31 387.03h0M681.25 414.43h0M661.65 383.24h0M650.3 397.63h0M680.29 411.19h0M702.8 419.61h0M688.07 423.33h0M663.18 403.95h0M709.9 432.51h0M681.73 424.04h0M708.52 436.72h0M703.1 426.88h0M706.57 442.84h0M715.85 412.25h0M663.95 381.4h0M724.62 442.94h0M692.23 419.69h0M675.79 416.85h0M713.73 445.87h0M687.7 410.27h0M691.72 427.42h0M655.29 362.12h0M681.38 383.31h0M645.91 369.44h0M691.63 422.74h0M677.62 393.37h0M692.59 396.61h0M648.83 355.9h0M657.51 381.15h0M696.63 432.82h0M652.2 360.8h0M680.68 388.21h0M712.86 439.53h0M644.53 357.86h0M673.28 373.3h0M674.74 392.04h0M711.65 424.09h0M682.24 404.27h0M682.42 382.77h0M699.31 404.79h0M725.86 429.08h0M690.36 423.3h0M665.11 385.48h0M695.54 396.58h0M705.85 417.94h0M696.54 411.31h0M698.33 393.23h0M666.41 387.01h0M644.48 374.79h0M652.76 398.12h0M710.63 417.31h0M709.2 430.29h0M721.62 442.51h0M656.1 377.67h0M702.58 419h0M686.65 401.01h0M666.09 395.93h0M707.89 432.8h0M684.12 410.57h0M716.77 444.38h0M707.52 433.5h0M700.22 433.49h0M729.11 431.67h0M666.61 368.69h0M706.49 438.69h0M682.55 421.64h0M693.2 392.96h0M692.02 389.21h0M713.71 433.42h0M737.26 440.51h0M706.69 430.46h0M647.9 358.72h0M673.07 387.18h0M649.54 382.78h0M675.55 414.06h0M687.62 381.85h0M688.13 414.79h0M671.92 392.73h0M687.73 428.42h0M698.23 397.41h0M652.38 359.28h0M649.94 369.97h0M680.74 412.06h0M713.7 444.99h0M694.48 432.22h0M675 386.84h0M706.69 442.17h0M672.42 378.98h0M665.48 373.45h0M666.33 401.4h0M679.96 405.91h0M716.91 423.15h0M707.02 433.9h0M655.81 394.83h0M672.14 414.14h0M691.66 415.4h0M652.47 383.4h0M714.8 415.75h0M646.68 370.68h0M711.87 407.02h0M670.67 396.33h0M703.69 401.14h0M659.43 388.73h0M650.7 377.06h0M646.91 357.63h0M656.1 405.19h0M712.38 438.23h0M693.66 411.3h0M656.31 382.88h0M677.19 410.73h0M693.77 407.14h0M697.73 395.14h0M670.85 391.57h0M685.4 393.27h0M670.69 381.07h0M673.93 384.36h0M669.28 381h0M651.93 372.7h0M650.5 384.31h0M706.68 408.91h0M649.96 400.31h0M669.4 402.04h0M723.02 452.21h0M683.66 408.91h0M668.92 375.34h0M653.23 391.11h0M701.47 420.89h0M662.3 406.76h0M704.2 418.55h0M700.1 433.01h0M684.57 420.37h0M711.64 438.4h0M708.18 431.56h0M683.66 391.43h0M739.72 437.02h0M686.76 423.34h0M685.35 428.79h0M708.53 436.42h0M659.75 376.37h0M707.22 433.62h0M698.69 399.27h0M712.36 407.9h0M710.95 422.45h0M664.3 393.85h0M679.51 377.37h0M672.99 382.39h0M683.47 411.78h0M684.04 392.3h0M720.66 444.46h0M728.99 435.06h0M650.52 402.39h0M722.9 443.37h0M733.41 444.26h0M681.02 381.12h0M671.9 412.77h0M708.83 425.58h0M710.3 409.45h0M716.68 429.93h0M695.14 419.63h0M668.75 395.83h0M651.99 375.59h0M651.54 371.98h0M679.78 389.77h0M672.99 381.84h0M671.41 373.75h0M702.95 416.75h0M684.07 388.92h0M679.5 420.08h0M693.04 430.87h0M694.15 391.03h0M675.67 390.47h0M687.55 426.64h0M665.71 410.51h0M646.32 371.65h0M682.16 393.27h0M736.61 448.75h0M698.72 433.44h0M707.29 433.46h0M669.76 419.24h0M669.89 376.91h0M672 390.66h0M683.69 427.4h0M685.88 394.04h0M717.84 440.7h0M676.53 382.91h0M666.57 407.33h0M693.04 407.91h0M693.55 412.89h0M730.43 434.14h0M706.35 415.72h0M727.84 455.77h0M729.15 446.01h0M729.19 430.41h0M692.4 419.89h0M728.66 433.79h0M683.05 421.7h0M672.21 419.79h0M667.37 407.92h0M708.61 418.18h0M669.97 375.85h0M644.21 366.8h0M669.6 379.78h0M700.02 423.81h0M705.14 422.02h0M664.55 396.02h0M671.88 413.45h0M656.69 393.29h0M690.84 430.26h0M665.03 408.9h0M693.91 394.04h0M653.65 399.59h0M704.62 409h0M667.33 372.06h0M707.21 419.13h0M700.61 396.63h0M668.88 401.19h0M724.8 445.86h0M703.67 431.22h0M668.99 376.78h0M667.41 376.75h0M656.19 370.36h0M681.91 413.93h0M706.14 418.9h0M683.67 398.5h0M644 359.07h0M701.6 433.63h0M652.67 367.62h0M732.24 454.98h0M665.93 390.51h0M652.79 380.75h0M687.28 398.59h0M688.72 399.35h0M681.81 392.79h0M662.25 392h0M648.86 371.24h0M656.07 377.34h0M691.1 432.41h0M648.1 353.2h0M662.79 395.04h0M697.34 404.12h0M658.68 395.29h0M681.44 411.54h0M719.51 424.21h0M706.71 436.06h0M727.09 442.13h0M697.06 422.66h0M669.7 417.2h0M670.67 389.78h0M687.37 417.71h0M673.33 390.01h0M692.63 423.54h0M726.15 442.5h0M723.64 444.91h0M670.72 405.98h0M707.1 425.11h0M684.67 398.08h0M699.95 405.49h0M700.14 428.9h0M691.82 389.89h0M661.18 387.34h0M648.85 354.8h0M688.21 393.13h0M674.07 399.82h0M684.23 418.77h0M665.76 410.5h0M701.31 434.07h0M684.72 405.63h0M706.33 413.05h0M692.41 389.13h0M690.74 422.04h0M722.89 419.14h0M680.27 377.55h0M644.86 390.08h0M654.09 369.04h0M664.26 399.33h0M713.81 425.52h0M698.08 395.64h0M707.12 417.59h0M707.19 441.72h0M694.89 430.79h0M697.04 415.23h0M687.51 408.19h0M699.21 426.68h0M716.66 441.39h0M742.32 440.4h0M668.95 400.26h0M692.52 425.02h0M670.98 372.71h0M678.73 400.63h0M667.13 403.52h0M712.23 408.32h0M677.58 383.29h0M656.18 362.26h0M660.59 383.65h0M744.6 447.53h0M683.69 412.32h0M669.3 396.86h0M665.13 411.39h0M654.51 369.01h0M679.71 405.42h0M699.24 403.91h0M708.75 400.86h0M661.32 371.3h0M647.8 395.36h0M687.98 431.14h0M698.54 437.99h0M716.74 424.12h0M658.32 395.79h0M694.66 432.78h0M669.09 377.2h0M672.77 400.59h0M668.86 392.67h0M648.5 365.56h0M696.59 390.43h0M700.81 398.09h0M702.51 425.27h0M646.62 370.04h0M680.98 416.56h0M671.58 416.91h0M654.88 368.56h0M659.03 406.49h0M690.64 428.99h0M667.94 407.48h0M713.43 447.87h0M715.45 425.49h0M644.62 375.95h0M682 423.4h0M708.98 403.55h0M662.14 384.36h0M653.9 386.95h0M717.9 448.21h0M718.87 447.49h0M680.82 399.64h0M688.97 433.29h0M670.92 387.43h0M691.63 403.52h0M690.46 434.95h0M695.05 395.2h0M718.57 419.15h0M651.72 370.65h0M714.47 426.69h0M709.52 416.27h0M706.41 441.43h0M681.46 412.99h0M673.46 393.41h0M672.04 382.75h0M680.41 414.71h0M727.97 427.46h0M680.91 398.75h0M658.95 400.83h0M704.41 442.75h0M660.62 403.72h0M686.38 389.63h0M674.49 405.18h0M699.21 398.22h0M657.72 400.37h0M667.68 394.92h0M653.3 367.75h0M675.04 395.61h0M655.64 376.59h0M692.91 426.21h0M647.41 393.75h0M681.39 399.66h0M714.85 412.93h0M680.58 383.4h0M669.16 415.26h0M648.48 367.94h0M699.86 422.44h0M668.73 380.77h0M701.9 413.34h0M661.23 375.91h0M668.98 370.46h0M709.62 422.66h0M682.42 375.98h0M695.94 405.01h0M674.57 390.17h0M720.74 433.87h0M702.97 421.06h0M668.51 392.93h0M664.09 383h0M689.35 422.45h0M659.75 394.75h0M664.35 407.33h0M663.88 414.43h0M697.56 427.63h0M700.17 406.01h0M650.47 385.18h0M701.66 435.15h0M667.18 395.49h0M697.15 434.28h0M649.15 376.33h0M652.19 393.69h0M665.71 414.69h0M713.04 415.08h0M672.16 409.45h0M673.06 398.02h0M740.72 448.46h0M671.53 402.7h0M710.44 419.75h0M688.24 413.8h0M650.77 382.25h0M707.11 429.06h0M680.44 410.49h0M657.93 379.59h0M720.24 440.63h0M644.29 369.79h0M737.28 439.66h0M702.39 424.52h0M680.6 420.67h0M720.23 444.89h0M646.51 362.68h0M667.73 374.66h0M660.19 376.49h0M680.4 409.9h0M653.01 403.02h0M648.62 397.82h0M695.17 396.46h0M713.3 411.89h0M647.68 380.12h0M675.61 411.12h0M721.09 422.18h0M719.48 440.32h0M695.39 436.05h0M663.25 407.02h0M677.27 386.46h0M646.3 380.18h0M647.73 357.95h0M681.6 398.32h0M683.34 413.02h0M660.6 375.74h0M691.83 431.36h0M664.76 385.22h0M716.53 447.45h0M646.09 362.28h0M666.16 374.49h0M696.13 410.78h0M680.87 408.52h0M650 396.01h0M720.46 440.35h0M655.17 367.48h0M654.73 373.36h0M718.11 425.6h0M652.49 400.82h0M691.88 430.56h0M648.52 353.63h0M659.75 406.79h0M663.48 384.88h0M679.53 386h0M657.72 370.56h0M685.68 423.43h0M669.25 386.38h0M670.5 407.32h0M718.41 440.03h0M655.15 373.83h0M693.13 390.23h0M677.5 380.45h0M670.88 398.41h0M689.78 387.39h0M652.22 385.12h0M720.7 413.65h0M672.56 413.3h0M685.33 423.06h0M702.91 430.87h0M689.83 403.31h0M688.23 427.92h0M675.74 408.81h0M681.6 388.3h0M710.08 432.76h0M740.58 451.4h0M701.7 428.71h0M655.97 390.84h0M714.56 431.55h0M657.96 391.82h0M716.61 410.14h0M649.91 383.75h0M697.05 419.71h0M679.03 401.48h0M695.38 417.17h0M656.6 367.41h0M690.48 430.51h0M702.87 399.81h0M674.44 414.69h0M652.56 384.87h0M721.68 445.4h0M671.71 400.84h0M704.22 401.35h0M695.38 434.29h0M649.13 386.52h0M644.43 376.32h0M675.09 415.81h0M692.6 395.46h0M682.27 409.69h0M679.44 382.8h0M674.83 381.54h0M661.86 392.72h0M654.47 371.22h0M722.66 424.21h0M660.06 374.89h0M696.31 388.19h0M680.04 407.49h0M702.82 410.92h0M695.82 432.5h0M644.25 355.94h0M676.94 419.88h0M665.94 375.1h0M669.46 396.39h0M705.29 415.56h0M659.78 365.3h0M698.05 389.25h0M719.82 416.44h0M672.28 413.57h0M663.5 375.29h0M662.95 403.87h0M699.66 393.21h0M686.6 415.96h0M650.62 386.46h0M726 421.17h0M672.72 373.02h0M678.11 380.04h0M679.29 414.77h0M705.94 425.52h0M659.14 366.98h0M703.6 413.65h0M706.04 402.56h0M677.22 414.01h0M704.13 401.76h0M680.2 383.21h0M667.3 414.35h0M650.02 369.45h0M662.19 378.34h0M694.46 425.9h0M661.5 367.94h0M679.43 380.8h0M666.13 388h0M681.47 399.21h0M691.1 398.96h0M735.27 448.22h0M708.41 434.94h0M687.45 423.1h0M684.26 390.3h0M661.91 402.07h0M685.37 383.36h0M740.41 446.8h0M672.4 415.65h0M676.25 391.9h0M694.17 406.36h0M664.08 387.88h0M648.72 386.11h0M702.36 406.38h0M692.02 400.18h0M660.39 379.33h0M703.08 437.31h0M666.12 395.17h0M668.25 378.81h0M710.86 410.09h0M730.51 451.17h0M742.12 444.06h0M667.84 382.2h0M644.35 383.99h0M679.7 404.9h0M709.37 417.81h0M649.52 389.55h0M688.55 389.31h0M700.3 421.93h0M666.34 407.33h0M678.77 422.76h0M708.46 436.16h0M656.31 380.26h0M684.8 413.72h0M710.25 442.53h0M664.64 380.44h0M662.76 414.43h0M651.04 365.37h0M654.12 362.65h0M736.19 441.24h0M703.42 407.09h0M674.24 407.64h0M708.68 420.08h0M679.51 383.94h0M701.74 399.88h0M659.73 378.28h0M710.88 409.96h0M669.75 393.36h0M682.64 394.05h0M656.49 380.68h0M667.65 395.55h0M689.64 397.15h0M727.92 443.96h0M682.22 404.25h0M668.95 407.55h0M703.42 427.54h0M699.33 431.7h0M727.55 442.07h0M673.44 419.62h0M668.7 396.71h0M728.67 452.85h0M644.63 374.15h0M644.46 386.51h0M716.21 432.67h0M687.41 392.92h0M694.19 389.08h0M720.98 442.77h0M710.29 426.07h0M647.41 397.78h0M647.34 359.58h0M646.39 365.28h0M678.56 402.91h0M675.45 406.09h0M697.06 392.73h0M667.88 371.34h0M652.29 400.12h0M676.85 388.43h0M655.08 389.63h0M646.21 368.46h0M704.85 397.63h0M668.08 393.86h0M667.32 373.85h0M685.98 381.76h0M658.92 380.39h0M697.65 397.79h0M650.77 383.69h0M667.59 367.47h0M657.24 406.83h0M686.25 408.18h0M644.01 378.51h0M647.05 389.8h0M656.84 395.24h0M666.47 408.45h0M674.54 397.07h0M706.08 400.68h0M658.72 404.72h0M686.56 420.53h0M657.35 366.37h0M703.15 408.79h0M687.18 414.2h0M672.13 418.15h0M726.45 454.77h0M644.13 386.69h0M668.16 390.47h0M711.37 415.15h0M668.66 378.39h0M675.23 408.1h0M735.82 456.75h0M690.67 409.62h0M725.92 431.66h0M684.5 420.46h0M693.73 392.88h0M689.66 412.76h0M684.71 393.84h0M654.74 374.08h0M689.15 412.58h0M657.46 401.21h0M685.75 402.36h0M691.36 422.76h0M666.92 376.64h0M715.81 440.93h0M664.24 361.91h0M656.7 393.95h0M732.13 449.88h0M664.63 396.12h0M706.01 410.72h0M678.2 423.9h0M703.68 421.74h0M688.78 395.38h0M665.35 368.9h0M717.95 418.5h0M691.77 395.11h0M690.61 426.2h0M695.59 411.44h0M660.06 367.99h0M694.61 417.09h0M670.68 383.4h0M702 431.71h0M651.15 365.14h0M719.89 428.75h0M683.8 413.24h0M684.21 392.54h0M646.73 393.94h0M663.57 369.02h0M704.44 422.39h0M685.63 403.28h0M682.11 388.78h0M681.14 415.99h0M644.23 362.53h0M708.25 405.76h0M652.56 400.3h0M663.25 372.43h0M695.54 399.6h0M702.18 412.61h0M646.02 388.89h0M662.01 374.44h0M654.01 363.44h0M644.1 359.68h0M713.73 440.63h0M718.79 444.23h0M700.1 409.56h0M670.73 384.96h0M713.59 415.02h0M689.74 394.25h0M667.21 382.58h0M708.72 424.56h0M681.8 398.78h0M674.9 383.04h0M664.04 397.18h0M654.07 360.55h0M653.06 362.89h0M647.94 367.77h0M705.96 416.89h0M715.57 431.25h0M686.15 413.53h0M649.62 366.95h0M679.01 409.02h0M717.54 420.16h0M687.44 410.85h0M665.44 413.37h0M720.57 436.32h0M716.86 426.86h0M709.77 420.87h0M678.51 408.86h0M660.53 400.13h0M652.63 365.05h0M687.47 420.92h0M717.25 426.52h0M646.04 389.31h0M646.37 387.89h0M672.93 404.58h0M689.45 393.75h0M691.1 400.72h0M681.63 401.03h0M698.66 410.86h0M663.91 383.19h0M700.71 415.65h0M712.96 426.42h0M696.01 429.82h0M717.57 421.23h0M712.31 432.07h0M714.14 410h0M699.74 428.84h0M656.2 362.53h0M681.44 414.61h0M644.22 351.21h0M681.25 391.84h0M668.3 377.02h0M722.56 423.64h0M724.15 426.41h0M666.07 374.63h0M693.58 422.2h0M733.39 440.97h0M666.32 378.5h0M727.11 435.16h0M687.87 391.91h0M709.55 415.59h0M672.97 397.54h0M646.88 384.93h0M657.91 381h0M691.25 403.44h0M669.57 381.25h0M694.9 426.53h0M723.69 422.03h0M650.52 364.91h0M688.57 415.49h0M650.65 393.18h0M654.73 361.83h0M649.65 366.45h0M733.81 445.01h0M657.77 365.65h0M695.96 417.7h0M657.84 380.7h0M664.94 367.34h0M670.11 399.2h0M717.97 426.8h0M706.29 405h0M686.07 411.88h0M715.88 433.47h0M663.2 378.2h0M669.2 390.63h0M646.19 358.79h0M666.55 407.28h0M659.58 371.43h0M668.46 383.22h0M662.85 400.62h0M740.2 452.49h0M656.11 386.09h0M689.02 405.86h0M652.75 362.54h0M703.63 424.36h0M667.53 379.8h0M662.54 393.18h0M676.55 418.72h0M669.32 407.07h0M674.19 409.61h0M704.5 402.98h0M664.04 380.71h0M676.94 379.58h0M718.43 431.99h0M697.68 410.78h0M673.62 421.76h0M719.14 424.16h0M686.53 424.55h0M665.12 381.8h0M710.33 415.51h0M702.65 404.06h0M691.37 408.73h0M658.79 406.01h0M738.98 448.65h0M655.97 402.61h0M652.12 368.6h0M710.38 437.74h0M722.58 431.15h0M649.18 357.77h0M657.54 359.79h0M671.46 373.67h0M697.26 421.13h0M727.43 448h0M695.22 423.55h0M660.55 408.1h0M680.16 411.4h0M732.62 453.02h0M666.02 382.04h0M653.58 399.7h0M719.88 451.06h0M697.61 394.16h0M675.72 404.6h0M706.3 404.11h0M726.91 448.36h0M689.85 404.35h0M649.55 380.92h0M660.23 363.59h0M705.71 402.08h0M685.49 406.29h0M691.13 426.19h0M694.18 406.15h0M714.47 412.26h0M679 419.8h0M719.02 426.97h0M710.72 435.46h0M671.38 398.93h0M732.13 427.93h0M665.82 374.17h0M688.12 427.72h0M644.28 367.11h0M679.22 392.7h0M717.82 435.42h0M704.11 423.14h0M666.52 378.28h0M650.82 371.52h0M690.82 404.69h0M681.99 383.53h0M693.71 398.28h0M669.49 400.54h0M695.57 433.11h0M663.51 394.35h0M685.69 428.16h0M710.63 411.09h0M673.79 399.93h0M690.02 396.21h0M718.8 436.99h0M703.73 432.54h0M661.6 400.43h0M711.57 419.79h0M702.86 403.38h0M720.46 426.3h0M663.71 408h0M681.92 419.36h0M711.59 441.38h0M678.86 408.99h0M700.59 418.85h0M687.07 395.78h0M714.35 415.06h0M649.71 378.54h0M655.38 371.38h0M646.63 377.81h0M645.15 358.82h0M679.21 396.18h0M722.64 424.28h0M679.56 408.47h0M685.07 428.82h0M690.25 423.38h0M650.96 356.45h0M713.71 438.11h0M672.45 415.07h0M681.65 406.2h0M707.28 403.75h0M677.84 388.55h0M656.16 392.39h0M662.75 374.94h0M674.13 372.9h0M672.1 413.01h0M668.04 384.45h0M687.39 429.79h0M713.8 433.42h0M699.65 420.4h0M644.38 354.2h0M706.93 406.64h0M674.65 421.35h0M740.94 460.34h0M671.23 417.66h0M695.63 404.05h0M657 383.67h0M683.21 395.42h0M651.41 396.67h0M664.14 408.46h0M686.46 396.03h0M722.22 449.38h0M711.09 444.17h0M660.55 381.6h0M658.4 360.49h0M667.06 403.07h0M699.81 423.85h0M668.4 378.61h0M690.52 387.11h0M688.02 428.98h0M720.32 435.74h0M686.38 399.8h0M682.41 423.44h0M654.08 383.39h0M674.26 394.03h0M683.06 385.89h0M667.6 376.25h0M646.69 365.18h0M649.9 359.69h0M703.16 397.29h0M678.03 387.83h0M681.32 391.01h0M658.24 366.69h0M647.91 394.81h0M716.95 444.12h0M645.68 381.1h0M693.36 419.09h0M654.97 369.03h0M713.76 441.8h0M645.83 388.19h0M656.29 395.51h0M686.39 414.9h0M658.65 366.75h0M698.63 399.89h0M660.11 363.8h0M687.18 427.16h0M683.17 397.08h0M705.65 434.67h0M678.77 389.06h0M648.14 369.72h0M691.75 427.28h0M728.15 436.61h0M666.74 383.26h0M672.35 415.92h0M644.02 361.26h0M649.05 364.15h0M701.83 409.32h0M697.33 400.24h0M646.59 359.03h0M685.13 386.74h0M683.74 381.01h0M653.82 362.15h0M707.77 435.01h0M658.79 383.52h0M698.01 426.68h0M725.58 446.12h0M728.48 452.53h0M712.02 411.05h0M739.24 442.18h0M692.68 425.29h0M674.06 389.51h0M721.4 422.52h0M702.73 434.43h0M700.38 401.75h0M649.79 374.28h0M671.78 394.09h0M705.51 430.31h0M654.38 389.16h0M645.8 369.08h0M658.24 396.87h0M657.25 377.96h0M660.47 376.49h0M651.77 387.14h0M646.94 382.82h0M674.63 410.72h0M706.91 441.58h0M737.53 448.8h0M709.52 424.67h0M668.38 377.15h0M701.12 408.12h0M718.03 433.31h0M699.53 401.94h0M647.81 397.95h0M657.05 398.5h0M687.79 392.57h0M680.44 383.66h0M686.3 415.6h0M655.21 360.16h0M672.13 390.78h0M672.92 418.48h0M684.96 390.75h0M651.17 390.43h0M653.5 375.33h0M661.27 406.25h0M700.5 405.55h0M662.97 397.74h0M701.19 411.94h0M704.62 431.36h0M689.49 416.21h0M714.12 433.44h0M693.16 425.8h0M654.48 361.9h0M645.53 361.36h0M702.24 404.91h0M647.53 373.48h0M703.21 431.38h0M648.4 382.59h0M681.42 404.58h0M701.82 421.06h0M664.02 406.1h0M666.01 385.72h0M681.71 424.21h0M658.76 383.29h0M701.89 432.36h0M656.48 403.02h0M708.43 439.93h0M728.67 454.03h0M706.2 434.59h0M684.99 418.25h0M699.91 434.84h0M697.24 402.88h0M651.14 400.23h0M721.67 451.75h0M703.18 418.65h0M655.19 358.24h0M649.59 374.57h0M696.06 396.86h0M675.14 406.28h0M652.07 379.1h0M690.67 419.69h0M658.91 376.11h0M705.25 428.86h0M733.51 454.13h0M645.09 387.38h0M655.8 397.83h0M727.59 454.46h0M660.5 373.69h0M648.74 397.25h0M647.66 396.97h0M660.2 403.07h0M646.87 356.66h0M716.86 408.9h0M669.03 377.92h0M661.83 404.94h0M651.01 387.73h0M727.44 436.48h0M694.19 387.1h0M649.35 378.78h0M675.99 406.98h0M717.97 441.99h0M650.18 386.59h0M698.78 397h0M653.01 394.83h0M648.06 394.19h0M685.11 417.46h0M645.75 366.8h0M674.32 385.36h0M669.82 375.9h0M680.24 418.12h0M645.76 382.16h0M660.1 371.04h0M663.6 378.59h0M672.21 408.72h0M711.3 411.15h0M720.1 426.09h0M709.24 430.04h0M646.53 392.06h0M669.36 397.91h0M697.7 396.17h0M681.84 380.01h0M701.63 400.26h0M644.79 391.51h0M728.47 444.95h0M678.67 383.46h0M688.89 390.65h0M689.44 431.6h0M646.9 371.57h0M720.89 419.13h0M709.88 430.31h0M675.25 393.99h0M666.86 369.56h0M701.28 414.29h0M652.04 391.17h0M671.32 405.8h0M689.84 405.83h0M684.69 393.4h0M722.21 421.81h0M681.01 423.85h0M680.48 387h0M646.24 375.08h0M708.25 437.65h0M722.58 422.83h0M686.47 421.67h0M655.14 367.61h0M693.83 431.65h0M664.07 405.18h0M687.17 397.61h0M704.46 418.89h0M654.8 401.17h0M681.13 412.21h0M662.5 404.21h0M679.63 389.1h0M719.84 448.79h0M646.54 387.1h0M660.66 376.56h0M659.95 366.05h0M651.26 364.61h0M708.07 404.28h0M670.91 406.73h0M688.06 426.37h0M724.54 431.13h0M682.45 393.33h0M671.56 396.06h0M718.94 411.09h0M690.65 430.91h0M714.98 439.29h0M714.29 406.26h0M696.53 415.48h0M668.92 406.27h0M690.3 401.8h0M683.58 401.22h0M693.47 411.97h0M678.28 395.08h0M700.82 431.43h0M688.89 410.23h0M673.83 418.92h0M685.68 427.15h0M697.32 437.86h0M651.49 359.89h0M665.91 409.25h0M664.49 396.92h0M673.33 402.05h0M663.82 376.4h0M698.08 405.26h0M690.85 400.49h0M683.74 429.16h0M666.01 400.64h0M678.78 387.05h0M661.67 374.89h0M716.29 425.85h0M716.64 426.31h0M651.78 394.55h0M698.52 402.47h0M646.85 357.31h0M731.04 454.08h0M655.69 367.37h0M721.46 439.94h0M692.59 388.41h0M650.83 379.87h0M702.09 406.12h0M722.56 446.45h0M662.16 397.31h0M671.66 414.87h0M673.94 419.3h0M715.45 421.93h0M696.54 404h0M670.35 375.62h0M650.4 362.34h0M710 440.36h0M678.24 386.41h0M676.14 390.07h0M691.56 408.45h0M704.11 435.95h0M660.62 394.7h0M717.65 434.79h0M676.28 395.27h0M664.45 370.34h0M718.09 423.64h0M655.53 391.16h0M707.5 403.87h0M665.76 408.38h0M671.94 392.68h0M695.61 430.03h0M693.05 390.42h0M721.33 426.21h0M695.07 392.59h0M710.79 417.46h0M651.05 386.05h0M668.47 405.59h0M645.73 397.17h0M684.96 416.78h0M690.07 428.45h0M686.21 381.66h0M660.39 388.84h0M702.11 413.04h0M687.54 387.77h0M721.18 443.69h0M721.44 428.88h0M696.43 421.95h0M692.53 419.92h0M655.19 395.99h0M689.84 431.03h0M657.9 377.43h0M689.77 391.51h0M723.37 435.79h0M683.04 389h0M659.93 386.04h0M652.57 359.96h0M678.09 417.41h0M652.01 392.66h0M672.42 411.62h0M709.13 420.36h0M715.27 421.57h0M649.6 376.9h0M737.95 445.68h0M655.34 361.76h0M687.91 402.3h0M704.76 437.14h0M696.32 435.58h0M659.56 368h0M664.67 386.63h0M666.76 408.07h0M686.31 408.51h0M650.87 375.87h0M684.92 404.44h0M694.92 420.87h0M695.51 396.82h0M706.95 402.17h0M663.05 373.01h0M647.45 364.98h0M708.68 429.27h0M677.15 376.07h0M713.45 445.81h0M661.12 390.26h0M683.74 418.57h0M670.91 381.04h0M658.05 399.43h0M662.73 389.65h0M665.53 412.48h0M720.94 435.4h0M652.21 391.8h0M665.9 392.75h0M684.64 417.18h0M695.91 401.65h0M681.26 396.08h0M685.66 405.89h0M730.17 435.38h0M667.65 389.18h0M678.88 422.32h0M689.75 422.18h0M679.21 386.27h0M682.41 405.07h0M656.2 388.13h0M698.95 404.18h0M647.13 376.12h0M660.55 371.43h0M654.71 402.33h0M675.8 391.58h0M653.95 396.07h0M711.33 422.37h0M650.77 399.01h0M689.62 399.73h0M728.89 430.96h0M654.47 377.54h0M651.24 365.83h0M708.74 413.78h0M729.75 431.25h0M651.71 364.57h0M657.29 392.32h0M679.61 399.87h0M717.58 448.53h0M722.72 453.94h0M689.49 409.7h0M684.96 382.5h0M741.12 455.12h0M653.23 386.79h0M703.63 408.52h0M679.55 383.31h0M697.27 407.72h0M700.5 396.61h0M667.22 384.02h0M652.29 383.38h0M652.41 378.98h0M676.95 421.92h0M709.87 404.84h0M697.83 394.44h0M684.98 422.68h0M684.17 402.63h0M659.34 372.17h0M711.37 447.8h0M690.28 417.97h0M672.66 404.3h0M655.8 369.4h0M686.58 429.3h0M657.26 403h0M718.31 448.26h0M665.47 415.45h0M705.41 399.19h0M658.09 361.93h0M693.15 393.04h0M664.54 385.04h0M715.44 445.93h0M727.41 453.86h0M721.38 440.47h0M672.5 406.31h0M650.41 371.07h0M716.16 418.43h0M663.63 373.89h0M696.83 423.18h0M691.74 396.03h0M675.42 421.54h0M651.15 365.84h0M668.46 370.13h0M670.14 377.11h0M680.54 427.11h0M711.52 420.46h0M731.21 430.97h0M703.06 431.5h0M703.63 397.57h0M656.28 388.51h0M670.6 408.35h0M666.09 410.3h0M656.39 390.32h0M736.24 437.99h0M691.56 390.07h0M687.72 393.54h0M700.79 440.05h0M644.13 361.57h0M662.56 407.02h0M645.27 371.41h0M690.93 390.91h0M720.71 446.43h0M699.36 395.82h0M649.58 387.92h0M710.7 441.14h0M710.63 442.63h0M707.74 441.72h0M690.33 414.23h0M675.22 422.17h0M712.57 441.45h0M718.66 441.84h0M659.3 368.97h0M658.98 364.44h0M662.04 398.07h0M704.7 429.4h0M671.8 388.31h0M666.83 392.27h0M696.6 405.16h0M685.88 412.77h0M650.05 394.11h0M646.83 391.77h0M672.46 410.39h0M679.98 396.35h0M694.6 402.25h0M694.42 431.86h0M703.06 417.27h0M661.54 401.98h0M676.83 381.52h0M648.23 383.95h0M644.61 362.4h0M714.88 411.11h0M662.76 403.76h0M657.46 402.95h0M693.31 421.99h0M718.37 431.92h0M656.01 380.42h0M694.39 421.27h0M693.78 416.78h0M709.45 436.08h0M659.87 379.82h0M740.42 442.5h0M695.69 436.09h0M670.42 381.4h0M671.37 418.75h0M691.12 432.11h0M669.55 407.83h0M663.56 405.69h0M658.86 385.64h0M644.57 370.63h0M667.13 400.42h0M651.26 391.28h0M713.66 410.73h0M682.33 426.21h0M722.84 439.14h0M645.06 377.52h0M680.38 388.87h0M716.86 441.54h0M736.68 445.59h0M647.7 365.11h0M672.28 381.55h0M675.92 393.21h0M657.89 401.38h0M655.21 400.88h0M696.3 415.55h0M669.41 410.33h0M696.99 416.24h0M674.96 417.04h0M700.44 429.67h0M722.55 422.18h0M666 384.25h0M706.78 406.62h0M672.92 400.66h0M679.76 407.01h0M654.92 400.6h0M718.57 421.17h0M674.39 405.39h0M704.1 411.71h0M674.59 406.28h0M697.43 433.76h0M652.37 365.81h0M672.25 407.22h0M668.14 397.65h0M646.22 388.69h0M716.34 435.92h0M711.32 424.01h0" stroke="#000" stroke-width="2.7" stroke-linecap="round" fill="none"/>
<circle cx="751.4" cy="450" r="1.3" fill="#000"/>
<circle cx="748" cy="461.7" r="1.0" fill="#555"/>
<circle cx="770.3" cy="471" r="1.0" fill="#555"/>
<circle cx="736.5" cy="464.5" r="1.3" fill="#000"/>
<line x1="660" y1="137.6" x2="660" y2="322.6" stroke="#4682b4" stroke-width="1.7"/>
<line x1="660" y1="332.8" x2="660" y2="518.2" stroke="#4682b4" stroke-width="1.7"/>
<line x1="642.4" y1="386.8" x2="829.0" y2="386.8" stroke="#4682b4" stroke-width="1.7"/>
<rect x="656" y="382.8" width="8" height="8" fill="#4682b4"/>
<line x1="969.2" y1="332.8" x2="969.2" y2="518.2" stroke="#4682b4" stroke-width="1.6"/>
<path d="M642.83 213.97 L644.9 209.83 L645.52 192.24 L647.59 187.07 L648.21 175.69 L649.66 187.07 L651.72 172.59 L653.17 169.48 L655.86 168.86 L657.93 179.83 L660 180.86 L661.03 163.28 L662.07 178.79 L664.14 166.38 L666.21 153.97 L667.66 173.62 L669.31 158.1 L670.35 169.48 L672.41 174.66 L673.86 169.48 L675.1 188.1 L677.17 174.66 L678.62 162.24 L680.28 163.28 L681.31 206.72 L683.38 201.55 L684.83 188.1 L686.28 193.28 L687.93 211.9 L688.97 223.28 L690.41 219.14 L691.66 228.45 L693.1 224.31 L694.14 234.66 L696.21 224.31 L698.28 232.59 L699.93 249.14 L701.38 237.76 L702.83 238.79 L704.48 247.07 L706.55 254.31 L708.21 272.93 L709.66 254.31 L711.1 261.55 L712.76 271.9 L714.41 270.86 L715.86 278.1 L717.93 278.1 L721.04 283.28 L723.1 279.14 L725.17 285.35 L727.24 292.59 L729.31 295.69 L731.38 292.17 L733.45 300.86 L735.93 301.9 L738.62 308.1 L741.72 313.69 L744.83 311.21 L746.9 312.24 L748.35 309.14 L750 315.35 L753.1 317.42 L755.17 320.52 L757.24 317.42 L760.35 319.48 L762.41 318.45 L765.52 320.52 L768.62 320.52 L770.28 316.38 L771.73 319.9 L774.83 320.52 L778.97 321.55 L783.1 321.55 L787.24 321.55 L790.35 320.52 L793.45 321.97 L829.04 322.59" fill="none" stroke="#000" stroke-width="2.35" stroke-linejoin="round" stroke-linecap="round" />
<path d="M838.03 518 L853.97 517.59 L856.03 515.52 L858.1 517.59 L867.41 516.97 L869.48 514.9 L871.55 516.14 L875.69 514.48 L877.76 515.52 L879.83 513.45 L882.93 514.48 L885 512.42 L890.17 512.42 L893.28 507.24 L896.38 502.48 L898.45 504.14 L900.52 498.97 L902.59 497.52 L904.24 504.14 L905.69 492.76 L907.76 491.73 L909.83 485.52 L911.48 481.38 L913.97 484.48 L915.62 480.35 L917.07 470 L919.14 464.83 L920.59 460.69 L921.83 465.86 L923.28 459.04 L926.38 454.9 L928.04 442.07 L929.07 432.14 L930.93 441.04 L932.59 436.9 L934.66 427.59 L936.72 428.62 L938.38 421.38 L939.83 417.24 L941.28 403.79 L942.93 400.69 L943.97 407.93 L945.41 397.59 L947.07 400.69 L948.72 391.38 L949.76 384.14 L950.17 371.72 L952.24 364.48 L953.69 358.28 L954.93 367.59 L955.97 361.38 L957.41 367.59 L958.45 373.79 L959.48 378.97 L960.52 369.66 L961.55 350 L963.21 354.14 L964.66 352.07 L966.1 360.35 L967.76 367.59 L969.21 384.14 L970.86 387.24 L972.31 391.38 L973.55 396.55 L975 393.45 L977.07 400.69 L978.52 408.97 L979.76 416.21 L981.21 414.14 L982.24 425.52 L983.9 437.93 L985.35 436.9 L985.97 452.41 L987.41 460.69 L988.86 466.9 L990.52 465.86 L992.17 473.1 L993.62 487.59 L995.69 494.83 L997.14 503.1 L999.21 502.07 L1000.86 507.24 L1002.93 510.35 L1005 515.52 L1008.1 515.52 L1010.17 517.59 L1024.66 518" fill="none" stroke="#000" stroke-width="2.35" stroke-linejoin="round" stroke-linecap="round" />
<line x1="680.7" y1="322.6" x2="680.7" y2="326.6" stroke="#222" stroke-width="1"/>
<line x1="720.4" y1="322.6" x2="720.4" y2="326.6" stroke="#222" stroke-width="1"/>
<line x1="761.4" y1="322.6" x2="761.4" y2="326.6" stroke="#222" stroke-width="1"/>
<line x1="801.3" y1="322.6" x2="801.3" y2="326.6" stroke="#222" stroke-width="1"/>
<rect x="642.4" y="137.6" width="186.6" height="185" fill="none" stroke="#111" stroke-width="1.05"/>
<rect x="642.4" y="332.8" width="186.6" height="185.4" fill="none" stroke="#111" stroke-width="1.05"/>
<rect x="838.2" y="332.8" width="186.4" height="185.4" fill="none" stroke="#111" stroke-width="1.05"/>
<text x="592.3" y="431.3" font-family='"Liberation Serif", serif' font-style="italic" font-size="28" text-anchor="start" stroke="#000" stroke-width="0.2">P<tspan font-size="19.5" font-style="normal" dx="-0.6" dy="7">2</tspan></text>
<text x="710.3" y="565.8" font-family='"Liberation Serif", serif' font-style="italic" font-size="28" text-anchor="start" stroke="#000" stroke-width="0.2">P<tspan font-size="19.5" font-style="normal" dx="-1.6" dy="7">1</tspan></text>
<text x="922.3" y="565.8" font-family='"Liberation Serif", serif' font-style="italic" font-size="28" text-anchor="start" stroke="#000" stroke-width="0.2">P<tspan font-size="19.5" font-style="normal" dx="-0.6" dy="7">2</tspan></text>
</g>
<g id="sketch">
<line x1="1207.6" y1="375.5" x2="1207.6" y2="253.9" stroke="#000" stroke-width="1.9"/>
<polygon points="1207.6,245.9 1212.35,254.9 1202.85,254.9" fill="#000"/>
<line x1="1207.6" y1="375.5" x2="1473.11" y2="299.01" stroke="#000" stroke-width="1.9"/>
<polygon points="1480.8,296.8 1473.47,303.86 1470.84,294.73" fill="#000"/>
<line x1="1207.6" y1="375.5" x2="1406.18" y2="418.6" stroke="#000" stroke-width="1.9"/>
<polygon points="1414,420.3 1404.2,423.03 1406.21,413.75" fill="#000"/>
<path d="M1262.7 379.99C1264.02 379.16 1268.55 377.73 1270.63 375.01C1272.71 372.29 1274.1 368.96 1275.16 363.68C1276.22 358.39 1276.52 350.46 1276.97 343.29C1277.43 336.11 1277.24 325.92 1277.88 320.63C1278.52 315.34 1279.47 313.38 1280.82 311.57C1282.18 309.75 1284.15 309.56 1286.04 309.75C1287.92 309.94 1290.76 310.89 1292.15 312.7C1293.55 314.51 1294.23 317.04 1294.42 320.63C1294.61 324.22 1293.85 329.69 1293.29 334.22C1292.72 338.75 1291.59 343.66 1291.02 347.82C1290.45 351.97 1289.7 356.2 1289.89 359.15C1290.08 362.09 1291.02 364.36 1292.15 365.49C1293.29 366.62 1294.8 366.25 1296.68 365.94C1298.57 365.64 1301.59 364.81 1303.48 363.68C1305.37 362.54 1307.07 361.41 1308.01 359.15C1308.96 356.88 1308.58 352.73 1309.15 350.08C1309.71 347.44 1310.28 344.8 1311.41 343.29C1312.54 341.78 1314.43 341.21 1315.94 341.02C1317.45 340.83 1319.34 341.02 1320.47 342.15C1321.61 343.29 1322.36 345.36 1322.74 347.82C1323.12 350.27 1322.93 353.48 1322.74 356.88C1322.55 360.28 1321.42 364.43 1321.61 368.21C1321.8 371.99 1322.74 375.76 1323.87 379.54C1325.01 383.31 1327.65 388.98 1328.4 390.87" fill="none" stroke="#000" stroke-width="1.9" stroke-linecap="round" stroke-linejoin="round"/>
<path d="M1347.66 379.99C1348.8 379.54 1352.38 379.61 1354.46 377.27C1356.54 374.93 1358.88 370.85 1360.13 365.94C1361.37 361.03 1361.45 354.61 1361.94 347.82C1362.43 341.02 1362.5 330.82 1363.07 325.16C1363.64 319.5 1363.94 316.36 1365.34 313.83C1366.73 311.3 1369.11 310.28 1371.45 309.98C1373.79 309.68 1377.5 310.24 1379.38 312.02C1381.27 313.79 1382.22 317.31 1382.78 320.63C1383.35 323.95 1382.4 328.94 1382.78 331.96C1383.16 334.98 1383.54 337.24 1385.05 338.75C1386.56 340.27 1391.18 340.64 1391.85 341.02C1392.51 341.4 1387.63 340.94 1389.06 341.02C1390.48 341.1 1397.37 340.34 1400.39 341.47C1403.41 342.61 1405.86 345.25 1407.18 347.82C1408.51 350.39 1408.32 353.86 1408.32 356.88C1408.32 359.9 1407.18 362.54 1407.18 365.94C1407.18 369.34 1407.26 373.12 1408.32 377.27C1409.37 381.43 1412.66 388.6 1413.53 390.87" fill="none" stroke="#000" stroke-width="1.9" stroke-linecap="round" stroke-linejoin="round"/>
<path d="M1407.19 365.49C1408.7 364.43 1413.99 362.09 1416.25 359.15C1418.52 356.2 1419.84 353.48 1420.78 347.82C1421.73 342.15 1421.54 332.34 1421.92 325.16C1422.29 317.99 1422.29 309.49 1423.05 304.77C1423.8 300.05 1424.75 298.46 1426.45 296.84C1428.15 295.22 1430.98 294.65 1433.24 295.03C1435.51 295.4 1437.96 296.73 1440.04 299.1C1442.12 301.48 1443.25 305.71 1445.71 309.3C1448.16 312.89 1452.13 316.85 1454.77 320.63C1457.41 324.41 1459.68 327.05 1461.57 331.96C1463.45 336.87 1464.78 344.42 1466.1 350.08C1467.42 355.75 1468.29 361.71 1469.5 365.94C1470.7 370.17 1472.71 373.87 1473.35 375.46" fill="none" stroke="#000" stroke-width="1.9" stroke-linecap="round" stroke-linejoin="round"/>
<path d="M1493.74 365.49C1495.17 362.92 1499.4 355.67 1502.35 350.08C1505.29 344.49 1509.22 336.87 1511.41 331.96C1513.6 327.05 1514.74 324.78 1515.49 320.63C1516.25 316.48 1515.49 310.81 1515.94 307.03C1516.4 303.26 1516.89 300.05 1518.21 297.97C1519.53 295.89 1521.8 294.76 1523.87 294.57C1525.95 294.38 1528.59 294.76 1530.67 296.84C1532.75 298.92 1534.26 303.26 1536.33 307.03C1538.41 310.81 1541.06 315.34 1543.13 319.5C1545.21 323.65 1547.1 326.86 1548.8 331.96C1550.5 337.06 1552.01 344.04 1553.33 350.08C1554.65 356.13 1555.67 363.75 1556.73 368.21C1557.78 372.67 1559.18 375.38 1559.67 376.82" fill="none" stroke="#000" stroke-width="1.9" stroke-linecap="round" stroke-linejoin="round"/>
<text x="1445" y="286.6" font-family='"Liberation Serif", serif' font-style="italic" font-size="23" text-anchor="start" stroke="#000" stroke-width="0.25">Cycles</text>
<text x="1421.5" y="441.8" font-family='"Liberation Serif", serif' font-style="italic" font-size="23" text-anchor="start" stroke="#000" stroke-width="0.25">P<tspan font-size="16" font-style="italic" dx="0" dy="5.5">i</tspan></text>
</g>
<g id="hm0">
<rect x="70" y="711.5" width="1" height="272" fill="url(#g0_0)" shape-rendering="crispEdges"/>
<rect x="71" y="711.5" width="1" height="272" fill="url(#g0_1)" shape-rendering="crispEdges"/>
<rect x="72" y="711.5" width="1" height="272" fill="url(#g0_2)" shape-rendering="crispEdges"/>
<rect x="73" y="711.5" width="1" height="272" fill="url(#g0_3)" shape-rendering="crispEdges"/>
<rect x="74" y="711.5" width="1" height="272" fill="url(#g0_4)" shape-rendering="crispEdges"/>
<rect x="75" y="711.5" width="1" height="272" fill="url(#g0_5)" shape-rendering="crispEdges"/>
<rect x="76" y="711.5" width="1" height="272" fill="url(#g0_6)" shape-rendering="crispEdges"/>
<rect x="77" y="711.5" width="1" height="272" fill="url(#g0_7)" shape-rendering="crispEdges"/>
<rect x="78" y="711.5" width="1" height="272" fill="url(#g0_8)" shape-rendering="crispEdges"/>
<rect x="79" y="711.5" width="1" height="272" fill="url(#g0_9)" shape-rendering="crispEdges"/>
<rect x="80" y="711.5" width="1" height="272" fill="url(#g0_10)" shape-rendering="crispEdges"/>
<rect x="81" y="711.5" width="1" height="272" fill="url(#g0_11)" shape-rendering="crispEdges"/>
<rect x="82" y="711.5" width="1" height="272" fill="url(#g0_12)" shape-rendering="crispEdges"/>
<rect x="83" y="711.5" width="1" height="272" fill="url(#g0_13)" shape-rendering="crispEdges"/>
<rect x="84" y="711.5" width="1" height="272" fill="url(#g0_14)" shape-rendering="crispEdges"/>
<rect x="85" y="711.5" width="1" height="272" fill="url(#g0_15)" shape-rendering="crispEdges"/>
<rect x="86" y="711.5" width="1" height="272" fill="url(#g0_16)" shape-rendering="crispEdges"/>
<rect x="87" y="711.5" width="1" height="272" fill="url(#g0_17)" shape-rendering="crispEdges"/>
<rect x="88" y="711.5" width="1" height="272" fill="url(#g0_18)" shape-rendering="crispEdges"/>
<rect x="89" y="711.5" width="1" height="272" fill="url(#g0_19)" shape-rendering="crispEdges"/>
<rect x="90" y="711.5" width="1" height="272" fill="url(#g0_20)" shape-rendering="crispEdges"/>
<rect x="91" y="711.5" width="1" height="272" fill="url(#g0_21)" shape-rendering="crispEdges"/>
<rect x="92" y="711.5" width="1" height="272" fill="url(#g0_22)" shape-rendering="crispEdges"/>
<rect x="93" y="711.5" width="1" height="272" fill="url(#g0_23)" shape-rendering="crispEdges"/>
<rect x="94" y="711.5" width="1" height="272" fill="url(#g0_24)" shape-rendering="crispEdges"/>
<rect x="95" y="711.5" width="1" height="272" fill="url(#g0_25)" shape-rendering="crispEdges"/>
<rect x="96" y="711.5" width="1" height="272" fill="url(#g0_26)" shape-rendering="crispEdges"/>
<rect x="97" y="711.5" width="1" height="272" fill="url(#g0_27)" shape-rendering="crispEdges"/>
<rect x="98" y="711.5" width="1" height="272" fill="url(#g0_28)" shape-rendering="crispEdges"/>
<rect x="99" y="711.5" width="1" height="272" fill="url(#g0_29)" shape-rendering="crispEdges"/>
<rect x="100" y="711.5" width="1" height="272" fill="url(#g0_30)" shape-rendering="crispEdges"/>
<rect x="101" y="711.5" width="1" height="272" fill="url(#g0_31)" shape-rendering="crispEdges"/>
<rect x="102" y="711.5" width="1" height="272" fill="url(#g0_32)" shape-rendering="crispEdges"/>
<rect x="103" y="711.5" width="1" height="272" fill="url(#g0_33)" shape-rendering="crispEdges"/>
<rect x="104" y="711.5" width="1" height="272" fill="url(#g0_34)" shape-rendering="crispEdges"/>
<rect x="105" y="711.5" width="1" height="272" fill="url(#g0_35)" shape-rendering="crispEdges"/>
<rect x="106" y="711.5" width="1" height="272" fill="url(#g0_36)" shape-rendering="crispEdges"/>
<rect x="107" y="711.5" width="1" height="272" fill="url(#g0_37)" shape-rendering="crispEdges"/>
<rect x="108" y="711.5" width="1" height="272" fill="url(#g0_38)" shape-rendering="crispEdges"/>
<rect x="109" y="711.5" width="1" height="272" fill="url(#g0_39)" shape-rendering="crispEdges"/>
<rect x="110" y="711.5" width="1" height="272" fill="url(#g0_40)" shape-rendering="crispEdges"/>
<rect x="111" y="711.5" width="1" height="272" fill="url(#g0_41)" shape-rendering="crispEdges"/>
<rect x="112" y="711.5" width="1" height="272" fill="url(#g0_42)" shape-rendering="crispEdges"/>
<rect x="113" y="711.5" width="1" height="272" fill="url(#g0_43)" shape-rendering="crispEdges"/>
<rect x="114" y="711.5" width="1" height="272" fill="url(#g0_44)" shape-rendering="crispEdges"/>
<rect x="115" y="711.5" width="1" height="272" fill="url(#g0_45)" shape-rendering="crispEdges"/>
<rect x="116" y="711.5" width="1" height="272" fill="url(#g0_46)" shape-rendering="crispEdges"/>
<rect x="117" y="711.5" width="1" height="272" fill="url(#g0_47)" shape-rendering="crispEdges"/>
<rect x="118" y="711.5" width="1" height="272" fill="url(#g0_48)" shape-rendering="crispEdges"/>
<rect x="119" y="711.5" width="1" height="272" fill="url(#g0_49)" shape-rendering="crispEdges"/>
<rect x="120" y="711.5" width="1" height="272" fill="url(#g0_50)" shape-rendering="crispEdges"/>
<rect x="121" y="711.5" width="1" height="272" fill="url(#g0_51)" shape-rendering="crispEdges"/>
<rect x="122" y="711.5" width="1" height="272" fill="url(#g0_52)" shape-rendering="crispEdges"/>
<rect x="123" y="711.5" width="1" height="272" fill="url(#g0_53)" shape-rendering="crispEdges"/>
<rect x="124" y="711.5" width="1" height="272" fill="url(#g0_54)" shape-rendering="crispEdges"/>
<rect x="125" y="711.5" width="1" height="272" fill="url(#g0_55)" shape-rendering="crispEdges"/>
<rect x="126" y="711.5" width="1" height="272" fill="url(#g0_56)" shape-rendering="crispEdges"/>
<rect x="127" y="711.5" width="1" height="272" fill="url(#g0_57)" shape-rendering="crispEdges"/>
<rect x="128" y="711.5" width="1" height="272" fill="url(#g0_58)" shape-rendering="crispEdges"/>
<rect x="129" y="711.5" width="1" height="272" fill="url(#g0_59)" shape-rendering="crispEdges"/>
<rect x="130" y="711.5" width="1" height="272" fill="url(#g0_60)" shape-rendering="crispEdges"/>
<rect x="131" y="711.5" width="1" height="272" fill="url(#g0_61)" shape-rendering="crispEdges"/>
<rect x="132" y="711.5" width="1" height="272" fill="url(#g0_62)" shape-rendering="crispEdges"/>
<rect x="133" y="711.5" width="1" height="272" fill="url(#g0_63)" shape-rendering="crispEdges"/>
<rect x="134" y="711.5" width="1" height="272" fill="url(#g0_64)" shape-rendering="crispEdges"/>
<rect x="135" y="711.5" width="1" height="272" fill="url(#g0_65)" shape-rendering="crispEdges"/>
<rect x="136" y="711.5" width="1" height="272" fill="url(#g0_66)" shape-rendering="crispEdges"/>
<rect x="137" y="711.5" width="1" height="272" fill="url(#g0_67)" shape-rendering="crispEdges"/>
<rect x="138" y="711.5" width="1" height="272" fill="url(#g0_68)" shape-rendering="crispEdges"/>
<rect x="139" y="711.5" width="1" height="272" fill="url(#g0_69)" shape-rendering="crispEdges"/>
<rect x="140" y="711.5" width="1" height="272" fill="url(#g0_70)" shape-rendering="crispEdges"/>
<rect x="141" y="711.5" width="1" height="272" fill="url(#g0_71)" shape-rendering="crispEdges"/>
<rect x="142" y="711.5" width="1" height="272" fill="url(#g0_72)" shape-rendering="crispEdges"/>
<rect x="143" y="711.5" width="1" height="272" fill="url(#g0_73)" shape-rendering="crispEdges"/>
<rect x="144" y="711.5" width="1" height="272" fill="url(#g0_74)" shape-rendering="crispEdges"/>
<rect x="145" y="711.5" width="1" height="272" fill="url(#g0_75)" shape-rendering="crispEdges"/>
<rect x="146" y="711.5" width="1" height="272" fill="url(#g0_76)" shape-rendering="crispEdges"/>
<rect x="147" y="711.5" width="1" height="272" fill="url(#g0_77)" shape-rendering="crispEdges"/>
<rect x="148" y="711.5" width="1" height="272" fill="url(#g0_78)" shape-rendering="crispEdges"/>
<rect x="149" y="711.5" width="1" height="272" fill="url(#g0_79)" shape-rendering="crispEdges"/>
<rect x="150" y="711.5" width="1" height="272" fill="url(#g0_80)" shape-rendering="crispEdges"/>
<rect x="151" y="711.5" width="1" height="272" fill="url(#g0_81)" shape-rendering="crispEdges"/>
<rect x="152" y="711.5" width="1" height="272" fill="url(#g0_82)" shape-rendering="crispEdges"/>
<rect x="153" y="711.5" width="1" height="272" fill="url(#g0_83)" shape-rendering="crispEdges"/>
<rect x="154" y="711.5" width="1" height="272" fill="url(#g0_84)" shape-rendering="crispEdges"/>
<rect x="155" y="711.5" width="1" height="272" fill="url(#g0_85)" shape-rendering="crispEdges"/>
<rect x="156" y="711.5" width="1" height="272" fill="url(#g0_86)" shape-rendering="crispEdges"/>
<rect x="157" y="711.5" width="1" height="272" fill="url(#g0_87)" shape-rendering="crispEdges"/>
<rect x="158" y="711.5" width="1" height="272" fill="url(#g0_88)" shape-rendering="crispEdges"/>
<rect x="159" y="711.5" width="1" height="272" fill="url(#g0_89)" shape-rendering="crispEdges"/>
<rect x="160" y="711.5" width="1" height="272" fill="url(#g0_90)" shape-rendering="crispEdges"/>
<rect x="161" y="711.5" width="1" height="272" fill="url(#g0_91)" shape-rendering="crispEdges"/>
<rect x="162" y="711.5" width="1" height="272" fill="url(#g0_92)" shape-rendering="crispEdges"/>
<line x1="65.6" y1="711.6" x2="69.2" y2="711.6" stroke="#000" stroke-width="1.1"/>
<text transform="translate(60,715.1) scale(1.05,1)" font-family='"Liberation Serif", serif' font-weight="700" font-style="normal" font-size="13.8" text-anchor="end" fill="#000" stroke="#000" stroke-width="0.16">0</text>
<line x1="70.4" y1="745.6" x2="160.8" y2="745.6" stroke="#000" stroke-opacity="0.8" stroke-width="0.95"/>
<line x1="65.6" y1="745.6" x2="69.2" y2="745.6" stroke="#000" stroke-width="1.1"/>
<text transform="translate(60,749.1) scale(1.05,1)" font-family='"Liberation Serif", serif' font-weight="700" font-style="normal" font-size="13.8" text-anchor="end" fill="#000" stroke="#000" stroke-width="0.16">1000</text>
<line x1="70.4" y1="779.1" x2="160.8" y2="779.1" stroke="#000" stroke-opacity="0.8" stroke-width="0.95"/>
<line x1="65.6" y1="779.1" x2="69.2" y2="779.1" stroke="#000" stroke-width="1.1"/>
<text transform="translate(60,782.6) scale(1.05,1)" font-family='"Liberation Serif", serif' font-weight="700" font-style="normal" font-size="13.8" text-anchor="end" fill="#000" stroke="#000" stroke-width="0.16">2000</text>
<line x1="70.4" y1="812.5" x2="160.8" y2="812.5" stroke="#000" stroke-opacity="0.8" stroke-width="0.95"/>
<line x1="65.6" y1="812.5" x2="69.2" y2="812.5" stroke="#000" stroke-width="1.1"/>
<text transform="translate(60,816) scale(1.05,1)" font-family='"Liberation Serif", serif' font-weight="700" font-style="normal" font-size="13.8" text-anchor="end" fill="#000" stroke="#000" stroke-width="0.16">3000</text>
<line x1="70.4" y1="846.1" x2="160.8" y2="846.1" stroke="#000" stroke-opacity="0.8" stroke-width="0.95"/>
<line x1="65.6" y1="846.1" x2="69.2" y2="846.1" stroke="#000" stroke-width="1.1"/>
<text transform="translate(60,849.6) scale(1.05,1)" font-family='"Liberation Serif", serif' font-weight="700" font-style="normal" font-size="13.8" text-anchor="end" fill="#000" stroke="#000" stroke-width="0.16">4000</text>
<line x1="70.4" y1="879.4" x2="160.8" y2="879.4" stroke="#000" stroke-opacity="0.8" stroke-width="0.95"/>
<line x1="65.6" y1="879.4" x2="69.2" y2="879.4" stroke="#000" stroke-width="1.1"/>
<text transform="translate(60,882.9) scale(1.05,1)" font-family='"Liberation Serif", serif' font-weight="700" font-style="normal" font-size="13.8" text-anchor="end" fill="#000" stroke="#000" stroke-width="0.16">5000</text>
<line x1="70.4" y1="912.8" x2="160.8" y2="912.8" stroke="#000" stroke-opacity="0.8" stroke-width="0.95"/>
<line x1="65.6" y1="912.8" x2="69.2" y2="912.8" stroke="#000" stroke-width="1.1"/>
<text transform="translate(60,916.3) scale(1.05,1)" font-family='"Liberation Serif", serif' font-weight="700" font-style="normal" font-size="13.8" text-anchor="end" fill="#000" stroke="#000" stroke-width="0.16">6000</text>
<line x1="70.4" y1="946.4" x2="160.8" y2="946.4" stroke="#000" stroke-opacity="0.8" stroke-width="0.95"/>
<line x1="65.6" y1="946.4" x2="69.2" y2="946.4" stroke="#000" stroke-width="1.1"/>
<text transform="translate(60,949.9) scale(1.05,1)" font-family='"Liberation Serif", serif' font-weight="700" font-style="normal" font-size="13.8" text-anchor="end" fill="#000" stroke="#000" stroke-width="0.16">7000</text>
<line x1="70.4" y1="979.9" x2="160.8" y2="979.9" stroke="#000" stroke-opacity="0.8" stroke-width="0.95"/>
<line x1="65.6" y1="979.9" x2="69.2" y2="979.9" stroke="#000" stroke-width="1.1"/>
<text transform="translate(60,983.4) scale(1.05,1)" font-family='"Liberation Serif", serif' font-weight="700" font-style="normal" font-size="13.8" text-anchor="end" fill="#000" stroke="#000" stroke-width="0.16">8000</text>
<path d="M69.2 711.5H164.2M69.2 983.5H164.2" stroke="#000" stroke-width="2.4" fill="none"/>
<path d="M70.55 710.3V984.7M162.85 710.3V984.7" stroke="#000" stroke-width="2.7" fill="none"/>
<text transform="translate(116.7,996.8) scale(1.07,1)" font-family='"Liberation Serif", serif' font-weight="700" font-style="normal" font-size="14.0" text-anchor="middle" fill="#000" stroke="#000" stroke-width="0.15">x</text>
<text transform="translate(24,848) scale(1.12,1) rotate(-90)" font-family='"Liberation Serif", serif' font-weight="700" font-style="normal" font-size="14.5" text-anchor="middle" fill="#000" stroke="#000" stroke-width="0.15">t [s]</text>
<text transform="translate(116.7,704.2) scale(1.04,1)" font-family='"DejaVu Sans", "Liberation Sans", sans-serif' font-weight="400" font-style="italic" font-size="14.3" text-anchor="middle" fill="#1a1a1a">c<tspan font-size="10.4" dy="1.7" font-style="normal">e</tspan></text>
<rect x="180.85" y="711.3" width="8.6" height="272.1" fill="url(#cb)" stroke="#000" stroke-width="0.9"/>
<line x1="189.9" y1="744.6" x2="194.2" y2="744.6" stroke="#000" stroke-width="1.1"/>
<text transform="translate(197.85,749.9) scale(1.02,1)" font-family='"DejaVu Serif", "Liberation Serif", serif' font-weight="700" font-style="normal" font-size="14.6" text-anchor="start" fill="#000">1.27</text>
<line x1="189.9" y1="778.8" x2="194.2" y2="778.8" stroke="#000" stroke-width="1.1"/>
<text transform="translate(197.85,784.1) scale(1.02,1)" font-family='"DejaVu Serif", "Liberation Serif", serif' font-weight="700" font-style="normal" font-size="14.6" text-anchor="start" fill="#000">1.26</text>
<line x1="189.9" y1="812.9" x2="194.2" y2="812.9" stroke="#000" stroke-width="1.1"/>
<text transform="translate(197.85,818.2) scale(1.02,1)" font-family='"DejaVu Serif", "Liberation Serif", serif' font-weight="700" font-style="normal" font-size="14.6" text-anchor="start" fill="#000">1.25</text>
<line x1="189.9" y1="847" x2="194.2" y2="847" stroke="#000" stroke-width="1.1"/>
<text transform="translate(197.85,852.3) scale(1.02,1)" font-family='"DejaVu Serif", "Liberation Serif", serif' font-weight="700" font-style="normal" font-size="14.6" text-anchor="start" fill="#000">1.24</text>
<line x1="189.9" y1="881.3" x2="194.2" y2="881.3" stroke="#000" stroke-width="1.1"/>
<text transform="translate(197.85,886.6) scale(1.02,1)" font-family='"DejaVu Serif", "Liberation Serif", serif' font-weight="700" font-style="normal" font-size="14.6" text-anchor="start" fill="#000">1.23</text>
<line x1="189.9" y1="915.2" x2="194.2" y2="915.2" stroke="#000" stroke-width="1.1"/>
<text transform="translate(197.85,920.5) scale(1.02,1)" font-family='"DejaVu Serif", "Liberation Serif", serif' font-weight="700" font-style="normal" font-size="14.6" text-anchor="start" fill="#000">1.22</text>
<line x1="189.9" y1="949.3" x2="194.2" y2="949.3" stroke="#000" stroke-width="1.1"/>
<text transform="translate(197.85,954.6) scale(1.02,1)" font-family='"DejaVu Serif", "Liberation Serif", serif' font-weight="700" font-style="normal" font-size="14.6" text-anchor="start" fill="#000">1.21</text>
<line x1="189.9" y1="983.2" x2="194.2" y2="983.2" stroke="#000" stroke-width="1.1"/>
<text transform="translate(197.85,988.5) scale(1.02,1)" font-family='"DejaVu Serif", "Liberation Serif", serif' font-weight="700" font-style="normal" font-size="14.6" text-anchor="start" fill="#000">1.20</text>
<text transform="translate(255.9,847.8) scale(1.07,1) rotate(-90)" font-family='"DejaVu Sans", "Liberation Sans", sans-serif' font-weight="400" font-style="italic" font-size="17.2" text-anchor="middle" fill="#1a1a1a"><tspan font-style="normal">[</tspan>kmol/m<tspan font-style="normal" font-size="12.04" dy="-6.3">3</tspan><tspan font-style="normal" dy="6.3">]</tspan></text>
</g>
<g id="hm1">
<rect x="342.4" y="711.5" width="92.4" height="272" fill="url(#g1)"/>
<line x1="337.6" y1="711.6" x2="341.2" y2="711.6" stroke="#000" stroke-width="1.1"/>
<text transform="translate(332,715.1) scale(1.05,1)" font-family='"Liberation Serif", serif' font-weight="700" font-style="normal" font-size="13.8" text-anchor="end" fill="#000" stroke="#000" stroke-width="0.16">0</text>
<line x1="342.4" y1="745.6" x2="432.6" y2="745.6" stroke="#000" stroke-opacity="0.8" stroke-width="0.95"/>
<line x1="337.6" y1="745.6" x2="341.2" y2="745.6" stroke="#000" stroke-width="1.1"/>
<text transform="translate(332,749.1) scale(1.05,1)" font-family='"Liberation Serif", serif' font-weight="700" font-style="normal" font-size="13.8" text-anchor="end" fill="#000" stroke="#000" stroke-width="0.16">1000</text>
<line x1="342.4" y1="779.1" x2="432.6" y2="779.1" stroke="#000" stroke-opacity="0.8" stroke-width="0.95"/>
<line x1="337.6" y1="779.1" x2="341.2" y2="779.1" stroke="#000" stroke-width="1.1"/>
<text transform="translate(332,782.6) scale(1.05,1)" font-family='"Liberation Serif", serif' font-weight="700" font-style="normal" font-size="13.8" text-anchor="end" fill="#000" stroke="#000" stroke-width="0.16">2000</text>
<line x1="342.4" y1="812.5" x2="432.6" y2="812.5" stroke="#000" stroke-opacity="0.8" stroke-width="0.95"/>
<line x1="337.6" y1="812.5" x2="341.2" y2="812.5" stroke="#000" stroke-width="1.1"/>
<text transform="translate(332,816) scale(1.05,1)" font-family='"Liberation Serif", serif' font-weight="700" font-style="normal" font-size="13.8" text-anchor="end" fill="#000" stroke="#000" stroke-width="0.16">3000</text>
<line x1="342.4" y1="846.1" x2="432.6" y2="846.1" stroke="#000" stroke-opacity="0.8" stroke-width="0.95"/>
<line x1="337.6" y1="846.1" x2="341.2" y2="846.1" stroke="#000" stroke-width="1.1"/>
<text transform="translate(332,849.6) scale(1.05,1)" font-family='"Liberation Serif", serif' font-weight="700" font-style="normal" font-size="13.8" text-anchor="end" fill="#000" stroke="#000" stroke-width="0.16">4000</text>
<line x1="342.4" y1="879.4" x2="432.6" y2="879.4" stroke="#000" stroke-opacity="0.8" stroke-width="0.95"/>
<line x1="337.6" y1="879.4" x2="341.2" y2="879.4" stroke="#000" stroke-width="1.1"/>
<text transform="translate(332,882.9) scale(1.05,1)" font-family='"Liberation Serif", serif' font-weight="700" font-style="normal" font-size="13.8" text-anchor="end" fill="#000" stroke="#000" stroke-width="0.16">5000</text>
<line x1="342.4" y1="912.8" x2="432.6" y2="912.8" stroke="#000" stroke-opacity="0.8" stroke-width="0.95"/>
<line x1="337.6" y1="912.8" x2="341.2" y2="912.8" stroke="#000" stroke-width="1.1"/>
<text transform="translate(332,916.3) scale(1.05,1)" font-family='"Liberation Serif", serif' font-weight="700" font-style="normal" font-size="13.8" text-anchor="end" fill="#000" stroke="#000" stroke-width="0.16">6000</text>
<line x1="342.4" y1="946.4" x2="432.6" y2="946.4" stroke="#000" stroke-opacity="0.8" stroke-width="0.95"/>
<line x1="337.6" y1="946.4" x2="341.2" y2="946.4" stroke="#000" stroke-width="1.1"/>
<text transform="translate(332,949.9) scale(1.05,1)" font-family='"Liberation Serif", serif' font-weight="700" font-style="normal" font-size="13.8" text-anchor="end" fill="#000" stroke="#000" stroke-width="0.16">7000</text>
<line x1="342.4" y1="979.9" x2="432.6" y2="979.9" stroke="#000" stroke-opacity="0.8" stroke-width="0.95"/>
<line x1="337.6" y1="979.9" x2="341.2" y2="979.9" stroke="#000" stroke-width="1.1"/>
<text transform="translate(332,983.4) scale(1.05,1)" font-family='"Liberation Serif", serif' font-weight="700" font-style="normal" font-size="13.8" text-anchor="end" fill="#000" stroke="#000" stroke-width="0.16">8000</text>
<path d="M341.2 711.5H436M341.2 983.5H436" stroke="#000" stroke-width="2.4" fill="none"/>
<path d="M342.55 710.3V984.7M434.65 710.3V984.7" stroke="#000" stroke-width="2.7" fill="none"/>
<text transform="translate(388.6,996.8) scale(1.07,1)" font-family='"Liberation Serif", serif' font-weight="700" font-style="normal" font-size="14.0" text-anchor="middle" fill="#000" stroke="#000" stroke-width="0.15">x</text>
<text transform="translate(296,848) scale(1.12,1) rotate(-90)" font-family='"Liberation Serif", serif' font-weight="700" font-style="normal" font-size="14.5" text-anchor="middle" fill="#000" stroke="#000" stroke-width="0.15">t [s]</text>
<text transform="translate(388.6,704.2) scale(1.04,1)" font-family='"DejaVu Sans", "Liberation Sans", sans-serif' font-weight="400" font-style="italic" font-size="14.3" text-anchor="middle" fill="#1a1a1a">ϕ<tspan font-size="10.4" dy="1.7" font-style="normal">e</tspan></text>
<rect x="452.55" y="711.3" width="9" height="272.1" fill="url(#cb)" stroke="#000" stroke-width="0.9"/>
<line x1="462" y1="715.3" x2="466.3" y2="715.3" stroke="#000" stroke-width="1.1"/>
<text transform="translate(470.55,720.6) scale(1.02,1)" font-family='"DejaVu Serif", "Liberation Serif", serif' font-weight="700" font-style="normal" font-size="14.6" text-anchor="start" fill="#000">−0.02</text>
<line x1="462" y1="749.5" x2="466.3" y2="749.5" stroke="#000" stroke-width="1.1"/>
<text transform="translate(470.55,754.8) scale(1.02,1)" font-family='"DejaVu Serif", "Liberation Serif", serif' font-weight="700" font-style="normal" font-size="14.6" text-anchor="start" fill="#000">−0.04</text>
<line x1="462" y1="783.5" x2="466.3" y2="783.5" stroke="#000" stroke-width="1.1"/>
<text transform="translate(470.55,788.8) scale(1.02,1)" font-family='"DejaVu Serif", "Liberation Serif", serif' font-weight="700" font-style="normal" font-size="14.6" text-anchor="start" fill="#000">−0.06</text>
<line x1="462" y1="817.4" x2="466.3" y2="817.4" stroke="#000" stroke-width="1.1"/>
<text transform="translate(470.55,822.7) scale(1.02,1)" font-family='"DejaVu Serif", "Liberation Serif", serif' font-weight="700" font-style="normal" font-size="14.6" text-anchor="start" fill="#000">−0.08</text>
<line x1="462" y1="851.1" x2="466.3" y2="851.1" stroke="#000" stroke-width="1.1"/>
<text transform="translate(470.55,856.4) scale(1.02,1)" font-family='"DejaVu Serif", "Liberation Serif", serif' font-weight="700" font-style="normal" font-size="14.6" text-anchor="start" fill="#000">−0.10</text>
<line x1="462" y1="885.4" x2="466.3" y2="885.4" stroke="#000" stroke-width="1.1"/>
<text transform="translate(470.55,890.7) scale(1.02,1)" font-family='"DejaVu Serif", "Liberation Serif", serif' font-weight="700" font-style="normal" font-size="14.6" text-anchor="start" fill="#000">−0.12</text>
<line x1="462" y1="919.5" x2="466.3" y2="919.5" stroke="#000" stroke-width="1.1"/>
<text transform="translate(470.55,924.8) scale(1.02,1)" font-family='"DejaVu Serif", "Liberation Serif", serif' font-weight="700" font-style="normal" font-size="14.6" text-anchor="start" fill="#000">−0.14</text>
<line x1="462" y1="953.8" x2="466.3" y2="953.8" stroke="#000" stroke-width="1.1"/>
<text transform="translate(470.55,959.1) scale(1.02,1)" font-family='"DejaVu Serif", "Liberation Serif", serif' font-weight="700" font-style="normal" font-size="14.6" text-anchor="start" fill="#000">−0.16</text>
<text transform="translate(538.9,847.8) scale(1.07,1) rotate(-90)" font-family='"DejaVu Sans", "Liberation Sans", sans-serif' font-weight="400" font-style="italic" font-size="17.2" text-anchor="middle" fill="#1a1a1a"><tspan font-style="normal">[</tspan>V<tspan font-style="normal">]</tspan></text>
</g>
<g id="hm2">
<rect x="614" y="711.5" width="1" height="272" fill="url(#g2_0)" shape-rendering="crispEdges"/>
<rect x="615" y="711.5" width="1" height="272" fill="url(#g2_1)" shape-rendering="crispEdges"/>
<rect x="616" y="711.5" width="1" height="272" fill="url(#g2_2)" shape-rendering="crispEdges"/>
<rect x="617" y="711.5" width="1" height="272" fill="url(#g2_3)" shape-rendering="crispEdges"/>
<rect x="618" y="711.5" width="1" height="272" fill="url(#g2_4)" shape-rendering="crispEdges"/>
<rect x="619" y="711.5" width="1" height="272" fill="url(#g2_5)" shape-rendering="crispEdges"/>
<rect x="620" y="711.5" width="1" height="272" fill="url(#g2_6)" shape-rendering="crispEdges"/>
<rect x="621" y="711.5" width="1" height="272" fill="url(#g2_7)" shape-rendering="crispEdges"/>
<rect x="622" y="711.5" width="1" height="272" fill="url(#g2_8)" shape-rendering="crispEdges"/>
<rect x="623" y="711.5" width="1" height="272" fill="url(#g2_9)" shape-rendering="crispEdges"/>
<rect x="624" y="711.5" width="1" height="272" fill="url(#g2_10)" shape-rendering="crispEdges"/>
<rect x="625" y="711.5" width="1" height="272" fill="url(#g2_11)" shape-rendering="crispEdges"/>
<rect x="626" y="711.5" width="1" height="272" fill="url(#g2_12)" shape-rendering="crispEdges"/>
<rect x="627" y="711.5" width="1" height="272" fill="url(#g2_13)" shape-rendering="crispEdges"/>
<rect x="628" y="711.5" width="1" height="272" fill="url(#g2_14)" shape-rendering="crispEdges"/>
<rect x="629" y="711.5" width="1" height="272" fill="url(#g2_15)" shape-rendering="crispEdges"/>
<rect x="630" y="711.5" width="1" height="272" fill="url(#g2_16)" shape-rendering="crispEdges"/>
<rect x="631" y="711.5" width="1" height="272" fill="url(#g2_17)" shape-rendering="crispEdges"/>
<rect x="632" y="711.5" width="1" height="272" fill="url(#g2_18)" shape-rendering="crispEdges"/>
<rect x="633" y="711.5" width="1" height="272" fill="url(#g2_19)" shape-rendering="crispEdges"/>
<rect x="634" y="711.5" width="1" height="272" fill="url(#g2_20)" shape-rendering="crispEdges"/>
<rect x="635" y="711.5" width="1" height="272" fill="url(#g2_21)" shape-rendering="crispEdges"/>
<rect x="636" y="711.5" width="1" height="272" fill="url(#g2_22)" shape-rendering="crispEdges"/>
<rect x="637" y="711.5" width="1" height="272" fill="url(#g2_23)" shape-rendering="crispEdges"/>
<rect x="638" y="711.5" width="1" height="272" fill="url(#g2_24)" shape-rendering="crispEdges"/>
<rect x="639" y="711.5" width="1" height="272" fill="url(#g2_25)" shape-rendering="crispEdges"/>
<rect x="640" y="711.5" width="1" height="272" fill="url(#g2_26)" shape-rendering="crispEdges"/>
<rect x="641" y="711.5" width="1" height="272" fill="url(#g2_27)" shape-rendering="crispEdges"/>
<rect x="642" y="711.5" width="1" height="272" fill="url(#g2_28)" shape-rendering="crispEdges"/>
<rect x="643" y="711.5" width="1" height="272" fill="url(#g2_29)" shape-rendering="crispEdges"/>
<rect x="644" y="711.5" width="1" height="272" fill="url(#g2_30)" shape-rendering="crispEdges"/>
<rect x="645" y="711.5" width="1" height="272" fill="url(#g2_31)" shape-rendering="crispEdges"/>
<rect x="646" y="711.5" width="1" height="272" fill="url(#g2_32)" shape-rendering="crispEdges"/>
<rect x="647" y="711.5" width="1" height="272" fill="url(#g2_33)" shape-rendering="crispEdges"/>
<rect x="648" y="711.5" width="1" height="272" fill="url(#g2_34)" shape-rendering="crispEdges"/>
<rect x="649" y="711.5" width="1" height="272" fill="url(#g2_35)" shape-rendering="crispEdges"/>
<rect x="650" y="711.5" width="1" height="272" fill="url(#g2_36)" shape-rendering="crispEdges"/>
<rect x="651" y="711.5" width="1" height="272" fill="url(#g2_37)" shape-rendering="crispEdges"/>
<rect x="652" y="711.5" width="1" height="272" fill="url(#g2_38)" shape-rendering="crispEdges"/>
<rect x="653" y="711.5" width="1" height="272" fill="url(#g2_39)" shape-rendering="crispEdges"/>
<rect x="654" y="711.5" width="1" height="272" fill="url(#g2_40)" shape-rendering="crispEdges"/>
<rect x="655" y="711.5" width="1" height="272" fill="url(#g2_41)" shape-rendering="crispEdges"/>
<rect x="656" y="711.5" width="1" height="272" fill="url(#g2_42)" shape-rendering="crispEdges"/>
<rect x="657" y="711.5" width="1" height="272" fill="url(#g2_43)" shape-rendering="crispEdges"/>
<rect x="658" y="711.5" width="1" height="272" fill="url(#g2_44)" shape-rendering="crispEdges"/>
<rect x="659" y="711.5" width="1" height="272" fill="url(#g2_45)" shape-rendering="crispEdges"/>
<rect x="660" y="711.5" width="1" height="272" fill="url(#g2_46)" shape-rendering="crispEdges"/>
<rect x="661" y="711.5" width="1" height="272" fill="url(#g2_47)" shape-rendering="crispEdges"/>
<rect x="662" y="711.5" width="1" height="272" fill="url(#g2_48)" shape-rendering="crispEdges"/>
<rect x="663" y="711.5" width="1" height="272" fill="url(#g2_49)" shape-rendering="crispEdges"/>
<rect x="664" y="711.5" width="1" height="272" fill="url(#g2_50)" shape-rendering="crispEdges"/>
<rect x="665" y="711.5" width="1" height="272" fill="url(#g2_51)" shape-rendering="crispEdges"/>
<rect x="666" y="711.5" width="1" height="272" fill="url(#g2_52)" shape-rendering="crispEdges"/>
<rect x="667" y="711.5" width="1" height="272" fill="url(#g2_53)" shape-rendering="crispEdges"/>
<rect x="668" y="711.5" width="1" height="272" fill="url(#g2_54)" shape-rendering="crispEdges"/>
<rect x="669" y="711.5" width="1" height="272" fill="url(#g2_55)" shape-rendering="crispEdges"/>
<rect x="670" y="711.5" width="1" height="272" fill="url(#g2_56)" shape-rendering="crispEdges"/>
<rect x="671" y="711.5" width="1" height="272" fill="url(#g2_57)" shape-rendering="crispEdges"/>
<rect x="672" y="711.5" width="1" height="272" fill="url(#g2_58)" shape-rendering="crispEdges"/>
<rect x="673" y="711.5" width="1" height="272" fill="url(#g2_59)" shape-rendering="crispEdges"/>
<rect x="674" y="711.5" width="1" height="272" fill="url(#g2_60)" shape-rendering="crispEdges"/>
<rect x="675" y="711.5" width="1" height="272" fill="url(#g2_61)" shape-rendering="crispEdges"/>
<rect x="676" y="711.5" width="1" height="272" fill="url(#g2_62)" shape-rendering="crispEdges"/>
<rect x="677" y="711.5" width="1" height="272" fill="url(#g2_63)" shape-rendering="crispEdges"/>
<rect x="678" y="711.5" width="1" height="272" fill="url(#g2_64)" shape-rendering="crispEdges"/>
<rect x="679" y="711.5" width="1" height="272" fill="url(#g2_65)" shape-rendering="crispEdges"/>
<rect x="680" y="711.5" width="1" height="272" fill="url(#g2_66)" shape-rendering="crispEdges"/>
<rect x="681" y="711.5" width="1" height="272" fill="url(#g2_67)" shape-rendering="crispEdges"/>
<rect x="682" y="711.5" width="1" height="272" fill="url(#g2_68)" shape-rendering="crispEdges"/>
<rect x="683" y="711.5" width="1" height="272" fill="url(#g2_69)" shape-rendering="crispEdges"/>
<rect x="684" y="711.5" width="1" height="272" fill="url(#g2_70)" shape-rendering="crispEdges"/>
<rect x="685" y="711.5" width="1" height="272" fill="url(#g2_71)" shape-rendering="crispEdges"/>
<rect x="686" y="711.5" width="1" height="272" fill="url(#g2_72)" shape-rendering="crispEdges"/>
<rect x="687" y="711.5" width="1" height="272" fill="url(#g2_73)" shape-rendering="crispEdges"/>
<rect x="688" y="711.5" width="1" height="272" fill="url(#g2_74)" shape-rendering="crispEdges"/>
<rect x="689" y="711.5" width="1" height="272" fill="url(#g2_75)" shape-rendering="crispEdges"/>
<rect x="690" y="711.5" width="1" height="272" fill="url(#g2_76)" shape-rendering="crispEdges"/>
<rect x="691" y="711.5" width="1" height="272" fill="url(#g2_77)" shape-rendering="crispEdges"/>
<rect x="692" y="711.5" width="1" height="272" fill="url(#g2_78)" shape-rendering="crispEdges"/>
<rect x="693" y="711.5" width="1" height="272" fill="url(#g2_79)" shape-rendering="crispEdges"/>
<rect x="694" y="711.5" width="1" height="272" fill="url(#g2_80)" shape-rendering="crispEdges"/>
<rect x="695" y="711.5" width="1" height="272" fill="url(#g2_81)" shape-rendering="crispEdges"/>
<rect x="696" y="711.5" width="1" height="272" fill="url(#g2_82)" shape-rendering="crispEdges"/>
<rect x="697" y="711.5" width="1" height="272" fill="url(#g2_83)" shape-rendering="crispEdges"/>
<rect x="698" y="711.5" width="1" height="272" fill="url(#g2_84)" shape-rendering="crispEdges"/>
<rect x="699" y="711.5" width="1" height="272" fill="url(#g2_85)" shape-rendering="crispEdges"/>
<rect x="700" y="711.5" width="1" height="272" fill="url(#g2_86)" shape-rendering="crispEdges"/>
<rect x="701" y="711.5" width="1" height="272" fill="url(#g2_87)" shape-rendering="crispEdges"/>
<rect x="702" y="711.5" width="1" height="272" fill="url(#g2_88)" shape-rendering="crispEdges"/>
<rect x="703" y="711.5" width="1" height="272" fill="url(#g2_89)" shape-rendering="crispEdges"/>
<rect x="704" y="711.5" width="1" height="272" fill="url(#g2_90)" shape-rendering="crispEdges"/>
<rect x="705" y="711.5" width="1" height="272" fill="url(#g2_91)" shape-rendering="crispEdges"/>
<rect x="706" y="711.5" width="1" height="272" fill="url(#g2_92)" shape-rendering="crispEdges"/>
<line x1="609.3" y1="711.6" x2="612.9" y2="711.6" stroke="#000" stroke-width="1.1"/>
<text transform="translate(603.7,715.1) scale(1.05,1)" font-family='"Liberation Serif", serif' font-weight="700" font-style="normal" font-size="13.8" text-anchor="end" fill="#000" stroke="#000" stroke-width="0.16">0</text>
<line x1="614.1" y1="745.6" x2="704.7" y2="745.6" stroke="#000" stroke-opacity="0.8" stroke-width="0.95"/>
<line x1="609.3" y1="745.6" x2="612.9" y2="745.6" stroke="#000" stroke-width="1.1"/>
<text transform="translate(603.7,749.1) scale(1.05,1)" font-family='"Liberation Serif", serif' font-weight="700" font-style="normal" font-size="13.8" text-anchor="end" fill="#000" stroke="#000" stroke-width="0.16">1000</text>
<line x1="614.1" y1="779.1" x2="704.7" y2="779.1" stroke="#000" stroke-opacity="0.8" stroke-width="0.95"/>
<line x1="609.3" y1="779.1" x2="612.9" y2="779.1" stroke="#000" stroke-width="1.1"/>
<text transform="translate(603.7,782.6) scale(1.05,1)" font-family='"Liberation Serif", serif' font-weight="700" font-style="normal" font-size="13.8" text-anchor="end" fill="#000" stroke="#000" stroke-width="0.16">2000</text>
<line x1="614.1" y1="812.5" x2="704.7" y2="812.5" stroke="#000" stroke-opacity="0.8" stroke-width="0.95"/>
<line x1="609.3" y1="812.5" x2="612.9" y2="812.5" stroke="#000" stroke-width="1.1"/>
<text transform="translate(603.7,816) scale(1.05,1)" font-family='"Liberation Serif", serif' font-weight="700" font-style="normal" font-size="13.8" text-anchor="end" fill="#000" stroke="#000" stroke-width="0.16">3000</text>
<line x1="614.1" y1="846.1" x2="704.7" y2="846.1" stroke="#000" stroke-opacity="0.8" stroke-width="0.95"/>
<line x1="609.3" y1="846.1" x2="612.9" y2="846.1" stroke="#000" stroke-width="1.1"/>
<text transform="translate(603.7,849.6) scale(1.05,1)" font-family='"Liberation Serif", serif' font-weight="700" font-style="normal" font-size="13.8" text-anchor="end" fill="#000" stroke="#000" stroke-width="0.16">4000</text>
<line x1="614.1" y1="879.4" x2="704.7" y2="879.4" stroke="#000" stroke-opacity="0.8" stroke-width="0.95"/>
<line x1="609.3" y1="879.4" x2="612.9" y2="879.4" stroke="#000" stroke-width="1.1"/>
<text transform="translate(603.7,882.9) scale(1.05,1)" font-family='"Liberation Serif", serif' font-weight="700" font-style="normal" font-size="13.8" text-anchor="end" fill="#000" stroke="#000" stroke-width="0.16">5000</text>
<line x1="614.1" y1="912.8" x2="704.7" y2="912.8" stroke="#000" stroke-opacity="0.8" stroke-width="0.95"/>
<line x1="609.3" y1="912.8" x2="612.9" y2="912.8" stroke="#000" stroke-width="1.1"/>
<text transform="translate(603.7,916.3) scale(1.05,1)" font-family='"Liberation Serif", serif' font-weight="700" font-style="normal" font-size="13.8" text-anchor="end" fill="#000" stroke="#000" stroke-width="0.16">6000</text>
<line x1="614.1" y1="946.4" x2="704.7" y2="946.4" stroke="#000" stroke-opacity="0.8" stroke-width="0.95"/>
<line x1="609.3" y1="946.4" x2="612.9" y2="946.4" stroke="#000" stroke-width="1.1"/>
<text transform="translate(603.7,949.9) scale(1.05,1)" font-family='"Liberation Serif", serif' font-weight="700" font-style="normal" font-size="13.8" text-anchor="end" fill="#000" stroke="#000" stroke-width="0.16">7000</text>
<line x1="614.1" y1="979.9" x2="704.7" y2="979.9" stroke="#000" stroke-opacity="0.8" stroke-width="0.95"/>
<line x1="609.3" y1="979.9" x2="612.9" y2="979.9" stroke="#000" stroke-width="1.1"/>
<text transform="translate(603.7,983.4) scale(1.05,1)" font-family='"Liberation Serif", serif' font-weight="700" font-style="normal" font-size="13.8" text-anchor="end" fill="#000" stroke="#000" stroke-width="0.16">8000</text>
<path d="M612.9 711.5H708.1M612.9 983.5H708.1" stroke="#000" stroke-width="2.4" fill="none"/>
<path d="M614.25 710.3V984.7M706.75 710.3V984.7" stroke="#000" stroke-width="2.7" fill="none"/>
<text transform="translate(660.5,996.8) scale(1.07,1)" font-family='"Liberation Serif", serif' font-weight="700" font-style="normal" font-size="14.0" text-anchor="middle" fill="#000" stroke="#000" stroke-width="0.15">x</text>
<text transform="translate(567.7,848) scale(1.12,1) rotate(-90)" font-family='"Liberation Serif", serif' font-weight="700" font-style="normal" font-size="14.5" text-anchor="middle" fill="#000" stroke="#000" stroke-width="0.15">t [s]</text>
<text transform="translate(660.5,704.2) scale(1.04,1)" font-family='"DejaVu Sans", "Liberation Sans", sans-serif' font-weight="400" font-style="italic" font-size="14.3" text-anchor="middle" fill="#1a1a1a">ϕ<tspan font-size="10.4" dy="1.7" font-style="italic">s,</tspan><tspan font-size="10.4" dx="1.6" font-style="italic">an</tspan></text>
<rect x="724.25" y="711.3" width="10.2" height="272.1" fill="url(#cb)" stroke="#000" stroke-width="0.9"/>
<line x1="734.9" y1="711.5" x2="739.2" y2="711.5" stroke="#000" stroke-width="1.1"/>
<text transform="translate(741.85,716.8) scale(1.02,1)" font-family='"DejaVu Serif", "Liberation Serif", serif' font-weight="700" font-style="normal" font-size="14.6" text-anchor="start" fill="#000">0</text>
<line x1="734.9" y1="747.4" x2="739.2" y2="747.4" stroke="#000" stroke-width="1.1"/>
<text transform="translate(741.85,752.7) scale(1.02,1)" font-family='"DejaVu Serif", "Liberation Serif", serif' font-weight="700" font-style="normal" font-size="14.6" text-anchor="start" fill="#000">−1</text>
<line x1="734.9" y1="782.6" x2="739.2" y2="782.6" stroke="#000" stroke-width="1.1"/>
<text transform="translate(741.85,787.9) scale(1.02,1)" font-family='"DejaVu Serif", "Liberation Serif", serif' font-weight="700" font-style="normal" font-size="14.6" text-anchor="start" fill="#000">−2</text>
<line x1="734.9" y1="817.4" x2="739.2" y2="817.4" stroke="#000" stroke-width="1.1"/>
<text transform="translate(741.85,822.7) scale(1.02,1)" font-family='"DejaVu Serif", "Liberation Serif", serif' font-weight="700" font-style="normal" font-size="14.6" text-anchor="start" fill="#000">−3</text>
<line x1="734.9" y1="852.3" x2="739.2" y2="852.3" stroke="#000" stroke-width="1.1"/>
<text transform="translate(741.85,857.6) scale(1.02,1)" font-family='"DejaVu Serif", "Liberation Serif", serif' font-weight="700" font-style="normal" font-size="14.6" text-anchor="start" fill="#000">−4</text>
<line x1="734.9" y1="888.1" x2="739.2" y2="888.1" stroke="#000" stroke-width="1.1"/>
<text transform="translate(741.85,893.4) scale(1.02,1)" font-family='"DejaVu Serif", "Liberation Serif", serif' font-weight="700" font-style="normal" font-size="14.6" text-anchor="start" fill="#000">−5</text>
<line x1="734.9" y1="923.2" x2="739.2" y2="923.2" stroke="#000" stroke-width="1.1"/>
<text transform="translate(741.85,928.5) scale(1.02,1)" font-family='"DejaVu Serif", "Liberation Serif", serif' font-weight="700" font-style="normal" font-size="14.6" text-anchor="start" fill="#000">−6</text>
<line x1="734.9" y1="958.2" x2="739.2" y2="958.2" stroke="#000" stroke-width="1.1"/>
<text transform="translate(741.85,963.5) scale(1.02,1)" font-family='"DejaVu Serif", "Liberation Serif", serif' font-weight="700" font-style="normal" font-size="14.6" text-anchor="start" fill="#000">−7</text>
<text transform="translate(785.4,847.8) scale(1.07,1) rotate(-90)" font-family='"DejaVu Sans", "Liberation Sans", sans-serif' font-weight="400" font-style="italic" font-size="17.2" text-anchor="middle" fill="#1a1a1a"><tspan font-style="normal">[</tspan>V<tspan font-style="normal">]</tspan></text>
<text transform="translate(732.4,707.3) scale(1.07,1)" font-family='"DejaVu Sans", "Liberation Sans", sans-serif' font-weight="400" font-style="normal" font-size="11.3" text-anchor="end" fill="#1a1a1a">1e−5</text>
</g>
<g id="hm3">
<rect x="885.7" y="711.5" width="92.8" height="272" fill="url(#g3)"/>
<line x1="880.9" y1="711.6" x2="884.5" y2="711.6" stroke="#000" stroke-width="1.1"/>
<text transform="translate(875.3,715.1) scale(1.05,1)" font-family='"Liberation Serif", serif' font-weight="700" font-style="normal" font-size="13.8" text-anchor="end" fill="#000" stroke="#000" stroke-width="0.16">0</text>
<line x1="885.7" y1="745.6" x2="976.3" y2="745.6" stroke="#000" stroke-opacity="0.8" stroke-width="0.95"/>
<line x1="880.9" y1="745.6" x2="884.5" y2="745.6" stroke="#000" stroke-width="1.1"/>
<text transform="translate(875.3,749.1) scale(1.05,1)" font-family='"Liberation Serif", serif' font-weight="700" font-style="normal" font-size="13.8" text-anchor="end" fill="#000" stroke="#000" stroke-width="0.16">1000</text>
<line x1="885.7" y1="779.1" x2="976.3" y2="779.1" stroke="#000" stroke-opacity="0.8" stroke-width="0.95"/>
<line x1="880.9" y1="779.1" x2="884.5" y2="779.1" stroke="#000" stroke-width="1.1"/>
<text transform="translate(875.3,782.6) scale(1.05,1)" font-family='"Liberation Serif", serif' font-weight="700" font-style="normal" font-size="13.8" text-anchor="end" fill="#000" stroke="#000" stroke-width="0.16">2000</text>
<line x1="885.7" y1="812.5" x2="976.3" y2="812.5" stroke="#000" stroke-opacity="0.8" stroke-width="0.95"/>
<line x1="880.9" y1="812.5" x2="884.5" y2="812.5" stroke="#000" stroke-width="1.1"/>
<text transform="translate(875.3,816) scale(1.05,1)" font-family='"Liberation Serif", serif' font-weight="700" font-style="normal" font-size="13.8" text-anchor="end" fill="#000" stroke="#000" stroke-width="0.16">3000</text>
<line x1="885.7" y1="846.1" x2="976.3" y2="846.1" stroke="#000" stroke-opacity="0.8" stroke-width="0.95"/>
<line x1="880.9" y1="846.1" x2="884.5" y2="846.1" stroke="#000" stroke-width="1.1"/>
<text transform="translate(875.3,849.6) scale(1.05,1)" font-family='"Liberation Serif", serif' font-weight="700" font-style="normal" font-size="13.8" text-anchor="end" fill="#000" stroke="#000" stroke-width="0.16">4000</text>
<line x1="885.7" y1="879.4" x2="976.3" y2="879.4" stroke="#000" stroke-opacity="0.8" stroke-width="0.95"/>
<line x1="880.9" y1="879.4" x2="884.5" y2="879.4" stroke="#000" stroke-width="1.1"/>
<text transform="translate(875.3,882.9) scale(1.05,1)" font-family='"Liberation Serif", serif' font-weight="700" font-style="normal" font-size="13.8" text-anchor="end" fill="#000" stroke="#000" stroke-width="0.16">5000</text>
<line x1="885.7" y1="912.8" x2="976.3" y2="912.8" stroke="#000" stroke-opacity="0.8" stroke-width="0.95"/>
<line x1="880.9" y1="912.8" x2="884.5" y2="912.8" stroke="#000" stroke-width="1.1"/>
<text transform="translate(875.3,916.3) scale(1.05,1)" font-family='"Liberation Serif", serif' font-weight="700" font-style="normal" font-size="13.8" text-anchor="end" fill="#000" stroke="#000" stroke-width="0.16">6000</text>
<line x1="885.7" y1="946.4" x2="976.3" y2="946.4" stroke="#000" stroke-opacity="0.8" stroke-width="0.95"/>
<line x1="880.9" y1="946.4" x2="884.5" y2="946.4" stroke="#000" stroke-width="1.1"/>
<text transform="translate(875.3,949.9) scale(1.05,1)" font-family='"Liberation Serif", serif' font-weight="700" font-style="normal" font-size="13.8" text-anchor="end" fill="#000" stroke="#000" stroke-width="0.16">7000</text>
<line x1="885.7" y1="979.9" x2="976.3" y2="979.9" stroke="#000" stroke-opacity="0.8" stroke-width="0.95"/>
<line x1="880.9" y1="979.9" x2="884.5" y2="979.9" stroke="#000" stroke-width="1.1"/>
<text transform="translate(875.3,983.4) scale(1.05,1)" font-family='"Liberation Serif", serif' font-weight="700" font-style="normal" font-size="13.8" text-anchor="end" fill="#000" stroke="#000" stroke-width="0.16">8000</text>
<path d="M884.5 711.5H979.7M884.5 983.5H979.7" stroke="#000" stroke-width="2.4" fill="none"/>
<path d="M885.85 710.3V984.7M978.35 710.3V984.7" stroke="#000" stroke-width="2.7" fill="none"/>
<text transform="translate(932.1,996.8) scale(1.07,1)" font-family='"Liberation Serif", serif' font-weight="700" font-style="normal" font-size="14.0" text-anchor="middle" fill="#000" stroke="#000" stroke-width="0.15">x</text>
<text transform="translate(839.3,848) scale(1.12,1) rotate(-90)" font-family='"Liberation Serif", serif' font-weight="700" font-style="normal" font-size="14.5" text-anchor="middle" fill="#000" stroke="#000" stroke-width="0.15">t [s]</text>
<text transform="translate(932.1,704.2) scale(1.04,1)" font-family='"DejaVu Sans", "Liberation Sans", sans-serif' font-weight="400" font-style="italic" font-size="14.3" text-anchor="middle" fill="#1a1a1a">ϕ<tspan font-size="10.4" dy="1.7" font-style="italic">s,</tspan><tspan font-size="10.4" dx="1.6" font-style="italic">ca</tspan></text>
<rect x="995.85" y="711.3" width="9.9" height="272.1" fill="url(#cb)" stroke="#000" stroke-width="0.9"/>
<line x1="1006.2" y1="723.4" x2="1010.5" y2="723.4" stroke="#000" stroke-width="1.1"/>
<text transform="translate(1013.55,728.7) scale(1.02,1)" font-family='"DejaVu Serif", "Liberation Serif", serif' font-weight="700" font-style="normal" font-size="14.6" text-anchor="start" fill="#000">4.4</text>
<line x1="1006.2" y1="753.7" x2="1010.5" y2="753.7" stroke="#000" stroke-width="1.1"/>
<text transform="translate(1013.55,759) scale(1.02,1)" font-family='"DejaVu Serif", "Liberation Serif", serif' font-weight="700" font-style="normal" font-size="14.6" text-anchor="start" fill="#000">4.3</text>
<line x1="1006.2" y1="784.6" x2="1010.5" y2="784.6" stroke="#000" stroke-width="1.1"/>
<text transform="translate(1013.55,789.9) scale(1.02,1)" font-family='"DejaVu Serif", "Liberation Serif", serif' font-weight="700" font-style="normal" font-size="14.6" text-anchor="start" fill="#000">4.2</text>
<line x1="1006.2" y1="815.4" x2="1010.5" y2="815.4" stroke="#000" stroke-width="1.1"/>
<text transform="translate(1013.55,820.7) scale(1.02,1)" font-family='"DejaVu Serif", "Liberation Serif", serif' font-weight="700" font-style="normal" font-size="14.6" text-anchor="start" fill="#000">4.1</text>
<line x1="1006.2" y1="846.5" x2="1010.5" y2="846.5" stroke="#000" stroke-width="1.1"/>
<text transform="translate(1013.55,851.8) scale(1.02,1)" font-family='"DejaVu Serif", "Liberation Serif", serif' font-weight="700" font-style="normal" font-size="14.6" text-anchor="start" fill="#000">4.0</text>
<line x1="1006.2" y1="877.3" x2="1010.5" y2="877.3" stroke="#000" stroke-width="1.1"/>
<text transform="translate(1013.55,882.6) scale(1.02,1)" font-family='"DejaVu Serif", "Liberation Serif", serif' font-weight="700" font-style="normal" font-size="14.6" text-anchor="start" fill="#000">3.9</text>
<line x1="1006.2" y1="907.9" x2="1010.5" y2="907.9" stroke="#000" stroke-width="1.1"/>
<text transform="translate(1013.55,913.2) scale(1.02,1)" font-family='"DejaVu Serif", "Liberation Serif", serif' font-weight="700" font-style="normal" font-size="14.6" text-anchor="start" fill="#000">3.8</text>
<line x1="1006.2" y1="938.4" x2="1010.5" y2="938.4" stroke="#000" stroke-width="1.1"/>
<text transform="translate(1013.55,943.7) scale(1.02,1)" font-family='"DejaVu Serif", "Liberation Serif", serif' font-weight="700" font-style="normal" font-size="14.6" text-anchor="start" fill="#000">3.7</text>
<line x1="1006.2" y1="969.8" x2="1010.5" y2="969.8" stroke="#000" stroke-width="1.1"/>
<text transform="translate(1013.55,975.1) scale(1.02,1)" font-family='"DejaVu Serif", "Liberation Serif", serif' font-weight="700" font-style="normal" font-size="14.6" text-anchor="start" fill="#000">3.6</text>
<text transform="translate(1060.4,847.8) scale(1.07,1) rotate(-90)" font-family='"DejaVu Sans", "Liberation Sans", sans-serif' font-weight="400" font-style="italic" font-size="17.2" text-anchor="middle" fill="#1a1a1a"><tspan font-style="normal">[</tspan>V<tspan font-style="normal">]</tspan></text>
</g>
<g id="hm4">
<rect x="1158.4" y="711.5" width="92.6" height="272" fill="url(#g4)"/>
<line x1="1153.6" y1="711.6" x2="1157.2" y2="711.6" stroke="#000" stroke-width="1.1"/>
<text transform="translate(1148,715.1) scale(1.05,1)" font-family='"Liberation Serif", serif' font-weight="700" font-style="normal" font-size="13.8" text-anchor="end" fill="#000" stroke="#000" stroke-width="0.16">0</text>
<line x1="1158.4" y1="745.6" x2="1248.8" y2="745.6" stroke="#000" stroke-opacity="0.8" stroke-width="0.95"/>
<line x1="1153.6" y1="745.6" x2="1157.2" y2="745.6" stroke="#000" stroke-width="1.1"/>
<text transform="translate(1148,749.1) scale(1.05,1)" font-family='"Liberation Serif", serif' font-weight="700" font-style="normal" font-size="13.8" text-anchor="end" fill="#000" stroke="#000" stroke-width="0.16">1000</text>
<line x1="1158.4" y1="779.1" x2="1248.8" y2="779.1" stroke="#000" stroke-opacity="0.8" stroke-width="0.95"/>
<line x1="1153.6" y1="779.1" x2="1157.2" y2="779.1" stroke="#000" stroke-width="1.1"/>
<text transform="translate(1148,782.6) scale(1.05,1)" font-family='"Liberation Serif", serif' font-weight="700" font-style="normal" font-size="13.8" text-anchor="end" fill="#000" stroke="#000" stroke-width="0.16">2000</text>
<line x1="1158.4" y1="812.5" x2="1248.8" y2="812.5" stroke="#000" stroke-opacity="0.8" stroke-width="0.95"/>
<line x1="1153.6" y1="812.5" x2="1157.2" y2="812.5" stroke="#000" stroke-width="1.1"/>
<text transform="translate(1148,816) scale(1.05,1)" font-family='"Liberation Serif", serif' font-weight="700" font-style="normal" font-size="13.8" text-anchor="end" fill="#000" stroke="#000" stroke-width="0.16">3000</text>
<line x1="1158.4" y1="846.1" x2="1248.8" y2="846.1" stroke="#000" stroke-opacity="0.8" stroke-width="0.95"/>
<line x1="1153.6" y1="846.1" x2="1157.2" y2="846.1" stroke="#000" stroke-width="1.1"/>
<text transform="translate(1148,849.6) scale(1.05,1)" font-family='"Liberation Serif", serif' font-weight="700" font-style="normal" font-size="13.8" text-anchor="end" fill="#000" stroke="#000" stroke-width="0.16">4000</text>
<line x1="1158.4" y1="879.4" x2="1248.8" y2="879.4" stroke="#000" stroke-opacity="0.8" stroke-width="0.95"/>
<line x1="1153.6" y1="879.4" x2="1157.2" y2="879.4" stroke="#000" stroke-width="1.1"/>
<text transform="translate(1148,882.9) scale(1.05,1)" font-family='"Liberation Serif", serif' font-weight="700" font-style="normal" font-size="13.8" text-anchor="end" fill="#000" stroke="#000" stroke-width="0.16">5000</text>
<line x1="1158.4" y1="912.8" x2="1248.8" y2="912.8" stroke="#000" stroke-opacity="0.8" stroke-width="0.95"/>
<line x1="1153.6" y1="912.8" x2="1157.2" y2="912.8" stroke="#000" stroke-width="1.1"/>
<text transform="translate(1148,916.3) scale(1.05,1)" font-family='"Liberation Serif", serif' font-weight="700" font-style="normal" font-size="13.8" text-anchor="end" fill="#000" stroke="#000" stroke-width="0.16">6000</text>
<line x1="1158.4" y1="946.4" x2="1248.8" y2="946.4" stroke="#000" stroke-opacity="0.8" stroke-width="0.95"/>
<line x1="1153.6" y1="946.4" x2="1157.2" y2="946.4" stroke="#000" stroke-width="1.1"/>
<text transform="translate(1148,949.9) scale(1.05,1)" font-family='"Liberation Serif", serif' font-weight="700" font-style="normal" font-size="13.8" text-anchor="end" fill="#000" stroke="#000" stroke-width="0.16">7000</text>
<line x1="1158.4" y1="979.9" x2="1248.8" y2="979.9" stroke="#000" stroke-opacity="0.8" stroke-width="0.95"/>
<line x1="1153.6" y1="979.9" x2="1157.2" y2="979.9" stroke="#000" stroke-width="1.1"/>
<text transform="translate(1148,983.4) scale(1.05,1)" font-family='"Liberation Serif", serif' font-weight="700" font-style="normal" font-size="13.8" text-anchor="end" fill="#000" stroke="#000" stroke-width="0.16">8000</text>
<path d="M1157.2 711.5H1252.2M1157.2 983.5H1252.2" stroke="#000" stroke-width="2.4" fill="none"/>
<path d="M1158.55 710.3V984.7M1250.85 710.3V984.7" stroke="#000" stroke-width="2.7" fill="none"/>
<text transform="translate(1204.7,996.8) scale(1.07,1)" font-family='"Liberation Serif", serif' font-weight="700" font-style="normal" font-size="14.0" text-anchor="middle" fill="#000" stroke="#000" stroke-width="0.15">x</text>
<text transform="translate(1112,848) scale(1.12,1) rotate(-90)" font-family='"Liberation Serif", serif' font-weight="700" font-style="normal" font-size="14.5" text-anchor="middle" fill="#000" stroke="#000" stroke-width="0.15">t [s]</text>
<text transform="translate(1204.7,704.2) scale(1.04,1)" font-family='"DejaVu Sans", "Liberation Sans", sans-serif' font-weight="400" font-style="italic" font-size="14.3" text-anchor="middle" fill="#1a1a1a">c<tspan font-size="10.4" dy="1.7" font-style="italic">s,</tspan><tspan font-size="10.4" dx="1.6" font-style="italic">an</tspan></text>
<rect x="1268.85" y="711.3" width="8.7" height="272.1" fill="url(#cb)" stroke="#000" stroke-width="0.9"/>
<line x1="1278" y1="738.3" x2="1282.3" y2="738.3" stroke="#000" stroke-width="1.1"/>
<text transform="translate(1285.85,743.6) scale(1.02,1)" font-family='"DejaVu Serif", "Liberation Serif", serif' font-weight="700" font-style="normal" font-size="14.6" text-anchor="start" fill="#000">25</text>
<line x1="1278" y1="797.5" x2="1282.3" y2="797.5" stroke="#000" stroke-width="1.1"/>
<text transform="translate(1285.85,802.8) scale(1.02,1)" font-family='"DejaVu Serif", "Liberation Serif", serif' font-weight="700" font-style="normal" font-size="14.6" text-anchor="start" fill="#000">20</text>
<line x1="1278" y1="856.1" x2="1282.3" y2="856.1" stroke="#000" stroke-width="1.1"/>
<text transform="translate(1285.85,861.4) scale(1.02,1)" font-family='"DejaVu Serif", "Liberation Serif", serif' font-weight="700" font-style="normal" font-size="14.6" text-anchor="start" fill="#000">15</text>
<line x1="1278" y1="915.2" x2="1282.3" y2="915.2" stroke="#000" stroke-width="1.1"/>
<text transform="translate(1285.85,920.5) scale(1.02,1)" font-family='"DejaVu Serif", "Liberation Serif", serif' font-weight="700" font-style="normal" font-size="14.6" text-anchor="start" fill="#000">10</text>
<line x1="1278" y1="973.6" x2="1282.3" y2="973.6" stroke="#000" stroke-width="1.1"/>
<text transform="translate(1285.85,978.9) scale(1.02,1)" font-family='"DejaVu Serif", "Liberation Serif", serif' font-weight="700" font-style="normal" font-size="14.6" text-anchor="start" fill="#000">5</text>
<text transform="translate(1328.9,847.8) scale(1.07,1) rotate(-90)" font-family='"DejaVu Sans", "Liberation Sans", sans-serif' font-weight="400" font-style="italic" font-size="17.2" text-anchor="middle" fill="#1a1a1a"><tspan font-style="normal">[</tspan>kmol/m<tspan font-style="normal" font-size="12.04" dy="-6.3">3</tspan><tspan font-style="normal" dy="6.3">]</tspan></text>
</g>
<g id="hm5">
<rect x="1430.4" y="711.5" width="92.3" height="272" fill="url(#g5)"/>
<line x1="1425.6" y1="711.6" x2="1429.2" y2="711.6" stroke="#000" stroke-width="1.1"/>
<text transform="translate(1420,715.1) scale(1.05,1)" font-family='"Liberation Serif", serif' font-weight="700" font-style="normal" font-size="13.8" text-anchor="end" fill="#000" stroke="#000" stroke-width="0.16">0</text>
<line x1="1430.4" y1="745.6" x2="1520.5" y2="745.6" stroke="#000" stroke-opacity="0.8" stroke-width="0.95"/>
<line x1="1425.6" y1="745.6" x2="1429.2" y2="745.6" stroke="#000" stroke-width="1.1"/>
<text transform="translate(1420,749.1) scale(1.05,1)" font-family='"Liberation Serif", serif' font-weight="700" font-style="normal" font-size="13.8" text-anchor="end" fill="#000" stroke="#000" stroke-width="0.16">1000</text>
<line x1="1430.4" y1="779.1" x2="1520.5" y2="779.1" stroke="#000" stroke-opacity="0.8" stroke-width="0.95"/>
<line x1="1425.6" y1="779.1" x2="1429.2" y2="779.1" stroke="#000" stroke-width="1.1"/>
<text transform="translate(1420,782.6) scale(1.05,1)" font-family='"Liberation Serif", serif' font-weight="700" font-style="normal" font-size="13.8" text-anchor="end" fill="#000" stroke="#000" stroke-width="0.16">2000</text>
<line x1="1430.4" y1="812.5" x2="1520.5" y2="812.5" stroke="#000" stroke-opacity="0.8" stroke-width="0.95"/>
<line x1="1425.6" y1="812.5" x2="1429.2" y2="812.5" stroke="#000" stroke-width="1.1"/>
<text transform="translate(1420,816) scale(1.05,1)" font-family='"Liberation Serif", serif' font-weight="700" font-style="normal" font-size="13.8" text-anchor="end" fill="#000" stroke="#000" stroke-width="0.16">3000</text>
<line x1="1430.4" y1="846.1" x2="1520.5" y2="846.1" stroke="#000" stroke-opacity="0.8" stroke-width="0.95"/>
<line x1="1425.6" y1="846.1" x2="1429.2" y2="846.1" stroke="#000" stroke-width="1.1"/>
<text transform="translate(1420,849.6) scale(1.05,1)" font-family='"Liberation Serif", serif' font-weight="700" font-style="normal" font-size="13.8" text-anchor="end" fill="#000" stroke="#000" stroke-width="0.16">4000</text>
<line x1="1430.4" y1="879.4" x2="1520.5" y2="879.4" stroke="#000" stroke-opacity="0.8" stroke-width="0.95"/>
<line x1="1425.6" y1="879.4" x2="1429.2" y2="879.4" stroke="#000" stroke-width="1.1"/>
<text transform="translate(1420,882.9) scale(1.05,1)" font-family='"Liberation Serif", serif' font-weight="700" font-style="normal" font-size="13.8" text-anchor="end" fill="#000" stroke="#000" stroke-width="0.16">5000</text>
<line x1="1430.4" y1="912.8" x2="1520.5" y2="912.8" stroke="#000" stroke-opacity="0.8" stroke-width="0.95"/>
<line x1="1425.6" y1="912.8" x2="1429.2" y2="912.8" stroke="#000" stroke-width="1.1"/>
<text transform="translate(1420,916.3) scale(1.05,1)" font-family='"Liberation Serif", serif' font-weight="700" font-style="normal" font-size="13.8" text-anchor="end" fill="#000" stroke="#000" stroke-width="0.16">6000</text>
<line x1="1430.4" y1="946.4" x2="1520.5" y2="946.4" stroke="#000" stroke-opacity="0.8" stroke-width="0.95"/>
<line x1="1425.6" y1="946.4" x2="1429.2" y2="946.4" stroke="#000" stroke-width="1.1"/>
<text transform="translate(1420,949.9) scale(1.05,1)" font-family='"Liberation Serif", serif' font-weight="700" font-style="normal" font-size="13.8" text-anchor="end" fill="#000" stroke="#000" stroke-width="0.16">7000</text>
<line x1="1430.4" y1="979.9" x2="1520.5" y2="979.9" stroke="#000" stroke-opacity="0.8" stroke-width="0.95"/>
<line x1="1425.6" y1="979.9" x2="1429.2" y2="979.9" stroke="#000" stroke-width="1.1"/>
<text transform="translate(1420,983.4) scale(1.05,1)" font-family='"Liberation Serif", serif' font-weight="700" font-style="normal" font-size="13.8" text-anchor="end" fill="#000" stroke="#000" stroke-width="0.16">8000</text>
<path d="M1429.2 711.5H1523.9M1429.2 983.5H1523.9" stroke="#000" stroke-width="2.4" fill="none"/>
<path d="M1430.55 710.3V984.7M1522.55 710.3V984.7" stroke="#000" stroke-width="2.7" fill="none"/>
<text transform="translate(1476.55,996.8) scale(1.07,1)" font-family='"Liberation Serif", serif' font-weight="700" font-style="normal" font-size="14.0" text-anchor="middle" fill="#000" stroke="#000" stroke-width="0.15">x</text>
<text transform="translate(1384,848) scale(1.12,1) rotate(-90)" font-family='"Liberation Serif", serif' font-weight="700" font-style="normal" font-size="14.5" text-anchor="middle" fill="#000" stroke="#000" stroke-width="0.15">t [s]</text>
<text transform="translate(1476.55,704.2) scale(1.04,1)" font-family='"DejaVu Sans", "Liberation Sans", sans-serif' font-weight="400" font-style="italic" font-size="14.3" text-anchor="middle" fill="#1a1a1a">c<tspan font-size="10.4" dy="1.7" font-style="italic">s,</tspan><tspan font-size="10.4" dx="1.6" font-style="italic">ca</tspan></text>
<rect x="1540.55" y="711.3" width="9.1" height="272.1" fill="url(#cb)" stroke="#000" stroke-width="0.9"/>
<line x1="1550.1" y1="763.6" x2="1554.4" y2="763.6" stroke="#000" stroke-width="1.1"/>
<text transform="translate(1557.55,768.9) scale(1.02,1)" font-family='"DejaVu Serif", "Liberation Serif", serif' font-weight="700" font-style="normal" font-size="14.6" text-anchor="start" fill="#000">40</text>
<line x1="1550.1" y1="816.6" x2="1554.4" y2="816.6" stroke="#000" stroke-width="1.1"/>
<text transform="translate(1557.55,821.9) scale(1.02,1)" font-family='"DejaVu Serif", "Liberation Serif", serif' font-weight="700" font-style="normal" font-size="14.6" text-anchor="start" fill="#000">35</text>
<line x1="1550.1" y1="869.3" x2="1554.4" y2="869.3" stroke="#000" stroke-width="1.1"/>
<text transform="translate(1557.55,874.6) scale(1.02,1)" font-family='"DejaVu Serif", "Liberation Serif", serif' font-weight="700" font-style="normal" font-size="14.6" text-anchor="start" fill="#000">30</text>
<line x1="1550.1" y1="923.2" x2="1554.4" y2="923.2" stroke="#000" stroke-width="1.1"/>
<text transform="translate(1557.55,928.5) scale(1.02,1)" font-family='"DejaVu Serif", "Liberation Serif", serif' font-weight="700" font-style="normal" font-size="14.6" text-anchor="start" fill="#000">25</text>
<line x1="1550.1" y1="976.6" x2="1554.4" y2="976.6" stroke="#000" stroke-width="1.1"/>
<text transform="translate(1557.55,981.9) scale(1.02,1)" font-family='"DejaVu Serif", "Liberation Serif", serif' font-weight="700" font-style="normal" font-size="14.6" text-anchor="start" fill="#000">20</text>
<text transform="translate(1600.9,847.8) scale(1.07,1) rotate(-90)" font-family='"DejaVu Sans", "Liberation Sans", sans-serif' font-weight="400" font-style="italic" font-size="17.2" text-anchor="middle" fill="#1a1a1a"><tspan font-style="normal">[</tspan>kmol/m<tspan font-style="normal" font-size="12.04" dy="-6.3">3</tspan><tspan font-style="normal" dy="6.3">]</tspan></text>
</g>
</svg>
</body>
</html>
